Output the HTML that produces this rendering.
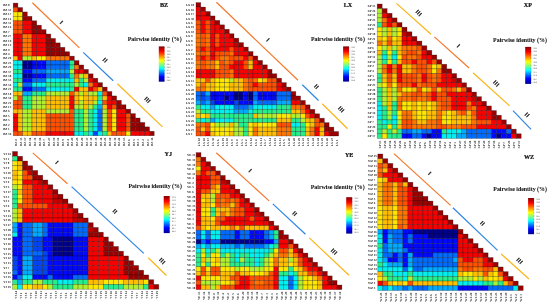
<!DOCTYPE html><html><head><meta charset="utf-8"><style>html,body{margin:0;padding:0;background:#fff;width:550px;height:307px;overflow:hidden}svg{display:block}</style></head><body>
<svg width="550" height="307" viewBox="0 0 550 307">
<rect width="550" height="307" fill="#fff"/>
<g stroke="#000" stroke-width="0.6" stroke-opacity="0.4"><rect x="13.20" y="3.10" width="4.70" height="4.42" fill="#9a0000"/><rect x="13.20" y="7.52" width="4.70" height="4.42" fill="#ff5000"/><rect x="17.90" y="7.52" width="4.70" height="4.42" fill="#9a0000"/><rect x="13.20" y="11.94" width="4.70" height="4.42" fill="#ffe800"/><rect x="17.90" y="11.94" width="4.70" height="4.42" fill="#ffe800"/><rect x="22.60" y="11.94" width="4.70" height="4.42" fill="#9a0000"/><rect x="13.20" y="16.36" width="4.70" height="4.42" fill="#ffe800"/><rect x="17.90" y="16.36" width="4.70" height="4.42" fill="#ffe800"/><rect x="22.60" y="16.36" width="4.70" height="4.42" fill="#9a0000"/><rect x="27.30" y="16.36" width="4.70" height="4.42" fill="#9a0000"/><rect x="13.20" y="20.78" width="4.70" height="4.42" fill="#ff5000"/><rect x="17.90" y="20.78" width="4.70" height="4.42" fill="#ff5000"/><rect x="22.60" y="20.78" width="4.70" height="4.42" fill="#f80000"/><rect x="27.30" y="20.78" width="4.70" height="4.42" fill="#f80000"/><rect x="32.00" y="20.78" width="4.70" height="4.42" fill="#9a0000"/><rect x="13.20" y="25.20" width="4.70" height="4.42" fill="#ff5000"/><rect x="17.90" y="25.20" width="4.70" height="4.42" fill="#ff5000"/><rect x="22.60" y="25.20" width="4.70" height="4.42" fill="#f80000"/><rect x="27.30" y="25.20" width="4.70" height="4.42" fill="#f80000"/><rect x="32.00" y="25.20" width="4.70" height="4.42" fill="#9a0000"/><rect x="36.70" y="25.20" width="4.70" height="4.42" fill="#9a0000"/><rect x="13.20" y="29.62" width="4.70" height="4.42" fill="#ff5000"/><rect x="17.90" y="29.62" width="4.70" height="4.42" fill="#ff5000"/><rect x="22.60" y="29.62" width="4.70" height="4.42" fill="#f80000"/><rect x="27.30" y="29.62" width="4.70" height="4.42" fill="#f80000"/><rect x="32.00" y="29.62" width="4.70" height="4.42" fill="#9a0000"/><rect x="36.70" y="29.62" width="4.70" height="4.42" fill="#9a0000"/><rect x="41.40" y="29.62" width="4.70" height="4.42" fill="#9a0000"/><rect x="13.20" y="34.04" width="4.70" height="4.42" fill="#f80000"/><rect x="17.90" y="34.04" width="4.70" height="4.42" fill="#f80000"/><rect x="22.60" y="34.04" width="4.70" height="4.42" fill="#ff7400"/><rect x="27.30" y="34.04" width="4.70" height="4.42" fill="#ff7400"/><rect x="32.00" y="34.04" width="4.70" height="4.42" fill="#f80000"/><rect x="36.70" y="34.04" width="4.70" height="4.42" fill="#f80000"/><rect x="41.40" y="34.04" width="4.70" height="4.42" fill="#f80000"/><rect x="46.10" y="34.04" width="4.70" height="4.42" fill="#9a0000"/><rect x="13.20" y="38.46" width="4.70" height="4.42" fill="#f80000"/><rect x="17.90" y="38.46" width="4.70" height="4.42" fill="#f80000"/><rect x="22.60" y="38.46" width="4.70" height="4.42" fill="#ff7400"/><rect x="27.30" y="38.46" width="4.70" height="4.42" fill="#ff7400"/><rect x="32.00" y="38.46" width="4.70" height="4.42" fill="#f80000"/><rect x="36.70" y="38.46" width="4.70" height="4.42" fill="#f80000"/><rect x="41.40" y="38.46" width="4.70" height="4.42" fill="#f80000"/><rect x="46.10" y="38.46" width="4.70" height="4.42" fill="#9a0000"/><rect x="50.80" y="38.46" width="4.70" height="4.42" fill="#9a0000"/><rect x="13.20" y="42.88" width="4.70" height="4.42" fill="#f80000"/><rect x="17.90" y="42.88" width="4.70" height="4.42" fill="#f80000"/><rect x="22.60" y="42.88" width="4.70" height="4.42" fill="#ff7400"/><rect x="27.30" y="42.88" width="4.70" height="4.42" fill="#ff7400"/><rect x="32.00" y="42.88" width="4.70" height="4.42" fill="#f80000"/><rect x="36.70" y="42.88" width="4.70" height="4.42" fill="#f80000"/><rect x="41.40" y="42.88" width="4.70" height="4.42" fill="#f80000"/><rect x="46.10" y="42.88" width="4.70" height="4.42" fill="#9a0000"/><rect x="50.80" y="42.88" width="4.70" height="4.42" fill="#9a0000"/><rect x="55.50" y="42.88" width="4.70" height="4.42" fill="#9a0000"/><rect x="13.20" y="47.30" width="4.70" height="4.42" fill="#f80000"/><rect x="17.90" y="47.30" width="4.70" height="4.42" fill="#f80000"/><rect x="22.60" y="47.30" width="4.70" height="4.42" fill="#ff7400"/><rect x="27.30" y="47.30" width="4.70" height="4.42" fill="#ff7400"/><rect x="32.00" y="47.30" width="4.70" height="4.42" fill="#f80000"/><rect x="36.70" y="47.30" width="4.70" height="4.42" fill="#f80000"/><rect x="41.40" y="47.30" width="4.70" height="4.42" fill="#f80000"/><rect x="46.10" y="47.30" width="4.70" height="4.42" fill="#9a0000"/><rect x="50.80" y="47.30" width="4.70" height="4.42" fill="#9a0000"/><rect x="55.50" y="47.30" width="4.70" height="4.42" fill="#9a0000"/><rect x="60.20" y="47.30" width="4.70" height="4.42" fill="#9a0000"/><rect x="13.20" y="51.72" width="4.70" height="4.42" fill="#f80000"/><rect x="17.90" y="51.72" width="4.70" height="4.42" fill="#f80000"/><rect x="22.60" y="51.72" width="4.70" height="4.42" fill="#ff7400"/><rect x="27.30" y="51.72" width="4.70" height="4.42" fill="#ff7400"/><rect x="32.00" y="51.72" width="4.70" height="4.42" fill="#f80000"/><rect x="36.70" y="51.72" width="4.70" height="4.42" fill="#f80000"/><rect x="41.40" y="51.72" width="4.70" height="4.42" fill="#f80000"/><rect x="46.10" y="51.72" width="4.70" height="4.42" fill="#9a0000"/><rect x="50.80" y="51.72" width="4.70" height="4.42" fill="#9a0000"/><rect x="55.50" y="51.72" width="4.70" height="4.42" fill="#9a0000"/><rect x="60.20" y="51.72" width="4.70" height="4.42" fill="#9a0000"/><rect x="64.90" y="51.72" width="4.70" height="4.42" fill="#9a0000"/><rect x="13.20" y="56.14" width="4.70" height="4.42" fill="#ffbf00"/><rect x="17.90" y="56.14" width="4.70" height="4.42" fill="#f80000"/><rect x="22.60" y="56.14" width="4.70" height="4.42" fill="#b0f030"/><rect x="27.30" y="56.14" width="4.70" height="4.42" fill="#b0f030"/><rect x="32.00" y="56.14" width="4.70" height="4.42" fill="#ffbf00"/><rect x="36.70" y="56.14" width="4.70" height="4.42" fill="#ffe800"/><rect x="41.40" y="56.14" width="4.70" height="4.42" fill="#ffe800"/><rect x="46.10" y="56.14" width="4.70" height="4.42" fill="#ff7400"/><rect x="50.80" y="56.14" width="4.70" height="4.42" fill="#ff7400"/><rect x="55.50" y="56.14" width="4.70" height="4.42" fill="#ff7400"/><rect x="60.20" y="56.14" width="4.70" height="4.42" fill="#ff7400"/><rect x="64.90" y="56.14" width="4.70" height="4.42" fill="#ff7400"/><rect x="69.60" y="56.14" width="4.70" height="4.42" fill="#9a0000"/><rect x="13.20" y="60.56" width="4.70" height="4.42" fill="#00f0f0"/><rect x="17.90" y="60.56" width="4.70" height="4.42" fill="#00f0f0"/><rect x="22.60" y="60.56" width="4.70" height="4.42" fill="#000090"/><rect x="27.30" y="60.56" width="4.70" height="4.42" fill="#000090"/><rect x="32.00" y="60.56" width="4.70" height="4.42" fill="#0008ff"/><rect x="36.70" y="60.56" width="4.70" height="4.42" fill="#0008ff"/><rect x="41.40" y="60.56" width="4.70" height="4.42" fill="#0008ff"/><rect x="46.10" y="60.56" width="4.70" height="4.42" fill="#006cff"/><rect x="50.80" y="60.56" width="4.70" height="4.42" fill="#006cff"/><rect x="55.50" y="60.56" width="4.70" height="4.42" fill="#006cff"/><rect x="60.20" y="60.56" width="4.70" height="4.42" fill="#006cff"/><rect x="64.90" y="60.56" width="4.70" height="4.42" fill="#006cff"/><rect x="69.60" y="60.56" width="4.70" height="4.42" fill="#26ee8c"/><rect x="74.30" y="60.56" width="4.70" height="4.42" fill="#9a0000"/><rect x="13.20" y="64.98" width="4.70" height="4.42" fill="#00f0f0"/><rect x="17.90" y="64.98" width="4.70" height="4.42" fill="#00f0f0"/><rect x="22.60" y="64.98" width="4.70" height="4.42" fill="#000090"/><rect x="27.30" y="64.98" width="4.70" height="4.42" fill="#000090"/><rect x="32.00" y="64.98" width="4.70" height="4.42" fill="#0008ff"/><rect x="36.70" y="64.98" width="4.70" height="4.42" fill="#0008ff"/><rect x="41.40" y="64.98" width="4.70" height="4.42" fill="#0008ff"/><rect x="46.10" y="64.98" width="4.70" height="4.42" fill="#006cff"/><rect x="50.80" y="64.98" width="4.70" height="4.42" fill="#006cff"/><rect x="55.50" y="64.98" width="4.70" height="4.42" fill="#006cff"/><rect x="60.20" y="64.98" width="4.70" height="4.42" fill="#006cff"/><rect x="64.90" y="64.98" width="4.70" height="4.42" fill="#006cff"/><rect x="69.60" y="64.98" width="4.70" height="4.42" fill="#26ee8c"/><rect x="74.30" y="64.98" width="4.70" height="4.42" fill="#ff7400"/><rect x="79.00" y="64.98" width="4.70" height="4.42" fill="#9a0000"/><rect x="13.20" y="69.40" width="4.70" height="4.42" fill="#26ee8c"/><rect x="17.90" y="69.40" width="4.70" height="4.42" fill="#26ee8c"/><rect x="22.60" y="69.40" width="4.70" height="4.42" fill="#0008ff"/><rect x="27.30" y="69.40" width="4.70" height="4.42" fill="#0008ff"/><rect x="32.00" y="69.40" width="4.70" height="4.42" fill="#006cff"/><rect x="36.70" y="69.40" width="4.70" height="4.42" fill="#006cff"/><rect x="41.40" y="69.40" width="4.70" height="4.42" fill="#006cff"/><rect x="46.10" y="69.40" width="4.70" height="4.42" fill="#00aaff"/><rect x="50.80" y="69.40" width="4.70" height="4.42" fill="#00aaff"/><rect x="55.50" y="69.40" width="4.70" height="4.42" fill="#00aaff"/><rect x="60.20" y="69.40" width="4.70" height="4.42" fill="#00aaff"/><rect x="64.90" y="69.40" width="4.70" height="4.42" fill="#00aaff"/><rect x="69.60" y="69.40" width="4.70" height="4.42" fill="#b0f030"/><rect x="74.30" y="69.40" width="4.70" height="4.42" fill="#f80000"/><rect x="79.00" y="69.40" width="4.70" height="4.42" fill="#f80000"/><rect x="83.70" y="69.40" width="4.70" height="4.42" fill="#9a0000"/><rect x="13.20" y="73.82" width="4.70" height="4.42" fill="#00f0f0"/><rect x="17.90" y="73.82" width="4.70" height="4.42" fill="#00f0f0"/><rect x="22.60" y="73.82" width="4.70" height="4.42" fill="#000090"/><rect x="27.30" y="73.82" width="4.70" height="4.42" fill="#000090"/><rect x="32.00" y="73.82" width="4.70" height="4.42" fill="#0008ff"/><rect x="36.70" y="73.82" width="4.70" height="4.42" fill="#0008ff"/><rect x="41.40" y="73.82" width="4.70" height="4.42" fill="#0008ff"/><rect x="46.10" y="73.82" width="4.70" height="4.42" fill="#006cff"/><rect x="50.80" y="73.82" width="4.70" height="4.42" fill="#006cff"/><rect x="55.50" y="73.82" width="4.70" height="4.42" fill="#006cff"/><rect x="60.20" y="73.82" width="4.70" height="4.42" fill="#006cff"/><rect x="64.90" y="73.82" width="4.70" height="4.42" fill="#006cff"/><rect x="69.60" y="73.82" width="4.70" height="4.42" fill="#26ee8c"/><rect x="74.30" y="73.82" width="4.70" height="4.42" fill="#ff7400"/><rect x="79.00" y="73.82" width="4.70" height="4.42" fill="#b0f030"/><rect x="83.70" y="73.82" width="4.70" height="4.42" fill="#ffbf00"/><rect x="88.40" y="73.82" width="4.70" height="4.42" fill="#9a0000"/><rect x="13.20" y="78.24" width="4.70" height="4.42" fill="#26ee8c"/><rect x="17.90" y="78.24" width="4.70" height="4.42" fill="#26ee8c"/><rect x="22.60" y="78.24" width="4.70" height="4.42" fill="#0008ff"/><rect x="27.30" y="78.24" width="4.70" height="4.42" fill="#0008ff"/><rect x="32.00" y="78.24" width="4.70" height="4.42" fill="#006cff"/><rect x="36.70" y="78.24" width="4.70" height="4.42" fill="#006cff"/><rect x="41.40" y="78.24" width="4.70" height="4.42" fill="#006cff"/><rect x="46.10" y="78.24" width="4.70" height="4.42" fill="#00f0f0"/><rect x="50.80" y="78.24" width="4.70" height="4.42" fill="#00f0f0"/><rect x="55.50" y="78.24" width="4.70" height="4.42" fill="#00f0f0"/><rect x="60.20" y="78.24" width="4.70" height="4.42" fill="#00f0f0"/><rect x="64.90" y="78.24" width="4.70" height="4.42" fill="#00f0f0"/><rect x="69.60" y="78.24" width="4.70" height="4.42" fill="#00f0f0"/><rect x="74.30" y="78.24" width="4.70" height="4.42" fill="#ffbf00"/><rect x="79.00" y="78.24" width="4.70" height="4.42" fill="#26ee8c"/><rect x="83.70" y="78.24" width="4.70" height="4.42" fill="#b0f030"/><rect x="88.40" y="78.24" width="4.70" height="4.42" fill="#f80000"/><rect x="93.10" y="78.24" width="4.70" height="4.42" fill="#9a0000"/><rect x="13.20" y="82.66" width="4.70" height="4.42" fill="#00f0f0"/><rect x="17.90" y="82.66" width="4.70" height="4.42" fill="#b0f030"/><rect x="22.60" y="82.66" width="4.70" height="4.42" fill="#006cff"/><rect x="27.30" y="82.66" width="4.70" height="4.42" fill="#006cff"/><rect x="32.00" y="82.66" width="4.70" height="4.42" fill="#00f0f0"/><rect x="36.70" y="82.66" width="4.70" height="4.42" fill="#00f0f0"/><rect x="41.40" y="82.66" width="4.70" height="4.42" fill="#00f0f0"/><rect x="46.10" y="82.66" width="4.70" height="4.42" fill="#26ee8c"/><rect x="50.80" y="82.66" width="4.70" height="4.42" fill="#26ee8c"/><rect x="55.50" y="82.66" width="4.70" height="4.42" fill="#26ee8c"/><rect x="60.20" y="82.66" width="4.70" height="4.42" fill="#26ee8c"/><rect x="64.90" y="82.66" width="4.70" height="4.42" fill="#26ee8c"/><rect x="69.60" y="82.66" width="4.70" height="4.42" fill="#26ee8c"/><rect x="74.30" y="82.66" width="4.70" height="4.42" fill="#b0f030"/><rect x="79.00" y="82.66" width="4.70" height="4.42" fill="#26ee8c"/><rect x="83.70" y="82.66" width="4.70" height="4.42" fill="#00f0f0"/><rect x="88.40" y="82.66" width="4.70" height="4.42" fill="#ff7400"/><rect x="93.10" y="82.66" width="4.70" height="4.42" fill="#f80000"/><rect x="97.80" y="82.66" width="4.70" height="4.42" fill="#9a0000"/><rect x="13.20" y="87.08" width="4.70" height="4.42" fill="#26ee8c"/><rect x="17.90" y="87.08" width="4.70" height="4.42" fill="#26ee8c"/><rect x="22.60" y="87.08" width="4.70" height="4.42" fill="#0008ff"/><rect x="27.30" y="87.08" width="4.70" height="4.42" fill="#0008ff"/><rect x="32.00" y="87.08" width="4.70" height="4.42" fill="#006cff"/><rect x="36.70" y="87.08" width="4.70" height="4.42" fill="#006cff"/><rect x="41.40" y="87.08" width="4.70" height="4.42" fill="#006cff"/><rect x="46.10" y="87.08" width="4.70" height="4.42" fill="#00f0f0"/><rect x="50.80" y="87.08" width="4.70" height="4.42" fill="#00f0f0"/><rect x="55.50" y="87.08" width="4.70" height="4.42" fill="#00f0f0"/><rect x="60.20" y="87.08" width="4.70" height="4.42" fill="#00f0f0"/><rect x="64.90" y="87.08" width="4.70" height="4.42" fill="#00f0f0"/><rect x="69.60" y="87.08" width="4.70" height="4.42" fill="#26ee8c"/><rect x="74.30" y="87.08" width="4.70" height="4.42" fill="#f80000"/><rect x="79.00" y="87.08" width="4.70" height="4.42" fill="#ffbf00"/><rect x="83.70" y="87.08" width="4.70" height="4.42" fill="#ffbf00"/><rect x="88.40" y="87.08" width="4.70" height="4.42" fill="#f80000"/><rect x="93.10" y="87.08" width="4.70" height="4.42" fill="#ff5000"/><rect x="97.80" y="87.08" width="4.70" height="4.42" fill="#ffbf00"/><rect x="102.50" y="87.08" width="4.70" height="4.42" fill="#9a0000"/><rect x="13.20" y="91.50" width="4.70" height="4.42" fill="#ffbf00"/><rect x="17.90" y="91.50" width="4.70" height="4.42" fill="#ffbf00"/><rect x="22.60" y="91.50" width="4.70" height="4.42" fill="#00aaff"/><rect x="27.30" y="91.50" width="4.70" height="4.42" fill="#00aaff"/><rect x="32.00" y="91.50" width="4.70" height="4.42" fill="#26ee8c"/><rect x="36.70" y="91.50" width="4.70" height="4.42" fill="#26ee8c"/><rect x="41.40" y="91.50" width="4.70" height="4.42" fill="#26ee8c"/><rect x="46.10" y="91.50" width="4.70" height="4.42" fill="#b0f030"/><rect x="50.80" y="91.50" width="4.70" height="4.42" fill="#b0f030"/><rect x="55.50" y="91.50" width="4.70" height="4.42" fill="#b0f030"/><rect x="60.20" y="91.50" width="4.70" height="4.42" fill="#b0f030"/><rect x="64.90" y="91.50" width="4.70" height="4.42" fill="#b0f030"/><rect x="69.60" y="91.50" width="4.70" height="4.42" fill="#ff5000"/><rect x="74.30" y="91.50" width="4.70" height="4.42" fill="#ffbf00"/><rect x="79.00" y="91.50" width="4.70" height="4.42" fill="#b0f030"/><rect x="83.70" y="91.50" width="4.70" height="4.42" fill="#ffbf00"/><rect x="88.40" y="91.50" width="4.70" height="4.42" fill="#b0f030"/><rect x="93.10" y="91.50" width="4.70" height="4.42" fill="#b0f030"/><rect x="97.80" y="91.50" width="4.70" height="4.42" fill="#00f0f0"/><rect x="102.50" y="91.50" width="4.70" height="4.42" fill="#ff5000"/><rect x="107.20" y="91.50" width="4.70" height="4.42" fill="#9a0000"/><rect x="13.20" y="95.92" width="4.70" height="4.42" fill="#b0f030"/><rect x="17.90" y="95.92" width="4.70" height="4.42" fill="#ff5000"/><rect x="22.60" y="95.92" width="4.70" height="4.42" fill="#26ee8c"/><rect x="27.30" y="95.92" width="4.70" height="4.42" fill="#26ee8c"/><rect x="32.00" y="95.92" width="4.70" height="4.42" fill="#b0f030"/><rect x="36.70" y="95.92" width="4.70" height="4.42" fill="#b0f030"/><rect x="41.40" y="95.92" width="4.70" height="4.42" fill="#b0f030"/><rect x="46.10" y="95.92" width="4.70" height="4.42" fill="#ffbf00"/><rect x="50.80" y="95.92" width="4.70" height="4.42" fill="#ffbf00"/><rect x="55.50" y="95.92" width="4.70" height="4.42" fill="#ffbf00"/><rect x="60.20" y="95.92" width="4.70" height="4.42" fill="#ffbf00"/><rect x="64.90" y="95.92" width="4.70" height="4.42" fill="#ffbf00"/><rect x="69.60" y="95.92" width="4.70" height="4.42" fill="#f80000"/><rect x="74.30" y="95.92" width="4.70" height="4.42" fill="#ffbf00"/><rect x="79.00" y="95.92" width="4.70" height="4.42" fill="#ffe800"/><rect x="83.70" y="95.92" width="4.70" height="4.42" fill="#ffbf00"/><rect x="88.40" y="95.92" width="4.70" height="4.42" fill="#ffbf00"/><rect x="93.10" y="95.92" width="4.70" height="4.42" fill="#ffbf00"/><rect x="97.80" y="95.92" width="4.70" height="4.42" fill="#26ee8c"/><rect x="102.50" y="95.92" width="4.70" height="4.42" fill="#ffbf00"/><rect x="107.20" y="95.92" width="4.70" height="4.42" fill="#f80000"/><rect x="111.90" y="95.92" width="4.70" height="4.42" fill="#9a0000"/><rect x="13.20" y="100.34" width="4.70" height="4.42" fill="#ff5000"/><rect x="17.90" y="100.34" width="4.70" height="4.42" fill="#ff5000"/><rect x="22.60" y="100.34" width="4.70" height="4.42" fill="#26ee8c"/><rect x="27.30" y="100.34" width="4.70" height="4.42" fill="#26ee8c"/><rect x="32.00" y="100.34" width="4.70" height="4.42" fill="#b0f030"/><rect x="36.70" y="100.34" width="4.70" height="4.42" fill="#b0f030"/><rect x="41.40" y="100.34" width="4.70" height="4.42" fill="#b0f030"/><rect x="46.10" y="100.34" width="4.70" height="4.42" fill="#ffbf00"/><rect x="50.80" y="100.34" width="4.70" height="4.42" fill="#ffbf00"/><rect x="55.50" y="100.34" width="4.70" height="4.42" fill="#ffbf00"/><rect x="60.20" y="100.34" width="4.70" height="4.42" fill="#ffbf00"/><rect x="64.90" y="100.34" width="4.70" height="4.42" fill="#ffbf00"/><rect x="69.60" y="100.34" width="4.70" height="4.42" fill="#f80000"/><rect x="74.30" y="100.34" width="4.70" height="4.42" fill="#ffbf00"/><rect x="79.00" y="100.34" width="4.70" height="4.42" fill="#b0f030"/><rect x="83.70" y="100.34" width="4.70" height="4.42" fill="#ffbf00"/><rect x="88.40" y="100.34" width="4.70" height="4.42" fill="#ffbf00"/><rect x="93.10" y="100.34" width="4.70" height="4.42" fill="#b0f030"/><rect x="97.80" y="100.34" width="4.70" height="4.42" fill="#00f0f0"/><rect x="102.50" y="100.34" width="4.70" height="4.42" fill="#ff5000"/><rect x="107.20" y="100.34" width="4.70" height="4.42" fill="#f80000"/><rect x="111.90" y="100.34" width="4.70" height="4.42" fill="#f80000"/><rect x="116.60" y="100.34" width="4.70" height="4.42" fill="#9a0000"/><rect x="13.20" y="104.76" width="4.70" height="4.42" fill="#ff5000"/><rect x="17.90" y="104.76" width="4.70" height="4.42" fill="#ff5000"/><rect x="22.60" y="104.76" width="4.70" height="4.42" fill="#26ee8c"/><rect x="27.30" y="104.76" width="4.70" height="4.42" fill="#26ee8c"/><rect x="32.00" y="104.76" width="4.70" height="4.42" fill="#b0f030"/><rect x="36.70" y="104.76" width="4.70" height="4.42" fill="#b0f030"/><rect x="41.40" y="104.76" width="4.70" height="4.42" fill="#b0f030"/><rect x="46.10" y="104.76" width="4.70" height="4.42" fill="#ffbf00"/><rect x="50.80" y="104.76" width="4.70" height="4.42" fill="#ffbf00"/><rect x="55.50" y="104.76" width="4.70" height="4.42" fill="#ffbf00"/><rect x="60.20" y="104.76" width="4.70" height="4.42" fill="#ffbf00"/><rect x="64.90" y="104.76" width="4.70" height="4.42" fill="#ffbf00"/><rect x="69.60" y="104.76" width="4.70" height="4.42" fill="#f80000"/><rect x="74.30" y="104.76" width="4.70" height="4.42" fill="#b0f030"/><rect x="79.00" y="104.76" width="4.70" height="4.42" fill="#b0f030"/><rect x="83.70" y="104.76" width="4.70" height="4.42" fill="#ffbf00"/><rect x="88.40" y="104.76" width="4.70" height="4.42" fill="#b0f030"/><rect x="93.10" y="104.76" width="4.70" height="4.42" fill="#26ee8c"/><rect x="97.80" y="104.76" width="4.70" height="4.42" fill="#00aaff"/><rect x="102.50" y="104.76" width="4.70" height="4.42" fill="#ffbf00"/><rect x="107.20" y="104.76" width="4.70" height="4.42" fill="#f80000"/><rect x="111.90" y="104.76" width="4.70" height="4.42" fill="#ff5000"/><rect x="116.60" y="104.76" width="4.70" height="4.42" fill="#9a0000"/><rect x="121.30" y="104.76" width="4.70" height="4.42" fill="#9a0000"/><rect x="13.20" y="109.18" width="4.70" height="4.42" fill="#ffbf00"/><rect x="17.90" y="109.18" width="4.70" height="4.42" fill="#ffbf00"/><rect x="22.60" y="109.18" width="4.70" height="4.42" fill="#b0f030"/><rect x="27.30" y="109.18" width="4.70" height="4.42" fill="#b0f030"/><rect x="32.00" y="109.18" width="4.70" height="4.42" fill="#ffbf00"/><rect x="36.70" y="109.18" width="4.70" height="4.42" fill="#ffbf00"/><rect x="41.40" y="109.18" width="4.70" height="4.42" fill="#ffbf00"/><rect x="46.10" y="109.18" width="4.70" height="4.42" fill="#b0f030"/><rect x="50.80" y="109.18" width="4.70" height="4.42" fill="#b0f030"/><rect x="55.50" y="109.18" width="4.70" height="4.42" fill="#b0f030"/><rect x="60.20" y="109.18" width="4.70" height="4.42" fill="#b0f030"/><rect x="64.90" y="109.18" width="4.70" height="4.42" fill="#b0f030"/><rect x="69.60" y="109.18" width="4.70" height="4.42" fill="#ff5000"/><rect x="74.30" y="109.18" width="4.70" height="4.42" fill="#26ee8c"/><rect x="79.00" y="109.18" width="4.70" height="4.42" fill="#26ee8c"/><rect x="83.70" y="109.18" width="4.70" height="4.42" fill="#b0f030"/><rect x="88.40" y="109.18" width="4.70" height="4.42" fill="#26ee8c"/><rect x="93.10" y="109.18" width="4.70" height="4.42" fill="#00f0f0"/><rect x="97.80" y="109.18" width="4.70" height="4.42" fill="#006cff"/><rect x="102.50" y="109.18" width="4.70" height="4.42" fill="#b0f030"/><rect x="107.20" y="109.18" width="4.70" height="4.42" fill="#ff5000"/><rect x="111.90" y="109.18" width="4.70" height="4.42" fill="#ffe800"/><rect x="116.60" y="109.18" width="4.70" height="4.42" fill="#f80000"/><rect x="121.30" y="109.18" width="4.70" height="4.42" fill="#f80000"/><rect x="126.00" y="109.18" width="4.70" height="4.42" fill="#9a0000"/><rect x="13.20" y="113.60" width="4.70" height="4.42" fill="#f80000"/><rect x="17.90" y="113.60" width="4.70" height="4.42" fill="#ffbf00"/><rect x="22.60" y="113.60" width="4.70" height="4.42" fill="#b0f030"/><rect x="27.30" y="113.60" width="4.70" height="4.42" fill="#b0f030"/><rect x="32.00" y="113.60" width="4.70" height="4.42" fill="#ffbf00"/><rect x="36.70" y="113.60" width="4.70" height="4.42" fill="#ffbf00"/><rect x="41.40" y="113.60" width="4.70" height="4.42" fill="#ffbf00"/><rect x="46.10" y="113.60" width="4.70" height="4.42" fill="#ff5000"/><rect x="50.80" y="113.60" width="4.70" height="4.42" fill="#ff5000"/><rect x="55.50" y="113.60" width="4.70" height="4.42" fill="#ff5000"/><rect x="60.20" y="113.60" width="4.70" height="4.42" fill="#ff5000"/><rect x="64.90" y="113.60" width="4.70" height="4.42" fill="#ff5000"/><rect x="69.60" y="113.60" width="4.70" height="4.42" fill="#ff5000"/><rect x="74.30" y="113.60" width="4.70" height="4.42" fill="#26ee8c"/><rect x="79.00" y="113.60" width="4.70" height="4.42" fill="#26ee8c"/><rect x="83.70" y="113.60" width="4.70" height="4.42" fill="#b0f030"/><rect x="88.40" y="113.60" width="4.70" height="4.42" fill="#26ee8c"/><rect x="93.10" y="113.60" width="4.70" height="4.42" fill="#00f0f0"/><rect x="97.80" y="113.60" width="4.70" height="4.42" fill="#006cff"/><rect x="102.50" y="113.60" width="4.70" height="4.42" fill="#b0f030"/><rect x="107.20" y="113.60" width="4.70" height="4.42" fill="#ff5000"/><rect x="111.90" y="113.60" width="4.70" height="4.42" fill="#ffe800"/><rect x="116.60" y="113.60" width="4.70" height="4.42" fill="#f80000"/><rect x="121.30" y="113.60" width="4.70" height="4.42" fill="#f80000"/><rect x="126.00" y="113.60" width="4.70" height="4.42" fill="#ff5000"/><rect x="130.70" y="113.60" width="4.70" height="4.42" fill="#9a0000"/><rect x="13.20" y="118.02" width="4.70" height="4.42" fill="#f80000"/><rect x="17.90" y="118.02" width="4.70" height="4.42" fill="#ffbf00"/><rect x="22.60" y="118.02" width="4.70" height="4.42" fill="#b0f030"/><rect x="27.30" y="118.02" width="4.70" height="4.42" fill="#b0f030"/><rect x="32.00" y="118.02" width="4.70" height="4.42" fill="#ffbf00"/><rect x="36.70" y="118.02" width="4.70" height="4.42" fill="#ffbf00"/><rect x="41.40" y="118.02" width="4.70" height="4.42" fill="#ffbf00"/><rect x="46.10" y="118.02" width="4.70" height="4.42" fill="#ff5000"/><rect x="50.80" y="118.02" width="4.70" height="4.42" fill="#ff5000"/><rect x="55.50" y="118.02" width="4.70" height="4.42" fill="#ff5000"/><rect x="60.20" y="118.02" width="4.70" height="4.42" fill="#ff5000"/><rect x="64.90" y="118.02" width="4.70" height="4.42" fill="#ff5000"/><rect x="69.60" y="118.02" width="4.70" height="4.42" fill="#ff5000"/><rect x="74.30" y="118.02" width="4.70" height="4.42" fill="#26ee8c"/><rect x="79.00" y="118.02" width="4.70" height="4.42" fill="#26ee8c"/><rect x="83.70" y="118.02" width="4.70" height="4.42" fill="#b0f030"/><rect x="88.40" y="118.02" width="4.70" height="4.42" fill="#26ee8c"/><rect x="93.10" y="118.02" width="4.70" height="4.42" fill="#00f0f0"/><rect x="97.80" y="118.02" width="4.70" height="4.42" fill="#006cff"/><rect x="102.50" y="118.02" width="4.70" height="4.42" fill="#b0f030"/><rect x="107.20" y="118.02" width="4.70" height="4.42" fill="#ff5000"/><rect x="111.90" y="118.02" width="4.70" height="4.42" fill="#ffe800"/><rect x="116.60" y="118.02" width="4.70" height="4.42" fill="#f80000"/><rect x="121.30" y="118.02" width="4.70" height="4.42" fill="#f80000"/><rect x="126.00" y="118.02" width="4.70" height="4.42" fill="#ff5000"/><rect x="130.70" y="118.02" width="4.70" height="4.42" fill="#9a0000"/><rect x="135.40" y="118.02" width="4.70" height="4.42" fill="#9a0000"/><rect x="13.20" y="122.44" width="4.70" height="4.42" fill="#f80000"/><rect x="17.90" y="122.44" width="4.70" height="4.42" fill="#ffbf00"/><rect x="22.60" y="122.44" width="4.70" height="4.42" fill="#b0f030"/><rect x="27.30" y="122.44" width="4.70" height="4.42" fill="#b0f030"/><rect x="32.00" y="122.44" width="4.70" height="4.42" fill="#ffbf00"/><rect x="36.70" y="122.44" width="4.70" height="4.42" fill="#ffbf00"/><rect x="41.40" y="122.44" width="4.70" height="4.42" fill="#ffbf00"/><rect x="46.10" y="122.44" width="4.70" height="4.42" fill="#ff5000"/><rect x="50.80" y="122.44" width="4.70" height="4.42" fill="#ff5000"/><rect x="55.50" y="122.44" width="4.70" height="4.42" fill="#ff5000"/><rect x="60.20" y="122.44" width="4.70" height="4.42" fill="#ff5000"/><rect x="64.90" y="122.44" width="4.70" height="4.42" fill="#ff5000"/><rect x="69.60" y="122.44" width="4.70" height="4.42" fill="#ff5000"/><rect x="74.30" y="122.44" width="4.70" height="4.42" fill="#26ee8c"/><rect x="79.00" y="122.44" width="4.70" height="4.42" fill="#26ee8c"/><rect x="83.70" y="122.44" width="4.70" height="4.42" fill="#b0f030"/><rect x="88.40" y="122.44" width="4.70" height="4.42" fill="#26ee8c"/><rect x="93.10" y="122.44" width="4.70" height="4.42" fill="#00f0f0"/><rect x="97.80" y="122.44" width="4.70" height="4.42" fill="#006cff"/><rect x="102.50" y="122.44" width="4.70" height="4.42" fill="#b0f030"/><rect x="107.20" y="122.44" width="4.70" height="4.42" fill="#ff5000"/><rect x="111.90" y="122.44" width="4.70" height="4.42" fill="#ffe800"/><rect x="116.60" y="122.44" width="4.70" height="4.42" fill="#f80000"/><rect x="121.30" y="122.44" width="4.70" height="4.42" fill="#f80000"/><rect x="126.00" y="122.44" width="4.70" height="4.42" fill="#ff5000"/><rect x="130.70" y="122.44" width="4.70" height="4.42" fill="#9a0000"/><rect x="135.40" y="122.44" width="4.70" height="4.42" fill="#9a0000"/><rect x="140.10" y="122.44" width="4.70" height="4.42" fill="#9a0000"/><rect x="13.20" y="126.86" width="4.70" height="4.42" fill="#f80000"/><rect x="17.90" y="126.86" width="4.70" height="4.42" fill="#ffbf00"/><rect x="22.60" y="126.86" width="4.70" height="4.42" fill="#b0f030"/><rect x="27.30" y="126.86" width="4.70" height="4.42" fill="#b0f030"/><rect x="32.00" y="126.86" width="4.70" height="4.42" fill="#ffbf00"/><rect x="36.70" y="126.86" width="4.70" height="4.42" fill="#ffbf00"/><rect x="41.40" y="126.86" width="4.70" height="4.42" fill="#ffbf00"/><rect x="46.10" y="126.86" width="4.70" height="4.42" fill="#ff5000"/><rect x="50.80" y="126.86" width="4.70" height="4.42" fill="#ff5000"/><rect x="55.50" y="126.86" width="4.70" height="4.42" fill="#ff5000"/><rect x="60.20" y="126.86" width="4.70" height="4.42" fill="#ff5000"/><rect x="64.90" y="126.86" width="4.70" height="4.42" fill="#ff5000"/><rect x="69.60" y="126.86" width="4.70" height="4.42" fill="#ff5000"/><rect x="74.30" y="126.86" width="4.70" height="4.42" fill="#26ee8c"/><rect x="79.00" y="126.86" width="4.70" height="4.42" fill="#26ee8c"/><rect x="83.70" y="126.86" width="4.70" height="4.42" fill="#b0f030"/><rect x="88.40" y="126.86" width="4.70" height="4.42" fill="#26ee8c"/><rect x="93.10" y="126.86" width="4.70" height="4.42" fill="#00f0f0"/><rect x="97.80" y="126.86" width="4.70" height="4.42" fill="#006cff"/><rect x="102.50" y="126.86" width="4.70" height="4.42" fill="#b0f030"/><rect x="107.20" y="126.86" width="4.70" height="4.42" fill="#ff5000"/><rect x="111.90" y="126.86" width="4.70" height="4.42" fill="#ffe800"/><rect x="116.60" y="126.86" width="4.70" height="4.42" fill="#f80000"/><rect x="121.30" y="126.86" width="4.70" height="4.42" fill="#f80000"/><rect x="126.00" y="126.86" width="4.70" height="4.42" fill="#ff5000"/><rect x="130.70" y="126.86" width="4.70" height="4.42" fill="#9a0000"/><rect x="135.40" y="126.86" width="4.70" height="4.42" fill="#9a0000"/><rect x="140.10" y="126.86" width="4.70" height="4.42" fill="#9a0000"/><rect x="144.80" y="126.86" width="4.70" height="4.42" fill="#9a0000"/><rect x="13.20" y="131.28" width="4.70" height="4.42" fill="#ff5000"/><rect x="17.90" y="131.28" width="4.70" height="4.42" fill="#ff5000"/><rect x="22.60" y="131.28" width="4.70" height="4.42" fill="#ffbf00"/><rect x="27.30" y="131.28" width="4.70" height="4.42" fill="#ffbf00"/><rect x="32.00" y="131.28" width="4.70" height="4.42" fill="#ff5000"/><rect x="36.70" y="131.28" width="4.70" height="4.42" fill="#ff5000"/><rect x="41.40" y="131.28" width="4.70" height="4.42" fill="#ff5000"/><rect x="46.10" y="131.28" width="4.70" height="4.42" fill="#f80000"/><rect x="50.80" y="131.28" width="4.70" height="4.42" fill="#f80000"/><rect x="55.50" y="131.28" width="4.70" height="4.42" fill="#f80000"/><rect x="60.20" y="131.28" width="4.70" height="4.42" fill="#f80000"/><rect x="64.90" y="131.28" width="4.70" height="4.42" fill="#f80000"/><rect x="69.60" y="131.28" width="4.70" height="4.42" fill="#f80000"/><rect x="74.30" y="131.28" width="4.70" height="4.42" fill="#00f0f0"/><rect x="79.00" y="131.28" width="4.70" height="4.42" fill="#00f0f0"/><rect x="83.70" y="131.28" width="4.70" height="4.42" fill="#26ee8c"/><rect x="88.40" y="131.28" width="4.70" height="4.42" fill="#00f0f0"/><rect x="93.10" y="131.28" width="4.70" height="4.42" fill="#0044f4"/><rect x="97.80" y="131.28" width="4.70" height="4.42" fill="#00f0f0"/><rect x="102.50" y="131.28" width="4.70" height="4.42" fill="#26ee8c"/><rect x="107.20" y="131.28" width="4.70" height="4.42" fill="#ffbf00"/><rect x="111.90" y="131.28" width="4.70" height="4.42" fill="#ff5000"/><rect x="116.60" y="131.28" width="4.70" height="4.42" fill="#ff5000"/><rect x="121.30" y="131.28" width="4.70" height="4.42" fill="#ff5000"/><rect x="126.00" y="131.28" width="4.70" height="4.42" fill="#ffe800"/><rect x="130.70" y="131.28" width="4.70" height="4.42" fill="#f80000"/><rect x="135.40" y="131.28" width="4.70" height="4.42" fill="#f80000"/><rect x="140.10" y="131.28" width="4.70" height="4.42" fill="#f80000"/><rect x="144.80" y="131.28" width="4.70" height="4.42" fill="#f80000"/><rect x="149.50" y="131.28" width="4.70" height="4.42" fill="#9a0000"/></g>
<g font-family="Liberation Serif, serif" font-weight="bold" font-size="3.1" fill="#222" text-rendering="geometricPrecision" text-anchor="start"><text x="3.20" y="6.33">BZ 8</text><text x="3.20" y="10.75">BZ 33</text><text x="3.20" y="15.17">BZ 17</text><text x="3.20" y="19.59">BZ 14</text><text x="3.20" y="24.01">BZ 31</text><text x="3.20" y="28.43">BZ 16</text><text x="3.20" y="32.85">BZ 7</text><text x="3.20" y="37.27">BZ 27</text><text x="3.20" y="41.69">BZ 19</text><text x="3.20" y="46.11">BZ 12</text><text x="3.20" y="50.53">BZ 9</text><text x="3.20" y="54.95">BZ 4</text><text x="3.20" y="59.37">BZ 20</text><text x="3.20" y="63.79">BZ 25</text><text x="3.20" y="68.21">BZ 29</text><text x="3.20" y="72.63">BZ 37</text><text x="3.20" y="77.05">BZ 38</text><text x="3.20" y="81.47">BZ 35</text><text x="3.20" y="85.89">BZ 34</text><text x="3.20" y="90.31">BZ 21</text><text x="3.20" y="94.73">BZ 18</text><text x="3.20" y="99.15">BZ 30</text><text x="3.20" y="103.57">BZ 22</text><text x="3.20" y="107.99">BZ 13</text><text x="3.20" y="112.41">BZ 6</text><text x="3.20" y="116.83">BZ 5</text><text x="3.20" y="121.25">BZ 3</text><text x="3.20" y="125.67">BZ 2</text><text x="3.20" y="130.09">BZ 1</text><text x="3.20" y="134.51">BZ 36</text></g>
<g font-family="Liberation Serif, serif" font-weight="bold" font-size="3.1" fill="#222" text-rendering="geometricPrecision" text-anchor="start"><text transform="translate(17.03,145.70) rotate(-90)">BZ 8</text><text transform="translate(21.73,145.70) rotate(-90)">BZ 33</text><text transform="translate(26.44,145.70) rotate(-90)">BZ 17</text><text transform="translate(31.14,145.70) rotate(-90)">BZ 14</text><text transform="translate(35.84,145.70) rotate(-90)">BZ 31</text><text transform="translate(40.54,145.70) rotate(-90)">BZ 16</text><text transform="translate(45.24,145.70) rotate(-90)">BZ 7</text><text transform="translate(49.93,145.70) rotate(-90)">BZ 27</text><text transform="translate(54.63,145.70) rotate(-90)">BZ 19</text><text transform="translate(59.34,145.70) rotate(-90)">BZ 12</text><text transform="translate(64.04,145.70) rotate(-90)">BZ 9</text><text transform="translate(68.73,145.70) rotate(-90)">BZ 4</text><text transform="translate(73.44,145.70) rotate(-90)">BZ 20</text><text transform="translate(78.13,145.70) rotate(-90)">BZ 25</text><text transform="translate(82.83,145.70) rotate(-90)">BZ 29</text><text transform="translate(87.53,145.70) rotate(-90)">BZ 37</text><text transform="translate(92.23,145.70) rotate(-90)">BZ 38</text><text transform="translate(96.94,145.70) rotate(-90)">BZ 35</text><text transform="translate(101.64,145.70) rotate(-90)">BZ 34</text><text transform="translate(106.33,145.70) rotate(-90)">BZ 21</text><text transform="translate(111.03,145.70) rotate(-90)">BZ 18</text><text transform="translate(115.73,145.70) rotate(-90)">BZ 30</text><text transform="translate(120.44,145.70) rotate(-90)">BZ 22</text><text transform="translate(125.14,145.70) rotate(-90)">BZ 13</text><text transform="translate(129.84,145.70) rotate(-90)">BZ 6</text><text transform="translate(134.53,145.70) rotate(-90)">BZ 5</text><text transform="translate(139.24,145.70) rotate(-90)">BZ 3</text><text transform="translate(143.94,145.70) rotate(-90)">BZ 2</text><text transform="translate(148.63,145.70) rotate(-90)">BZ 1</text><text transform="translate(153.34,145.70) rotate(-90)">BZ 36</text></g>
<text x="159.9" y="6.9" font-family="Liberation Serif, serif" font-weight="bold" font-size="6.1" fill="#111" stroke="#111" stroke-width="0.2">BZ</text>
<defs><linearGradient id="jetBZ" x1="0" y1="1" x2="0" y2="0"><stop offset="0" stop-color="#00008f"/><stop offset="0.14" stop-color="#0000ff"/><stop offset="0.26" stop-color="#0080ff"/><stop offset="0.37" stop-color="#00ffff"/><stop offset="0.48" stop-color="#80ff80"/><stop offset="0.6" stop-color="#ffff00"/><stop offset="0.73" stop-color="#ff8000"/><stop offset="0.86" stop-color="#ff0000"/><stop offset="1" stop-color="#800000"/></linearGradient></defs>
<rect x="158.8" y="46.4" width="5.70" height="35.30" fill="url(#jetBZ)"/>
<g stroke="#444" stroke-width="0.35" font-family="Liberation Serif, serif" font-size="2.0" fill="#333" text-rendering="geometricPrecision"><line x1="163.90" y1="47.60" x2="165.00" y2="47.60"/><text x="166.80" y="48.30" stroke="none" textLength="3.8" lengthAdjust="spacingAndGlyphs">100.0</text><line x1="163.90" y1="50.87" x2="165.00" y2="50.87"/><text x="166.80" y="51.57" stroke="none" textLength="3.8" lengthAdjust="spacingAndGlyphs">100.0</text><line x1="163.90" y1="54.14" x2="165.00" y2="54.14"/><text x="166.80" y="54.84" stroke="none" textLength="3.8" lengthAdjust="spacingAndGlyphs">100.0</text><line x1="163.90" y1="57.41" x2="165.00" y2="57.41"/><text x="166.80" y="58.11" stroke="none" textLength="3.8" lengthAdjust="spacingAndGlyphs">99.5</text><line x1="163.90" y1="60.68" x2="165.00" y2="60.68"/><text x="166.80" y="61.38" stroke="none" textLength="3.8" lengthAdjust="spacingAndGlyphs">99.0</text><line x1="163.90" y1="63.95" x2="165.00" y2="63.95"/><text x="166.80" y="64.65" stroke="none" textLength="3.8" lengthAdjust="spacingAndGlyphs">98.5</text><line x1="163.90" y1="67.22" x2="165.00" y2="67.22"/><text x="166.80" y="67.92" stroke="none" textLength="3.8" lengthAdjust="spacingAndGlyphs">98.0</text><line x1="163.90" y1="70.49" x2="165.00" y2="70.49"/><text x="166.80" y="71.19" stroke="none" textLength="3.8" lengthAdjust="spacingAndGlyphs">97.5</text><line x1="163.90" y1="73.76" x2="165.00" y2="73.76"/><text x="166.80" y="74.46" stroke="none" textLength="3.8" lengthAdjust="spacingAndGlyphs">97.0</text><line x1="163.90" y1="77.03" x2="165.00" y2="77.03"/><text x="166.80" y="77.73" stroke="none" textLength="3.8" lengthAdjust="spacingAndGlyphs">96.5</text><line x1="163.90" y1="80.30" x2="165.00" y2="80.30"/><text x="166.80" y="81.00" stroke="none" textLength="3.8" lengthAdjust="spacingAndGlyphs">96.0</text></g>
<text x="127.7" y="41.2" font-family="Liberation Serif, serif" font-weight="bold" font-size="6.6" fill="#111" stroke="#111" stroke-width="0.05" textLength="54.0" lengthAdjust="spacingAndGlyphs">Pairwise identity (%)</text>
<line x1="32.4" y1="2.7" x2="79.4" y2="47.9" stroke="#f6782a" stroke-width="1.2"/>
<line x1="83.2" y1="52.4" x2="113.2" y2="80.8" stroke="#2e86e6" stroke-width="1.2"/>
<line x1="117.4" y1="83.8" x2="162.4" y2="126.9" stroke="#fab418" stroke-width="1.2"/>
<text transform="translate(60.38,23.92) rotate(45)" font-family="Liberation Sans, sans-serif" font-weight="bold" font-size="5.6" fill="#111" stroke="#111" stroke-width="0.3" text-anchor="middle" letter-spacing="0.6">I</text>
<text transform="translate(103.88,61.72) rotate(45)" font-family="Liberation Sans, sans-serif" font-weight="bold" font-size="5.6" fill="#111" stroke="#111" stroke-width="0.3" text-anchor="middle" letter-spacing="0.6">II</text>
<text transform="translate(146.18,101.42) rotate(45)" font-family="Liberation Sans, sans-serif" font-weight="bold" font-size="5.6" fill="#111" stroke="#111" stroke-width="0.3" text-anchor="middle" letter-spacing="0.6">III</text>
<g stroke="#000" stroke-width="0.6" stroke-opacity="0.4"><rect x="196.00" y="2.60" width="4.75" height="4.45" fill="#9a0000"/><rect x="196.00" y="7.05" width="4.75" height="4.45" fill="#f80000"/><rect x="200.75" y="7.05" width="4.75" height="4.45" fill="#9a0000"/><rect x="196.00" y="11.49" width="4.75" height="4.45" fill="#f80000"/><rect x="200.75" y="11.49" width="4.75" height="4.45" fill="#f80000"/><rect x="205.51" y="11.49" width="4.75" height="4.45" fill="#9a0000"/><rect x="196.00" y="15.94" width="4.75" height="4.45" fill="#f80000"/><rect x="200.75" y="15.94" width="4.75" height="4.45" fill="#f80000"/><rect x="205.51" y="15.94" width="4.75" height="4.45" fill="#f80000"/><rect x="210.26" y="15.94" width="4.75" height="4.45" fill="#9a0000"/><rect x="196.00" y="20.39" width="4.75" height="4.45" fill="#ff5000"/><rect x="200.75" y="20.39" width="4.75" height="4.45" fill="#f80000"/><rect x="205.51" y="20.39" width="4.75" height="4.45" fill="#ff5000"/><rect x="210.26" y="20.39" width="4.75" height="4.45" fill="#f80000"/><rect x="215.01" y="20.39" width="4.75" height="4.45" fill="#9a0000"/><rect x="196.00" y="24.83" width="4.75" height="4.45" fill="#ff5000"/><rect x="200.75" y="24.83" width="4.75" height="4.45" fill="#f80000"/><rect x="205.51" y="24.83" width="4.75" height="4.45" fill="#ff5000"/><rect x="210.26" y="24.83" width="4.75" height="4.45" fill="#f80000"/><rect x="215.01" y="24.83" width="4.75" height="4.45" fill="#f80000"/><rect x="219.77" y="24.83" width="4.75" height="4.45" fill="#9a0000"/><rect x="196.00" y="29.28" width="4.75" height="4.45" fill="#ff5000"/><rect x="200.75" y="29.28" width="4.75" height="4.45" fill="#f80000"/><rect x="205.51" y="29.28" width="4.75" height="4.45" fill="#ff5000"/><rect x="210.26" y="29.28" width="4.75" height="4.45" fill="#f80000"/><rect x="215.01" y="29.28" width="4.75" height="4.45" fill="#f80000"/><rect x="219.77" y="29.28" width="4.75" height="4.45" fill="#f80000"/><rect x="224.52" y="29.28" width="4.75" height="4.45" fill="#9a0000"/><rect x="196.00" y="33.73" width="4.75" height="4.45" fill="#ff7400"/><rect x="200.75" y="33.73" width="4.75" height="4.45" fill="#ff5000"/><rect x="205.51" y="33.73" width="4.75" height="4.45" fill="#ff7400"/><rect x="210.26" y="33.73" width="4.75" height="4.45" fill="#f80000"/><rect x="215.01" y="33.73" width="4.75" height="4.45" fill="#ff5000"/><rect x="219.77" y="33.73" width="4.75" height="4.45" fill="#f80000"/><rect x="224.52" y="33.73" width="4.75" height="4.45" fill="#f80000"/><rect x="229.27" y="33.73" width="4.75" height="4.45" fill="#9a0000"/><rect x="196.00" y="38.17" width="4.75" height="4.45" fill="#ff7400"/><rect x="200.75" y="38.17" width="4.75" height="4.45" fill="#ff5000"/><rect x="205.51" y="38.17" width="4.75" height="4.45" fill="#ff7400"/><rect x="210.26" y="38.17" width="4.75" height="4.45" fill="#f80000"/><rect x="215.01" y="38.17" width="4.75" height="4.45" fill="#ff5000"/><rect x="219.77" y="38.17" width="4.75" height="4.45" fill="#f80000"/><rect x="224.52" y="38.17" width="4.75" height="4.45" fill="#f80000"/><rect x="229.27" y="38.17" width="4.75" height="4.45" fill="#f80000"/><rect x="234.03" y="38.17" width="4.75" height="4.45" fill="#9a0000"/><rect x="196.00" y="42.62" width="4.75" height="4.45" fill="#ff7400"/><rect x="200.75" y="42.62" width="4.75" height="4.45" fill="#ff5000"/><rect x="205.51" y="42.62" width="4.75" height="4.45" fill="#ff7400"/><rect x="210.26" y="42.62" width="4.75" height="4.45" fill="#f80000"/><rect x="215.01" y="42.62" width="4.75" height="4.45" fill="#ff5000"/><rect x="219.77" y="42.62" width="4.75" height="4.45" fill="#f80000"/><rect x="224.52" y="42.62" width="4.75" height="4.45" fill="#f80000"/><rect x="229.27" y="42.62" width="4.75" height="4.45" fill="#f80000"/><rect x="234.03" y="42.62" width="4.75" height="4.45" fill="#c80000"/><rect x="238.78" y="42.62" width="4.75" height="4.45" fill="#9a0000"/><rect x="196.00" y="47.07" width="4.75" height="4.45" fill="#ff5000"/><rect x="200.75" y="47.07" width="4.75" height="4.45" fill="#f80000"/><rect x="205.51" y="47.07" width="4.75" height="4.45" fill="#ff5000"/><rect x="210.26" y="47.07" width="4.75" height="4.45" fill="#f80000"/><rect x="215.01" y="47.07" width="4.75" height="4.45" fill="#f80000"/><rect x="219.77" y="47.07" width="4.75" height="4.45" fill="#f80000"/><rect x="224.52" y="47.07" width="4.75" height="4.45" fill="#f80000"/><rect x="229.27" y="47.07" width="4.75" height="4.45" fill="#ff5000"/><rect x="234.03" y="47.07" width="4.75" height="4.45" fill="#f80000"/><rect x="238.78" y="47.07" width="4.75" height="4.45" fill="#f80000"/><rect x="243.53" y="47.07" width="4.75" height="4.45" fill="#9a0000"/><rect x="196.00" y="51.51" width="4.75" height="4.45" fill="#ff7400"/><rect x="200.75" y="51.51" width="4.75" height="4.45" fill="#ff5000"/><rect x="205.51" y="51.51" width="4.75" height="4.45" fill="#ff7400"/><rect x="210.26" y="51.51" width="4.75" height="4.45" fill="#f80000"/><rect x="215.01" y="51.51" width="4.75" height="4.45" fill="#ff5000"/><rect x="219.77" y="51.51" width="4.75" height="4.45" fill="#ff5000"/><rect x="224.52" y="51.51" width="4.75" height="4.45" fill="#ff5000"/><rect x="229.27" y="51.51" width="4.75" height="4.45" fill="#ff7400"/><rect x="234.03" y="51.51" width="4.75" height="4.45" fill="#f80000"/><rect x="238.78" y="51.51" width="4.75" height="4.45" fill="#f80000"/><rect x="243.53" y="51.51" width="4.75" height="4.45" fill="#f80000"/><rect x="248.29" y="51.51" width="4.75" height="4.45" fill="#9a0000"/><rect x="196.00" y="55.96" width="4.75" height="4.45" fill="#ff5000"/><rect x="200.75" y="55.96" width="4.75" height="4.45" fill="#f80000"/><rect x="205.51" y="55.96" width="4.75" height="4.45" fill="#ff5000"/><rect x="210.26" y="55.96" width="4.75" height="4.45" fill="#f80000"/><rect x="215.01" y="55.96" width="4.75" height="4.45" fill="#ff5000"/><rect x="219.77" y="55.96" width="4.75" height="4.45" fill="#ff7400"/><rect x="224.52" y="55.96" width="4.75" height="4.45" fill="#ff7400"/><rect x="229.27" y="55.96" width="4.75" height="4.45" fill="#ff5000"/><rect x="234.03" y="55.96" width="4.75" height="4.45" fill="#ff5000"/><rect x="238.78" y="55.96" width="4.75" height="4.45" fill="#ff5000"/><rect x="243.53" y="55.96" width="4.75" height="4.45" fill="#f80000"/><rect x="248.29" y="55.96" width="4.75" height="4.45" fill="#ff5000"/><rect x="253.04" y="55.96" width="4.75" height="4.45" fill="#9a0000"/><rect x="196.00" y="60.41" width="4.75" height="4.45" fill="#ff7400"/><rect x="200.75" y="60.41" width="4.75" height="4.45" fill="#ff5000"/><rect x="205.51" y="60.41" width="4.75" height="4.45" fill="#ff7400"/><rect x="210.26" y="60.41" width="4.75" height="4.45" fill="#ff7400"/><rect x="215.01" y="60.41" width="4.75" height="4.45" fill="#ffbf00"/><rect x="219.77" y="60.41" width="4.75" height="4.45" fill="#ff5000"/><rect x="224.52" y="60.41" width="4.75" height="4.45" fill="#ff7400"/><rect x="229.27" y="60.41" width="4.75" height="4.45" fill="#ff5000"/><rect x="234.03" y="60.41" width="4.75" height="4.45" fill="#f80000"/><rect x="238.78" y="60.41" width="4.75" height="4.45" fill="#f80000"/><rect x="243.53" y="60.41" width="4.75" height="4.45" fill="#ff5000"/><rect x="248.29" y="60.41" width="4.75" height="4.45" fill="#ffbf00"/><rect x="253.04" y="60.41" width="4.75" height="4.45" fill="#f80000"/><rect x="257.79" y="60.41" width="4.75" height="4.45" fill="#9a0000"/><rect x="196.00" y="64.85" width="4.75" height="4.45" fill="#ff7400"/><rect x="200.75" y="64.85" width="4.75" height="4.45" fill="#ff5000"/><rect x="205.51" y="64.85" width="4.75" height="4.45" fill="#ff7400"/><rect x="210.26" y="64.85" width="4.75" height="4.45" fill="#ff7400"/><rect x="215.01" y="64.85" width="4.75" height="4.45" fill="#ffbf00"/><rect x="219.77" y="64.85" width="4.75" height="4.45" fill="#ff5000"/><rect x="224.52" y="64.85" width="4.75" height="4.45" fill="#ff5000"/><rect x="229.27" y="64.85" width="4.75" height="4.45" fill="#f80000"/><rect x="234.03" y="64.85" width="4.75" height="4.45" fill="#f80000"/><rect x="238.78" y="64.85" width="4.75" height="4.45" fill="#f80000"/><rect x="243.53" y="64.85" width="4.75" height="4.45" fill="#ff5000"/><rect x="248.29" y="64.85" width="4.75" height="4.45" fill="#ffbf00"/><rect x="253.04" y="64.85" width="4.75" height="4.45" fill="#f80000"/><rect x="257.79" y="64.85" width="4.75" height="4.45" fill="#f80000"/><rect x="262.55" y="64.85" width="4.75" height="4.45" fill="#9a0000"/><rect x="196.00" y="69.30" width="4.75" height="4.45" fill="#f80000"/><rect x="200.75" y="69.30" width="4.75" height="4.45" fill="#f80000"/><rect x="205.51" y="69.30" width="4.75" height="4.45" fill="#f80000"/><rect x="210.26" y="69.30" width="4.75" height="4.45" fill="#f80000"/><rect x="215.01" y="69.30" width="4.75" height="4.45" fill="#ff5000"/><rect x="219.77" y="69.30" width="4.75" height="4.45" fill="#ff5000"/><rect x="224.52" y="69.30" width="4.75" height="4.45" fill="#ff5000"/><rect x="229.27" y="69.30" width="4.75" height="4.45" fill="#ff7400"/><rect x="234.03" y="69.30" width="4.75" height="4.45" fill="#f80000"/><rect x="238.78" y="69.30" width="4.75" height="4.45" fill="#f80000"/><rect x="243.53" y="69.30" width="4.75" height="4.45" fill="#f80000"/><rect x="248.29" y="69.30" width="4.75" height="4.45" fill="#f80000"/><rect x="253.04" y="69.30" width="4.75" height="4.45" fill="#f80000"/><rect x="257.79" y="69.30" width="4.75" height="4.45" fill="#f80000"/><rect x="262.55" y="69.30" width="4.75" height="4.45" fill="#f80000"/><rect x="267.30" y="69.30" width="4.75" height="4.45" fill="#9a0000"/><rect x="196.00" y="73.75" width="4.75" height="4.45" fill="#f80000"/><rect x="200.75" y="73.75" width="4.75" height="4.45" fill="#f80000"/><rect x="205.51" y="73.75" width="4.75" height="4.45" fill="#f80000"/><rect x="210.26" y="73.75" width="4.75" height="4.45" fill="#f80000"/><rect x="215.01" y="73.75" width="4.75" height="4.45" fill="#ff5000"/><rect x="219.77" y="73.75" width="4.75" height="4.45" fill="#ff5000"/><rect x="224.52" y="73.75" width="4.75" height="4.45" fill="#ff5000"/><rect x="229.27" y="73.75" width="4.75" height="4.45" fill="#ff7400"/><rect x="234.03" y="73.75" width="4.75" height="4.45" fill="#f80000"/><rect x="238.78" y="73.75" width="4.75" height="4.45" fill="#f80000"/><rect x="243.53" y="73.75" width="4.75" height="4.45" fill="#f80000"/><rect x="248.29" y="73.75" width="4.75" height="4.45" fill="#f80000"/><rect x="253.04" y="73.75" width="4.75" height="4.45" fill="#f80000"/><rect x="257.79" y="73.75" width="4.75" height="4.45" fill="#f80000"/><rect x="262.55" y="73.75" width="4.75" height="4.45" fill="#f80000"/><rect x="267.30" y="73.75" width="4.75" height="4.45" fill="#9a0000"/><rect x="272.05" y="73.75" width="4.75" height="4.45" fill="#9a0000"/><rect x="196.00" y="78.19" width="4.75" height="4.45" fill="#ffbf00"/><rect x="200.75" y="78.19" width="4.75" height="4.45" fill="#ffbf00"/><rect x="205.51" y="78.19" width="4.75" height="4.45" fill="#ff5000"/><rect x="210.26" y="78.19" width="4.75" height="4.45" fill="#ffbf00"/><rect x="215.01" y="78.19" width="4.75" height="4.45" fill="#ffe800"/><rect x="219.77" y="78.19" width="4.75" height="4.45" fill="#ffe800"/><rect x="224.52" y="78.19" width="4.75" height="4.45" fill="#ffe800"/><rect x="229.27" y="78.19" width="4.75" height="4.45" fill="#b0f030"/><rect x="234.03" y="78.19" width="4.75" height="4.45" fill="#ffbf00"/><rect x="238.78" y="78.19" width="4.75" height="4.45" fill="#ffbf00"/><rect x="243.53" y="78.19" width="4.75" height="4.45" fill="#ff7400"/><rect x="248.29" y="78.19" width="4.75" height="4.45" fill="#ff5000"/><rect x="253.04" y="78.19" width="4.75" height="4.45" fill="#ff7400"/><rect x="257.79" y="78.19" width="4.75" height="4.45" fill="#ffe800"/><rect x="262.55" y="78.19" width="4.75" height="4.45" fill="#ffbf00"/><rect x="267.30" y="78.19" width="4.75" height="4.45" fill="#ff5000"/><rect x="272.05" y="78.19" width="4.75" height="4.45" fill="#ff5000"/><rect x="276.81" y="78.19" width="4.75" height="4.45" fill="#9a0000"/><rect x="196.00" y="82.64" width="4.75" height="4.45" fill="#ffbf00"/><rect x="200.75" y="82.64" width="4.75" height="4.45" fill="#ff7400"/><rect x="205.51" y="82.64" width="4.75" height="4.45" fill="#ffbf00"/><rect x="210.26" y="82.64" width="4.75" height="4.45" fill="#ffbf00"/><rect x="215.01" y="82.64" width="4.75" height="4.45" fill="#ffe800"/><rect x="219.77" y="82.64" width="4.75" height="4.45" fill="#ffe800"/><rect x="224.52" y="82.64" width="4.75" height="4.45" fill="#ffe800"/><rect x="229.27" y="82.64" width="4.75" height="4.45" fill="#ffbf00"/><rect x="234.03" y="82.64" width="4.75" height="4.45" fill="#ffbf00"/><rect x="238.78" y="82.64" width="4.75" height="4.45" fill="#ffbf00"/><rect x="243.53" y="82.64" width="4.75" height="4.45" fill="#ff7400"/><rect x="248.29" y="82.64" width="4.75" height="4.45" fill="#ff5000"/><rect x="253.04" y="82.64" width="4.75" height="4.45" fill="#f80000"/><rect x="257.79" y="82.64" width="4.75" height="4.45" fill="#ff5000"/><rect x="262.55" y="82.64" width="4.75" height="4.45" fill="#ff5000"/><rect x="267.30" y="82.64" width="4.75" height="4.45" fill="#ff5000"/><rect x="272.05" y="82.64" width="4.75" height="4.45" fill="#ff5000"/><rect x="276.81" y="82.64" width="4.75" height="4.45" fill="#f80000"/><rect x="281.56" y="82.64" width="4.75" height="4.45" fill="#9a0000"/><rect x="196.00" y="87.09" width="4.75" height="4.45" fill="#ff7400"/><rect x="200.75" y="87.09" width="4.75" height="4.45" fill="#ff7400"/><rect x="205.51" y="87.09" width="4.75" height="4.45" fill="#ffbf00"/><rect x="210.26" y="87.09" width="4.75" height="4.45" fill="#ffbf00"/><rect x="215.01" y="87.09" width="4.75" height="4.45" fill="#ffe800"/><rect x="219.77" y="87.09" width="4.75" height="4.45" fill="#ffe800"/><rect x="224.52" y="87.09" width="4.75" height="4.45" fill="#ffe800"/><rect x="229.27" y="87.09" width="4.75" height="4.45" fill="#ffbf00"/><rect x="234.03" y="87.09" width="4.75" height="4.45" fill="#ffbf00"/><rect x="238.78" y="87.09" width="4.75" height="4.45" fill="#ffbf00"/><rect x="243.53" y="87.09" width="4.75" height="4.45" fill="#ff7400"/><rect x="248.29" y="87.09" width="4.75" height="4.45" fill="#ff5000"/><rect x="253.04" y="87.09" width="4.75" height="4.45" fill="#ff5000"/><rect x="257.79" y="87.09" width="4.75" height="4.45" fill="#ff5000"/><rect x="262.55" y="87.09" width="4.75" height="4.45" fill="#ff5000"/><rect x="267.30" y="87.09" width="4.75" height="4.45" fill="#ff5000"/><rect x="272.05" y="87.09" width="4.75" height="4.45" fill="#ff5000"/><rect x="276.81" y="87.09" width="4.75" height="4.45" fill="#f80000"/><rect x="281.56" y="87.09" width="4.75" height="4.45" fill="#c80000"/><rect x="286.31" y="87.09" width="4.75" height="4.45" fill="#9a0000"/><rect x="196.00" y="91.53" width="4.75" height="4.45" fill="#006cff"/><rect x="200.75" y="91.53" width="4.75" height="4.45" fill="#0044f4"/><rect x="205.51" y="91.53" width="4.75" height="4.45" fill="#00aaff"/><rect x="210.26" y="91.53" width="4.75" height="4.45" fill="#0008ff"/><rect x="215.01" y="91.53" width="4.75" height="4.45" fill="#0008ff"/><rect x="219.77" y="91.53" width="4.75" height="4.45" fill="#0008ff"/><rect x="224.52" y="91.53" width="4.75" height="4.45" fill="#0008ff"/><rect x="229.27" y="91.53" width="4.75" height="4.45" fill="#0008ff"/><rect x="234.03" y="91.53" width="4.75" height="4.45" fill="#000090"/><rect x="238.78" y="91.53" width="4.75" height="4.45" fill="#000090"/><rect x="243.53" y="91.53" width="4.75" height="4.45" fill="#0008ff"/><rect x="248.29" y="91.53" width="4.75" height="4.45" fill="#000090"/><rect x="253.04" y="91.53" width="4.75" height="4.45" fill="#006cff"/><rect x="257.79" y="91.53" width="4.75" height="4.45" fill="#0008ff"/><rect x="262.55" y="91.53" width="4.75" height="4.45" fill="#0008ff"/><rect x="267.30" y="91.53" width="4.75" height="4.45" fill="#0008ff"/><rect x="272.05" y="91.53" width="4.75" height="4.45" fill="#0008ff"/><rect x="276.81" y="91.53" width="4.75" height="4.45" fill="#006cff"/><rect x="281.56" y="91.53" width="4.75" height="4.45" fill="#006cff"/><rect x="286.31" y="91.53" width="4.75" height="4.45" fill="#006cff"/><rect x="291.07" y="91.53" width="4.75" height="4.45" fill="#9a0000"/><rect x="196.00" y="95.98" width="4.75" height="4.45" fill="#006cff"/><rect x="200.75" y="95.98" width="4.75" height="4.45" fill="#0044f4"/><rect x="205.51" y="95.98" width="4.75" height="4.45" fill="#006cff"/><rect x="210.26" y="95.98" width="4.75" height="4.45" fill="#0008ff"/><rect x="215.01" y="95.98" width="4.75" height="4.45" fill="#0008ff"/><rect x="219.77" y="95.98" width="4.75" height="4.45" fill="#0008ff"/><rect x="224.52" y="95.98" width="4.75" height="4.45" fill="#000090"/><rect x="229.27" y="95.98" width="4.75" height="4.45" fill="#0008ff"/><rect x="234.03" y="95.98" width="4.75" height="4.45" fill="#000090"/><rect x="238.78" y="95.98" width="4.75" height="4.45" fill="#000090"/><rect x="243.53" y="95.98" width="4.75" height="4.45" fill="#0008ff"/><rect x="248.29" y="95.98" width="4.75" height="4.45" fill="#000090"/><rect x="253.04" y="95.98" width="4.75" height="4.45" fill="#006cff"/><rect x="257.79" y="95.98" width="4.75" height="4.45" fill="#0008ff"/><rect x="262.55" y="95.98" width="4.75" height="4.45" fill="#0008ff"/><rect x="267.30" y="95.98" width="4.75" height="4.45" fill="#0008ff"/><rect x="272.05" y="95.98" width="4.75" height="4.45" fill="#0008ff"/><rect x="276.81" y="95.98" width="4.75" height="4.45" fill="#006cff"/><rect x="281.56" y="95.98" width="4.75" height="4.45" fill="#006cff"/><rect x="286.31" y="95.98" width="4.75" height="4.45" fill="#006cff"/><rect x="291.07" y="95.98" width="4.75" height="4.45" fill="#9a0000"/><rect x="295.82" y="95.98" width="4.75" height="4.45" fill="#9a0000"/><rect x="196.00" y="100.43" width="4.75" height="4.45" fill="#00aaff"/><rect x="200.75" y="100.43" width="4.75" height="4.45" fill="#006cff"/><rect x="205.51" y="100.43" width="4.75" height="4.45" fill="#00aaff"/><rect x="210.26" y="100.43" width="4.75" height="4.45" fill="#0044f4"/><rect x="215.01" y="100.43" width="4.75" height="4.45" fill="#0008ff"/><rect x="219.77" y="100.43" width="4.75" height="4.45" fill="#0008ff"/><rect x="224.52" y="100.43" width="4.75" height="4.45" fill="#0008ff"/><rect x="229.27" y="100.43" width="4.75" height="4.45" fill="#0008ff"/><rect x="234.03" y="100.43" width="4.75" height="4.45" fill="#0044f4"/><rect x="238.78" y="100.43" width="4.75" height="4.45" fill="#0008ff"/><rect x="243.53" y="100.43" width="4.75" height="4.45" fill="#0008ff"/><rect x="248.29" y="100.43" width="4.75" height="4.45" fill="#0008ff"/><rect x="253.04" y="100.43" width="4.75" height="4.45" fill="#00aaff"/><rect x="257.79" y="100.43" width="4.75" height="4.45" fill="#006cff"/><rect x="262.55" y="100.43" width="4.75" height="4.45" fill="#006cff"/><rect x="267.30" y="100.43" width="4.75" height="4.45" fill="#006cff"/><rect x="272.05" y="100.43" width="4.75" height="4.45" fill="#006cff"/><rect x="276.81" y="100.43" width="4.75" height="4.45" fill="#00aaff"/><rect x="281.56" y="100.43" width="4.75" height="4.45" fill="#00aaff"/><rect x="286.31" y="100.43" width="4.75" height="4.45" fill="#00aaff"/><rect x="291.07" y="100.43" width="4.75" height="4.45" fill="#f80000"/><rect x="295.82" y="100.43" width="4.75" height="4.45" fill="#f80000"/><rect x="300.57" y="100.43" width="4.75" height="4.45" fill="#9a0000"/><rect x="196.00" y="104.87" width="4.75" height="4.45" fill="#26ee8c"/><rect x="200.75" y="104.87" width="4.75" height="4.45" fill="#00f0f0"/><rect x="205.51" y="104.87" width="4.75" height="4.45" fill="#00f0f0"/><rect x="210.26" y="104.87" width="4.75" height="4.45" fill="#00aaff"/><rect x="215.01" y="104.87" width="4.75" height="4.45" fill="#00f0f0"/><rect x="219.77" y="104.87" width="4.75" height="4.45" fill="#00f0f0"/><rect x="224.52" y="104.87" width="4.75" height="4.45" fill="#00f0f0"/><rect x="229.27" y="104.87" width="4.75" height="4.45" fill="#00f0f0"/><rect x="234.03" y="104.87" width="4.75" height="4.45" fill="#006cff"/><rect x="238.78" y="104.87" width="4.75" height="4.45" fill="#006cff"/><rect x="243.53" y="104.87" width="4.75" height="4.45" fill="#006cff"/><rect x="248.29" y="104.87" width="4.75" height="4.45" fill="#00aaff"/><rect x="253.04" y="104.87" width="4.75" height="4.45" fill="#00f0f0"/><rect x="257.79" y="104.87" width="4.75" height="4.45" fill="#00f0f0"/><rect x="262.55" y="104.87" width="4.75" height="4.45" fill="#00f0f0"/><rect x="267.30" y="104.87" width="4.75" height="4.45" fill="#00f0f0"/><rect x="272.05" y="104.87" width="4.75" height="4.45" fill="#00f0f0"/><rect x="276.81" y="104.87" width="4.75" height="4.45" fill="#26ee8c"/><rect x="281.56" y="104.87" width="4.75" height="4.45" fill="#26ee8c"/><rect x="286.31" y="104.87" width="4.75" height="4.45" fill="#26ee8c"/><rect x="291.07" y="104.87" width="4.75" height="4.45" fill="#ff7400"/><rect x="295.82" y="104.87" width="4.75" height="4.45" fill="#ff7400"/><rect x="300.57" y="104.87" width="4.75" height="4.45" fill="#ff5000"/><rect x="305.33" y="104.87" width="4.75" height="4.45" fill="#9a0000"/><rect x="196.00" y="109.32" width="4.75" height="4.45" fill="#b0f030"/><rect x="200.75" y="109.32" width="4.75" height="4.45" fill="#26ee8c"/><rect x="205.51" y="109.32" width="4.75" height="4.45" fill="#26ee8c"/><rect x="210.26" y="109.32" width="4.75" height="4.45" fill="#00f0f0"/><rect x="215.01" y="109.32" width="4.75" height="4.45" fill="#00f0f0"/><rect x="219.77" y="109.32" width="4.75" height="4.45" fill="#00f0f0"/><rect x="224.52" y="109.32" width="4.75" height="4.45" fill="#00f0f0"/><rect x="229.27" y="109.32" width="4.75" height="4.45" fill="#00f0f0"/><rect x="234.03" y="109.32" width="4.75" height="4.45" fill="#00aaff"/><rect x="238.78" y="109.32" width="4.75" height="4.45" fill="#00aaff"/><rect x="243.53" y="109.32" width="4.75" height="4.45" fill="#00aaff"/><rect x="248.29" y="109.32" width="4.75" height="4.45" fill="#00f0f0"/><rect x="253.04" y="109.32" width="4.75" height="4.45" fill="#26ee8c"/><rect x="257.79" y="109.32" width="4.75" height="4.45" fill="#26ee8c"/><rect x="262.55" y="109.32" width="4.75" height="4.45" fill="#26ee8c"/><rect x="267.30" y="109.32" width="4.75" height="4.45" fill="#26ee8c"/><rect x="272.05" y="109.32" width="4.75" height="4.45" fill="#26ee8c"/><rect x="276.81" y="109.32" width="4.75" height="4.45" fill="#26ee8c"/><rect x="281.56" y="109.32" width="4.75" height="4.45" fill="#26ee8c"/><rect x="286.31" y="109.32" width="4.75" height="4.45" fill="#26ee8c"/><rect x="291.07" y="109.32" width="4.75" height="4.45" fill="#ffbf00"/><rect x="295.82" y="109.32" width="4.75" height="4.45" fill="#ffbf00"/><rect x="300.57" y="109.32" width="4.75" height="4.45" fill="#ff7400"/><rect x="305.33" y="109.32" width="4.75" height="4.45" fill="#f80000"/><rect x="310.08" y="109.32" width="4.75" height="4.45" fill="#9a0000"/><rect x="196.00" y="113.77" width="4.75" height="4.45" fill="#ffbf00"/><rect x="200.75" y="113.77" width="4.75" height="4.45" fill="#ffe800"/><rect x="205.51" y="113.77" width="4.75" height="4.45" fill="#ffbf00"/><rect x="210.26" y="113.77" width="4.75" height="4.45" fill="#26ee8c"/><rect x="215.01" y="113.77" width="4.75" height="4.45" fill="#26ee8c"/><rect x="219.77" y="113.77" width="4.75" height="4.45" fill="#26ee8c"/><rect x="224.52" y="113.77" width="4.75" height="4.45" fill="#26ee8c"/><rect x="229.27" y="113.77" width="4.75" height="4.45" fill="#26ee8c"/><rect x="234.03" y="113.77" width="4.75" height="4.45" fill="#26ee8c"/><rect x="238.78" y="113.77" width="4.75" height="4.45" fill="#26ee8c"/><rect x="243.53" y="113.77" width="4.75" height="4.45" fill="#26ee8c"/><rect x="248.29" y="113.77" width="4.75" height="4.45" fill="#26ee8c"/><rect x="253.04" y="113.77" width="4.75" height="4.45" fill="#ffbf00"/><rect x="257.79" y="113.77" width="4.75" height="4.45" fill="#b0f030"/><rect x="262.55" y="113.77" width="4.75" height="4.45" fill="#b0f030"/><rect x="267.30" y="113.77" width="4.75" height="4.45" fill="#b0f030"/><rect x="272.05" y="113.77" width="4.75" height="4.45" fill="#b0f030"/><rect x="276.81" y="113.77" width="4.75" height="4.45" fill="#ffe800"/><rect x="281.56" y="113.77" width="4.75" height="4.45" fill="#ffe800"/><rect x="286.31" y="113.77" width="4.75" height="4.45" fill="#ffe800"/><rect x="291.07" y="113.77" width="4.75" height="4.45" fill="#b0f030"/><rect x="295.82" y="113.77" width="4.75" height="4.45" fill="#b0f030"/><rect x="300.57" y="113.77" width="4.75" height="4.45" fill="#ffe800"/><rect x="305.33" y="113.77" width="4.75" height="4.45" fill="#ff5000"/><rect x="310.08" y="113.77" width="4.75" height="4.45" fill="#f80000"/><rect x="314.83" y="113.77" width="4.75" height="4.45" fill="#9a0000"/><rect x="196.00" y="118.21" width="4.75" height="4.45" fill="#26ee8c"/><rect x="200.75" y="118.21" width="4.75" height="4.45" fill="#00f0f0"/><rect x="205.51" y="118.21" width="4.75" height="4.45" fill="#26ee8c"/><rect x="210.26" y="118.21" width="4.75" height="4.45" fill="#00aaff"/><rect x="215.01" y="118.21" width="4.75" height="4.45" fill="#00f0f0"/><rect x="219.77" y="118.21" width="4.75" height="4.45" fill="#00f0f0"/><rect x="224.52" y="118.21" width="4.75" height="4.45" fill="#00f0f0"/><rect x="229.27" y="118.21" width="4.75" height="4.45" fill="#00f0f0"/><rect x="234.03" y="118.21" width="4.75" height="4.45" fill="#26ee8c"/><rect x="238.78" y="118.21" width="4.75" height="4.45" fill="#26ee8c"/><rect x="243.53" y="118.21" width="4.75" height="4.45" fill="#26ee8c"/><rect x="248.29" y="118.21" width="4.75" height="4.45" fill="#26ee8c"/><rect x="253.04" y="118.21" width="4.75" height="4.45" fill="#26ee8c"/><rect x="257.79" y="118.21" width="4.75" height="4.45" fill="#26ee8c"/><rect x="262.55" y="118.21" width="4.75" height="4.45" fill="#26ee8c"/><rect x="267.30" y="118.21" width="4.75" height="4.45" fill="#26ee8c"/><rect x="272.05" y="118.21" width="4.75" height="4.45" fill="#26ee8c"/><rect x="276.81" y="118.21" width="4.75" height="4.45" fill="#ffbf00"/><rect x="281.56" y="118.21" width="4.75" height="4.45" fill="#ffbf00"/><rect x="286.31" y="118.21" width="4.75" height="4.45" fill="#ffbf00"/><rect x="291.07" y="118.21" width="4.75" height="4.45" fill="#26ee8c"/><rect x="295.82" y="118.21" width="4.75" height="4.45" fill="#26ee8c"/><rect x="300.57" y="118.21" width="4.75" height="4.45" fill="#b0f030"/><rect x="305.33" y="118.21" width="4.75" height="4.45" fill="#ffbf00"/><rect x="310.08" y="118.21" width="4.75" height="4.45" fill="#ffbf00"/><rect x="314.83" y="118.21" width="4.75" height="4.45" fill="#ff5000"/><rect x="319.59" y="118.21" width="4.75" height="4.45" fill="#9a0000"/><rect x="196.00" y="122.66" width="4.75" height="4.45" fill="#ff7400"/><rect x="200.75" y="122.66" width="4.75" height="4.45" fill="#ff7400"/><rect x="205.51" y="122.66" width="4.75" height="4.45" fill="#ff5000"/><rect x="210.26" y="122.66" width="4.75" height="4.45" fill="#ffe800"/><rect x="215.01" y="122.66" width="4.75" height="4.45" fill="#b0f030"/><rect x="219.77" y="122.66" width="4.75" height="4.45" fill="#b0f030"/><rect x="224.52" y="122.66" width="4.75" height="4.45" fill="#b0f030"/><rect x="229.27" y="122.66" width="4.75" height="4.45" fill="#ffbf00"/><rect x="234.03" y="122.66" width="4.75" height="4.45" fill="#b0f030"/><rect x="238.78" y="122.66" width="4.75" height="4.45" fill="#26ee8c"/><rect x="243.53" y="122.66" width="4.75" height="4.45" fill="#26ee8c"/><rect x="248.29" y="122.66" width="4.75" height="4.45" fill="#ffe800"/><rect x="253.04" y="122.66" width="4.75" height="4.45" fill="#ffbf00"/><rect x="257.79" y="122.66" width="4.75" height="4.45" fill="#ffe800"/><rect x="262.55" y="122.66" width="4.75" height="4.45" fill="#ffe800"/><rect x="267.30" y="122.66" width="4.75" height="4.45" fill="#ffe800"/><rect x="272.05" y="122.66" width="4.75" height="4.45" fill="#ffe800"/><rect x="276.81" y="122.66" width="4.75" height="4.45" fill="#ff5000"/><rect x="281.56" y="122.66" width="4.75" height="4.45" fill="#ff5000"/><rect x="286.31" y="122.66" width="4.75" height="4.45" fill="#ff5000"/><rect x="291.07" y="122.66" width="4.75" height="4.45" fill="#00f0f0"/><rect x="295.82" y="122.66" width="4.75" height="4.45" fill="#00f0f0"/><rect x="300.57" y="122.66" width="4.75" height="4.45" fill="#26ee8c"/><rect x="305.33" y="122.66" width="4.75" height="4.45" fill="#ffe800"/><rect x="310.08" y="122.66" width="4.75" height="4.45" fill="#ffbf00"/><rect x="314.83" y="122.66" width="4.75" height="4.45" fill="#ff5000"/><rect x="319.59" y="122.66" width="4.75" height="4.45" fill="#ff7400"/><rect x="324.34" y="122.66" width="4.75" height="4.45" fill="#9a0000"/><rect x="196.00" y="127.11" width="4.75" height="4.45" fill="#ff5000"/><rect x="200.75" y="127.11" width="4.75" height="4.45" fill="#ffbf00"/><rect x="205.51" y="127.11" width="4.75" height="4.45" fill="#ff5000"/><rect x="210.26" y="127.11" width="4.75" height="4.45" fill="#ffe800"/><rect x="215.01" y="127.11" width="4.75" height="4.45" fill="#ffe800"/><rect x="219.77" y="127.11" width="4.75" height="4.45" fill="#ffe800"/><rect x="224.52" y="127.11" width="4.75" height="4.45" fill="#ffe800"/><rect x="229.27" y="127.11" width="4.75" height="4.45" fill="#ffe800"/><rect x="234.03" y="127.11" width="4.75" height="4.45" fill="#b0f030"/><rect x="238.78" y="127.11" width="4.75" height="4.45" fill="#b0f030"/><rect x="243.53" y="127.11" width="4.75" height="4.45" fill="#26ee8c"/><rect x="248.29" y="127.11" width="4.75" height="4.45" fill="#ffe800"/><rect x="253.04" y="127.11" width="4.75" height="4.45" fill="#ff7400"/><rect x="257.79" y="127.11" width="4.75" height="4.45" fill="#ffbf00"/><rect x="262.55" y="127.11" width="4.75" height="4.45" fill="#ffbf00"/><rect x="267.30" y="127.11" width="4.75" height="4.45" fill="#ffbf00"/><rect x="272.05" y="127.11" width="4.75" height="4.45" fill="#ffbf00"/><rect x="276.81" y="127.11" width="4.75" height="4.45" fill="#ff7400"/><rect x="281.56" y="127.11" width="4.75" height="4.45" fill="#ff7400"/><rect x="286.31" y="127.11" width="4.75" height="4.45" fill="#ff7400"/><rect x="291.07" y="127.11" width="4.75" height="4.45" fill="#26ee8c"/><rect x="295.82" y="127.11" width="4.75" height="4.45" fill="#26ee8c"/><rect x="300.57" y="127.11" width="4.75" height="4.45" fill="#26ee8c"/><rect x="305.33" y="127.11" width="4.75" height="4.45" fill="#ffbf00"/><rect x="310.08" y="127.11" width="4.75" height="4.45" fill="#ff7400"/><rect x="314.83" y="127.11" width="4.75" height="4.45" fill="#f80000"/><rect x="319.59" y="127.11" width="4.75" height="4.45" fill="#ffbf00"/><rect x="324.34" y="127.11" width="4.75" height="4.45" fill="#9a0000"/><rect x="329.09" y="127.11" width="4.75" height="4.45" fill="#9a0000"/><rect x="196.00" y="131.55" width="4.75" height="4.45" fill="#ff5000"/><rect x="200.75" y="131.55" width="4.75" height="4.45" fill="#ff5000"/><rect x="205.51" y="131.55" width="4.75" height="4.45" fill="#f80000"/><rect x="210.26" y="131.55" width="4.75" height="4.45" fill="#ffbf00"/><rect x="215.01" y="131.55" width="4.75" height="4.45" fill="#ffe800"/><rect x="219.77" y="131.55" width="4.75" height="4.45" fill="#ffe800"/><rect x="224.52" y="131.55" width="4.75" height="4.45" fill="#ffe800"/><rect x="229.27" y="131.55" width="4.75" height="4.45" fill="#ffbf00"/><rect x="234.03" y="131.55" width="4.75" height="4.45" fill="#b0f030"/><rect x="238.78" y="131.55" width="4.75" height="4.45" fill="#b0f030"/><rect x="243.53" y="131.55" width="4.75" height="4.45" fill="#26ee8c"/><rect x="248.29" y="131.55" width="4.75" height="4.45" fill="#ffe800"/><rect x="253.04" y="131.55" width="4.75" height="4.45" fill="#ff7400"/><rect x="257.79" y="131.55" width="4.75" height="4.45" fill="#ffbf00"/><rect x="262.55" y="131.55" width="4.75" height="4.45" fill="#ffbf00"/><rect x="267.30" y="131.55" width="4.75" height="4.45" fill="#ffbf00"/><rect x="272.05" y="131.55" width="4.75" height="4.45" fill="#ffbf00"/><rect x="276.81" y="131.55" width="4.75" height="4.45" fill="#ff7400"/><rect x="281.56" y="131.55" width="4.75" height="4.45" fill="#ff7400"/><rect x="286.31" y="131.55" width="4.75" height="4.45" fill="#ff7400"/><rect x="291.07" y="131.55" width="4.75" height="4.45" fill="#26ee8c"/><rect x="295.82" y="131.55" width="4.75" height="4.45" fill="#26ee8c"/><rect x="300.57" y="131.55" width="4.75" height="4.45" fill="#26ee8c"/><rect x="305.33" y="131.55" width="4.75" height="4.45" fill="#ffbf00"/><rect x="310.08" y="131.55" width="4.75" height="4.45" fill="#ff7400"/><rect x="314.83" y="131.55" width="4.75" height="4.45" fill="#f80000"/><rect x="319.59" y="131.55" width="4.75" height="4.45" fill="#ffbf00"/><rect x="324.34" y="131.55" width="4.75" height="4.45" fill="#f80000"/><rect x="329.09" y="131.55" width="4.75" height="4.45" fill="#9a0000"/><rect x="333.85" y="131.55" width="4.75" height="4.45" fill="#9a0000"/></g>
<g font-family="Liberation Serif, serif" font-weight="bold" font-size="3.1" fill="#222" text-rendering="geometricPrecision" text-anchor="start"><text x="185.90" y="6.25">LX 18</text><text x="185.90" y="10.69">LX 16</text><text x="185.90" y="15.14">LX 17</text><text x="185.90" y="19.59">LX 30</text><text x="185.90" y="24.03">LX 6</text><text x="185.90" y="28.48">LX 19</text><text x="185.90" y="32.93">LX 10</text><text x="185.90" y="37.37">LX 9</text><text x="185.90" y="41.82">LX 8</text><text x="185.90" y="46.27">LX 3</text><text x="185.90" y="50.71">LX 2</text><text x="185.90" y="55.16">LX 12</text><text x="185.90" y="59.61">LX 4</text><text x="185.90" y="64.05">LX 11</text><text x="185.90" y="68.50">LX 7</text><text x="185.90" y="72.95">LX 14</text><text x="185.90" y="77.39">LX 15</text><text x="185.90" y="81.84">LX 13</text><text x="185.90" y="86.29">LX 5</text><text x="185.90" y="90.73">LX 20</text><text x="185.90" y="95.18">LX 28</text><text x="185.90" y="99.63">LX 29</text><text x="185.90" y="104.07">LX 23</text><text x="185.90" y="108.52">LX 21</text><text x="185.90" y="112.97">LX 22</text><text x="185.90" y="117.41">LX 24</text><text x="185.90" y="121.86">LX 25</text><text x="185.90" y="126.31">LX 26</text><text x="185.90" y="130.75">LX 27</text><text x="185.90" y="135.20">LX 1</text></g>
<g font-family="Liberation Serif, serif" font-weight="bold" font-size="3.1" fill="#222" text-rendering="geometricPrecision" text-anchor="start"><text transform="translate(199.86,146.00) rotate(-90)">LX 18</text><text transform="translate(204.62,146.00) rotate(-90)">LX 16</text><text transform="translate(209.37,146.00) rotate(-90)">LX 17</text><text transform="translate(214.12,146.00) rotate(-90)">LX 30</text><text transform="translate(218.88,146.00) rotate(-90)">LX 6</text><text transform="translate(223.63,146.00) rotate(-90)">LX 19</text><text transform="translate(228.38,146.00) rotate(-90)">LX 10</text><text transform="translate(233.14,146.00) rotate(-90)">LX 9</text><text transform="translate(237.89,146.00) rotate(-90)">LX 8</text><text transform="translate(242.64,146.00) rotate(-90)">LX 3</text><text transform="translate(247.40,146.00) rotate(-90)">LX 2</text><text transform="translate(252.15,146.00) rotate(-90)">LX 12</text><text transform="translate(256.90,146.00) rotate(-90)">LX 4</text><text transform="translate(261.65,146.00) rotate(-90)">LX 11</text><text transform="translate(266.41,146.00) rotate(-90)">LX 7</text><text transform="translate(271.16,146.00) rotate(-90)">LX 14</text><text transform="translate(275.91,146.00) rotate(-90)">LX 15</text><text transform="translate(280.67,146.00) rotate(-90)">LX 13</text><text transform="translate(285.42,146.00) rotate(-90)">LX 5</text><text transform="translate(290.17,146.00) rotate(-90)">LX 20</text><text transform="translate(294.93,146.00) rotate(-90)">LX 28</text><text transform="translate(299.68,146.00) rotate(-90)">LX 29</text><text transform="translate(304.44,146.00) rotate(-90)">LX 23</text><text transform="translate(309.19,146.00) rotate(-90)">LX 21</text><text transform="translate(313.94,146.00) rotate(-90)">LX 22</text><text transform="translate(318.69,146.00) rotate(-90)">LX 24</text><text transform="translate(323.45,146.00) rotate(-90)">LX 25</text><text transform="translate(328.20,146.00) rotate(-90)">LX 26</text><text transform="translate(332.95,146.00) rotate(-90)">LX 27</text><text transform="translate(337.71,146.00) rotate(-90)">LX 1</text></g>
<text x="343.7" y="7.3" font-family="Liberation Serif, serif" font-weight="bold" font-size="6.1" fill="#111" stroke="#111" stroke-width="0.2">LX</text>
<defs><linearGradient id="jetLX" x1="0" y1="1" x2="0" y2="0"><stop offset="0" stop-color="#00008f"/><stop offset="0.14" stop-color="#0000ff"/><stop offset="0.26" stop-color="#0080ff"/><stop offset="0.37" stop-color="#00ffff"/><stop offset="0.48" stop-color="#80ff80"/><stop offset="0.6" stop-color="#ffff00"/><stop offset="0.73" stop-color="#ff8000"/><stop offset="0.86" stop-color="#ff0000"/><stop offset="1" stop-color="#800000"/></linearGradient></defs>
<rect x="343.1" y="46.4" width="5.90" height="35.20" fill="url(#jetLX)"/>
<g stroke="#444" stroke-width="0.35" font-family="Liberation Serif, serif" font-size="2.0" fill="#333" text-rendering="geometricPrecision"><line x1="348.40" y1="47.60" x2="349.50" y2="47.60"/><text x="351.30" y="48.30" stroke="none" textLength="3.8" lengthAdjust="spacingAndGlyphs">100.0</text><line x1="348.40" y1="50.86" x2="349.50" y2="50.86"/><text x="351.30" y="51.56" stroke="none" textLength="3.8" lengthAdjust="spacingAndGlyphs">100.0</text><line x1="348.40" y1="54.12" x2="349.50" y2="54.12"/><text x="351.30" y="54.82" stroke="none" textLength="3.8" lengthAdjust="spacingAndGlyphs">100.0</text><line x1="348.40" y1="57.38" x2="349.50" y2="57.38"/><text x="351.30" y="58.08" stroke="none" textLength="3.8" lengthAdjust="spacingAndGlyphs">99.5</text><line x1="348.40" y1="60.64" x2="349.50" y2="60.64"/><text x="351.30" y="61.34" stroke="none" textLength="3.8" lengthAdjust="spacingAndGlyphs">99.0</text><line x1="348.40" y1="63.90" x2="349.50" y2="63.90"/><text x="351.30" y="64.60" stroke="none" textLength="3.8" lengthAdjust="spacingAndGlyphs">98.5</text><line x1="348.40" y1="67.16" x2="349.50" y2="67.16"/><text x="351.30" y="67.86" stroke="none" textLength="3.8" lengthAdjust="spacingAndGlyphs">98.0</text><line x1="348.40" y1="70.42" x2="349.50" y2="70.42"/><text x="351.30" y="71.12" stroke="none" textLength="3.8" lengthAdjust="spacingAndGlyphs">97.5</text><line x1="348.40" y1="73.68" x2="349.50" y2="73.68"/><text x="351.30" y="74.38" stroke="none" textLength="3.8" lengthAdjust="spacingAndGlyphs">97.0</text><line x1="348.40" y1="76.94" x2="349.50" y2="76.94"/><text x="351.30" y="77.64" stroke="none" textLength="3.8" lengthAdjust="spacingAndGlyphs">96.5</text><line x1="348.40" y1="80.20" x2="349.50" y2="80.20"/><text x="351.30" y="80.90" stroke="none" textLength="3.8" lengthAdjust="spacingAndGlyphs">96.0</text></g>
<text x="310.9" y="41.3" font-family="Liberation Serif, serif" font-weight="bold" font-size="6.6" fill="#111" stroke="#111" stroke-width="0.05" textLength="54.0" lengthAdjust="spacingAndGlyphs">Pairwise identity (%)</text>
<line x1="216.4" y1="2.3" x2="298.0" y2="80.3" stroke="#f6782a" stroke-width="1.2"/>
<line x1="302.3" y1="84.8" x2="318.5" y2="100.5" stroke="#2e86e6" stroke-width="1.2"/>
<line x1="322.2" y1="103.8" x2="347.6" y2="128.8" stroke="#fab418" stroke-width="1.2"/>
<text transform="translate(266.78,41.52) rotate(45)" font-family="Liberation Sans, sans-serif" font-weight="bold" font-size="5.6" fill="#111" stroke="#111" stroke-width="0.3" text-anchor="middle" letter-spacing="0.6">I</text>
<text transform="translate(315.18,88.22) rotate(45)" font-family="Liberation Sans, sans-serif" font-weight="bold" font-size="5.6" fill="#111" stroke="#111" stroke-width="0.3" text-anchor="middle" letter-spacing="0.6">II</text>
<text transform="translate(340.08,110.92) rotate(45)" font-family="Liberation Sans, sans-serif" font-weight="bold" font-size="5.6" fill="#111" stroke="#111" stroke-width="0.3" text-anchor="middle" letter-spacing="0.6">III</text>
<g stroke="#000" stroke-width="0.6" stroke-opacity="0.4"><rect x="377.20" y="4.00" width="4.97" height="4.63" fill="#9a0000"/><rect x="377.20" y="8.63" width="4.97" height="4.63" fill="#b0f030"/><rect x="382.17" y="8.63" width="4.97" height="4.63" fill="#9a0000"/><rect x="377.20" y="13.27" width="4.97" height="4.63" fill="#b0f030"/><rect x="382.17" y="13.27" width="4.97" height="4.63" fill="#f80000"/><rect x="387.13" y="13.27" width="4.97" height="4.63" fill="#9a0000"/><rect x="377.20" y="17.90" width="4.97" height="4.63" fill="#b0f030"/><rect x="382.17" y="17.90" width="4.97" height="4.63" fill="#ff7400"/><rect x="387.13" y="17.90" width="4.97" height="4.63" fill="#f80000"/><rect x="392.10" y="17.90" width="4.97" height="4.63" fill="#9a0000"/><rect x="377.20" y="22.54" width="4.97" height="4.63" fill="#26ee8c"/><rect x="382.17" y="22.54" width="4.97" height="4.63" fill="#ff5000"/><rect x="387.13" y="22.54" width="4.97" height="4.63" fill="#f80000"/><rect x="392.10" y="22.54" width="4.97" height="4.63" fill="#ff5000"/><rect x="397.06" y="22.54" width="4.97" height="4.63" fill="#9a0000"/><rect x="377.20" y="27.17" width="4.97" height="4.63" fill="#ffe800"/><rect x="382.17" y="27.17" width="4.97" height="4.63" fill="#b0f030"/><rect x="387.13" y="27.17" width="4.97" height="4.63" fill="#ffbf00"/><rect x="392.10" y="27.17" width="4.97" height="4.63" fill="#b0f030"/><rect x="397.06" y="27.17" width="4.97" height="4.63" fill="#ffe800"/><rect x="402.03" y="27.17" width="4.97" height="4.63" fill="#9a0000"/><rect x="377.20" y="31.81" width="4.97" height="4.63" fill="#ffe800"/><rect x="382.17" y="31.81" width="4.97" height="4.63" fill="#b0f030"/><rect x="387.13" y="31.81" width="4.97" height="4.63" fill="#ffbf00"/><rect x="392.10" y="31.81" width="4.97" height="4.63" fill="#b0f030"/><rect x="397.06" y="31.81" width="4.97" height="4.63" fill="#ffe800"/><rect x="402.03" y="31.81" width="4.97" height="4.63" fill="#c80000"/><rect x="406.99" y="31.81" width="4.97" height="4.63" fill="#9a0000"/><rect x="377.20" y="36.44" width="4.97" height="4.63" fill="#ffbf00"/><rect x="382.17" y="36.44" width="4.97" height="4.63" fill="#ffe800"/><rect x="387.13" y="36.44" width="4.97" height="4.63" fill="#ff7400"/><rect x="392.10" y="36.44" width="4.97" height="4.63" fill="#ffe800"/><rect x="397.06" y="36.44" width="4.97" height="4.63" fill="#ffbf00"/><rect x="402.03" y="36.44" width="4.97" height="4.63" fill="#f80000"/><rect x="406.99" y="36.44" width="4.97" height="4.63" fill="#f80000"/><rect x="411.96" y="36.44" width="4.97" height="4.63" fill="#9a0000"/><rect x="377.20" y="41.08" width="4.97" height="4.63" fill="#ff7400"/><rect x="382.17" y="41.08" width="4.97" height="4.63" fill="#ffbf00"/><rect x="387.13" y="41.08" width="4.97" height="4.63" fill="#ff5000"/><rect x="392.10" y="41.08" width="4.97" height="4.63" fill="#ffbf00"/><rect x="397.06" y="41.08" width="4.97" height="4.63" fill="#ffbf00"/><rect x="402.03" y="41.08" width="4.97" height="4.63" fill="#f80000"/><rect x="406.99" y="41.08" width="4.97" height="4.63" fill="#f80000"/><rect x="411.96" y="41.08" width="4.97" height="4.63" fill="#f80000"/><rect x="416.92" y="41.08" width="4.97" height="4.63" fill="#9a0000"/><rect x="377.20" y="45.71" width="4.97" height="4.63" fill="#ffe800"/><rect x="382.17" y="45.71" width="4.97" height="4.63" fill="#b0f030"/><rect x="387.13" y="45.71" width="4.97" height="4.63" fill="#ffbf00"/><rect x="392.10" y="45.71" width="4.97" height="4.63" fill="#b0f030"/><rect x="397.06" y="45.71" width="4.97" height="4.63" fill="#ffbf00"/><rect x="402.03" y="45.71" width="4.97" height="4.63" fill="#ff7400"/><rect x="406.99" y="45.71" width="4.97" height="4.63" fill="#ff7400"/><rect x="411.96" y="45.71" width="4.97" height="4.63" fill="#ff7400"/><rect x="416.92" y="45.71" width="4.97" height="4.63" fill="#ff5000"/><rect x="421.89" y="45.71" width="4.97" height="4.63" fill="#9a0000"/><rect x="377.20" y="50.34" width="4.97" height="4.63" fill="#ffbf00"/><rect x="382.17" y="50.34" width="4.97" height="4.63" fill="#26ee8c"/><rect x="387.13" y="50.34" width="4.97" height="4.63" fill="#ffe800"/><rect x="392.10" y="50.34" width="4.97" height="4.63" fill="#26ee8c"/><rect x="397.06" y="50.34" width="4.97" height="4.63" fill="#ffbf00"/><rect x="402.03" y="50.34" width="4.97" height="4.63" fill="#ff7400"/><rect x="406.99" y="50.34" width="4.97" height="4.63" fill="#ff5000"/><rect x="411.96" y="50.34" width="4.97" height="4.63" fill="#ff5000"/><rect x="416.92" y="50.34" width="4.97" height="4.63" fill="#ff7400"/><rect x="421.89" y="50.34" width="4.97" height="4.63" fill="#f80000"/><rect x="426.86" y="50.34" width="4.97" height="4.63" fill="#9a0000"/><rect x="377.20" y="54.98" width="4.97" height="4.63" fill="#b0f030"/><rect x="382.17" y="54.98" width="4.97" height="4.63" fill="#00f0f0"/><rect x="387.13" y="54.98" width="4.97" height="4.63" fill="#b0f030"/><rect x="392.10" y="54.98" width="4.97" height="4.63" fill="#00f0f0"/><rect x="397.06" y="54.98" width="4.97" height="4.63" fill="#ffe800"/><rect x="402.03" y="54.98" width="4.97" height="4.63" fill="#ff5000"/><rect x="406.99" y="54.98" width="4.97" height="4.63" fill="#ff7400"/><rect x="411.96" y="54.98" width="4.97" height="4.63" fill="#ff7400"/><rect x="416.92" y="54.98" width="4.97" height="4.63" fill="#ff5000"/><rect x="421.89" y="54.98" width="4.97" height="4.63" fill="#f80000"/><rect x="426.86" y="54.98" width="4.97" height="4.63" fill="#f80000"/><rect x="431.82" y="54.98" width="4.97" height="4.63" fill="#9a0000"/><rect x="377.20" y="59.61" width="4.97" height="4.63" fill="#b0f030"/><rect x="382.17" y="59.61" width="4.97" height="4.63" fill="#26ee8c"/><rect x="387.13" y="59.61" width="4.97" height="4.63" fill="#ffe800"/><rect x="392.10" y="59.61" width="4.97" height="4.63" fill="#26ee8c"/><rect x="397.06" y="59.61" width="4.97" height="4.63" fill="#ffbf00"/><rect x="402.03" y="59.61" width="4.97" height="4.63" fill="#ff5000"/><rect x="406.99" y="59.61" width="4.97" height="4.63" fill="#ff5000"/><rect x="411.96" y="59.61" width="4.97" height="4.63" fill="#f80000"/><rect x="416.92" y="59.61" width="4.97" height="4.63" fill="#ff5000"/><rect x="421.89" y="59.61" width="4.97" height="4.63" fill="#ff5000"/><rect x="426.86" y="59.61" width="4.97" height="4.63" fill="#f80000"/><rect x="431.82" y="59.61" width="4.97" height="4.63" fill="#ff5000"/><rect x="436.79" y="59.61" width="4.97" height="4.63" fill="#9a0000"/><rect x="377.20" y="64.25" width="4.97" height="4.63" fill="#b0f030"/><rect x="382.17" y="64.25" width="4.97" height="4.63" fill="#ff7400"/><rect x="387.13" y="64.25" width="4.97" height="4.63" fill="#f80000"/><rect x="392.10" y="64.25" width="4.97" height="4.63" fill="#ff7400"/><rect x="397.06" y="64.25" width="4.97" height="4.63" fill="#f80000"/><rect x="402.03" y="64.25" width="4.97" height="4.63" fill="#ffbf00"/><rect x="406.99" y="64.25" width="4.97" height="4.63" fill="#ffbf00"/><rect x="411.96" y="64.25" width="4.97" height="4.63" fill="#ff7400"/><rect x="416.92" y="64.25" width="4.97" height="4.63" fill="#ff5000"/><rect x="421.89" y="64.25" width="4.97" height="4.63" fill="#ff5000"/><rect x="426.86" y="64.25" width="4.97" height="4.63" fill="#ff7400"/><rect x="431.82" y="64.25" width="4.97" height="4.63" fill="#ffe800"/><rect x="436.79" y="64.25" width="4.97" height="4.63" fill="#ffbf00"/><rect x="441.75" y="64.25" width="4.97" height="4.63" fill="#9a0000"/><rect x="377.20" y="68.88" width="4.97" height="4.63" fill="#b0f030"/><rect x="382.17" y="68.88" width="4.97" height="4.63" fill="#ff7400"/><rect x="387.13" y="68.88" width="4.97" height="4.63" fill="#f80000"/><rect x="392.10" y="68.88" width="4.97" height="4.63" fill="#ff7400"/><rect x="397.06" y="68.88" width="4.97" height="4.63" fill="#f80000"/><rect x="402.03" y="68.88" width="4.97" height="4.63" fill="#ffbf00"/><rect x="406.99" y="68.88" width="4.97" height="4.63" fill="#ffbf00"/><rect x="411.96" y="68.88" width="4.97" height="4.63" fill="#ff7400"/><rect x="416.92" y="68.88" width="4.97" height="4.63" fill="#ff5000"/><rect x="421.89" y="68.88" width="4.97" height="4.63" fill="#ff5000"/><rect x="426.86" y="68.88" width="4.97" height="4.63" fill="#ff7400"/><rect x="431.82" y="68.88" width="4.97" height="4.63" fill="#ffe800"/><rect x="436.79" y="68.88" width="4.97" height="4.63" fill="#ff7400"/><rect x="441.75" y="68.88" width="4.97" height="4.63" fill="#9a0000"/><rect x="446.72" y="68.88" width="4.97" height="4.63" fill="#9a0000"/><rect x="377.20" y="73.52" width="4.97" height="4.63" fill="#26ee8c"/><rect x="382.17" y="73.52" width="4.97" height="4.63" fill="#ffbf00"/><rect x="387.13" y="73.52" width="4.97" height="4.63" fill="#ff5000"/><rect x="392.10" y="73.52" width="4.97" height="4.63" fill="#ffbf00"/><rect x="397.06" y="73.52" width="4.97" height="4.63" fill="#f80000"/><rect x="402.03" y="73.52" width="4.97" height="4.63" fill="#ff5000"/><rect x="406.99" y="73.52" width="4.97" height="4.63" fill="#ff5000"/><rect x="411.96" y="73.52" width="4.97" height="4.63" fill="#ff5000"/><rect x="416.92" y="73.52" width="4.97" height="4.63" fill="#ff7400"/><rect x="421.89" y="73.52" width="4.97" height="4.63" fill="#f80000"/><rect x="426.86" y="73.52" width="4.97" height="4.63" fill="#ff5000"/><rect x="431.82" y="73.52" width="4.97" height="4.63" fill="#ff7400"/><rect x="436.79" y="73.52" width="4.97" height="4.63" fill="#ff5000"/><rect x="441.75" y="73.52" width="4.97" height="4.63" fill="#f80000"/><rect x="446.72" y="73.52" width="4.97" height="4.63" fill="#f80000"/><rect x="451.68" y="73.52" width="4.97" height="4.63" fill="#9a0000"/><rect x="377.20" y="78.15" width="4.97" height="4.63" fill="#26ee8c"/><rect x="382.17" y="78.15" width="4.97" height="4.63" fill="#ffbf00"/><rect x="387.13" y="78.15" width="4.97" height="4.63" fill="#ff5000"/><rect x="392.10" y="78.15" width="4.97" height="4.63" fill="#ffbf00"/><rect x="397.06" y="78.15" width="4.97" height="4.63" fill="#f80000"/><rect x="402.03" y="78.15" width="4.97" height="4.63" fill="#ff5000"/><rect x="406.99" y="78.15" width="4.97" height="4.63" fill="#ff5000"/><rect x="411.96" y="78.15" width="4.97" height="4.63" fill="#ff5000"/><rect x="416.92" y="78.15" width="4.97" height="4.63" fill="#ff7400"/><rect x="421.89" y="78.15" width="4.97" height="4.63" fill="#f80000"/><rect x="426.86" y="78.15" width="4.97" height="4.63" fill="#ff5000"/><rect x="431.82" y="78.15" width="4.97" height="4.63" fill="#ff7400"/><rect x="436.79" y="78.15" width="4.97" height="4.63" fill="#ff5000"/><rect x="441.75" y="78.15" width="4.97" height="4.63" fill="#f80000"/><rect x="446.72" y="78.15" width="4.97" height="4.63" fill="#f80000"/><rect x="451.68" y="78.15" width="4.97" height="4.63" fill="#c80000"/><rect x="456.65" y="78.15" width="4.97" height="4.63" fill="#9a0000"/><rect x="377.20" y="82.79" width="4.97" height="4.63" fill="#b0f030"/><rect x="382.17" y="82.79" width="4.97" height="4.63" fill="#ffe800"/><rect x="387.13" y="82.79" width="4.97" height="4.63" fill="#ff7400"/><rect x="392.10" y="82.79" width="4.97" height="4.63" fill="#ffe800"/><rect x="397.06" y="82.79" width="4.97" height="4.63" fill="#ff5000"/><rect x="402.03" y="82.79" width="4.97" height="4.63" fill="#ff5000"/><rect x="406.99" y="82.79" width="4.97" height="4.63" fill="#ff5000"/><rect x="411.96" y="82.79" width="4.97" height="4.63" fill="#f80000"/><rect x="416.92" y="82.79" width="4.97" height="4.63" fill="#ff7400"/><rect x="421.89" y="82.79" width="4.97" height="4.63" fill="#ff5000"/><rect x="426.86" y="82.79" width="4.97" height="4.63" fill="#ff5000"/><rect x="431.82" y="82.79" width="4.97" height="4.63" fill="#ff5000"/><rect x="436.79" y="82.79" width="4.97" height="4.63" fill="#f80000"/><rect x="441.75" y="82.79" width="4.97" height="4.63" fill="#f80000"/><rect x="446.72" y="82.79" width="4.97" height="4.63" fill="#f80000"/><rect x="451.68" y="82.79" width="4.97" height="4.63" fill="#f80000"/><rect x="456.65" y="82.79" width="4.97" height="4.63" fill="#f80000"/><rect x="461.61" y="82.79" width="4.97" height="4.63" fill="#9a0000"/><rect x="377.20" y="87.42" width="4.97" height="4.63" fill="#26ee8c"/><rect x="382.17" y="87.42" width="4.97" height="4.63" fill="#b0f030"/><rect x="387.13" y="87.42" width="4.97" height="4.63" fill="#ffbf00"/><rect x="392.10" y="87.42" width="4.97" height="4.63" fill="#b0f030"/><rect x="397.06" y="87.42" width="4.97" height="4.63" fill="#ff7400"/><rect x="402.03" y="87.42" width="4.97" height="4.63" fill="#ffe800"/><rect x="406.99" y="87.42" width="4.97" height="4.63" fill="#ffe800"/><rect x="411.96" y="87.42" width="4.97" height="4.63" fill="#ffbf00"/><rect x="416.92" y="87.42" width="4.97" height="4.63" fill="#ff5000"/><rect x="421.89" y="87.42" width="4.97" height="4.63" fill="#ffe800"/><rect x="426.86" y="87.42" width="4.97" height="4.63" fill="#ffbf00"/><rect x="431.82" y="87.42" width="4.97" height="4.63" fill="#ff5000"/><rect x="436.79" y="87.42" width="4.97" height="4.63" fill="#ffbf00"/><rect x="441.75" y="87.42" width="4.97" height="4.63" fill="#ff5000"/><rect x="446.72" y="87.42" width="4.97" height="4.63" fill="#ff5000"/><rect x="451.68" y="87.42" width="4.97" height="4.63" fill="#ff7400"/><rect x="456.65" y="87.42" width="4.97" height="4.63" fill="#ffbf00"/><rect x="461.61" y="87.42" width="4.97" height="4.63" fill="#ff5000"/><rect x="466.58" y="87.42" width="4.97" height="4.63" fill="#9a0000"/><rect x="377.20" y="92.06" width="4.97" height="4.63" fill="#26ee8c"/><rect x="382.17" y="92.06" width="4.97" height="4.63" fill="#b0f030"/><rect x="387.13" y="92.06" width="4.97" height="4.63" fill="#ffbf00"/><rect x="392.10" y="92.06" width="4.97" height="4.63" fill="#b0f030"/><rect x="397.06" y="92.06" width="4.97" height="4.63" fill="#ffbf00"/><rect x="402.03" y="92.06" width="4.97" height="4.63" fill="#ff7400"/><rect x="406.99" y="92.06" width="4.97" height="4.63" fill="#ff7400"/><rect x="411.96" y="92.06" width="4.97" height="4.63" fill="#ff5000"/><rect x="416.92" y="92.06" width="4.97" height="4.63" fill="#ff5000"/><rect x="421.89" y="92.06" width="4.97" height="4.63" fill="#ff7400"/><rect x="426.86" y="92.06" width="4.97" height="4.63" fill="#ff5000"/><rect x="431.82" y="92.06" width="4.97" height="4.63" fill="#f80000"/><rect x="436.79" y="92.06" width="4.97" height="4.63" fill="#ff5000"/><rect x="441.75" y="92.06" width="4.97" height="4.63" fill="#ff5000"/><rect x="446.72" y="92.06" width="4.97" height="4.63" fill="#f80000"/><rect x="451.68" y="92.06" width="4.97" height="4.63" fill="#f80000"/><rect x="456.65" y="92.06" width="4.97" height="4.63" fill="#f80000"/><rect x="461.61" y="92.06" width="4.97" height="4.63" fill="#f80000"/><rect x="466.58" y="92.06" width="4.97" height="4.63" fill="#f80000"/><rect x="471.54" y="92.06" width="4.97" height="4.63" fill="#9a0000"/><rect x="377.20" y="96.69" width="4.97" height="4.63" fill="#26ee8c"/><rect x="382.17" y="96.69" width="4.97" height="4.63" fill="#b0f030"/><rect x="387.13" y="96.69" width="4.97" height="4.63" fill="#ffbf00"/><rect x="392.10" y="96.69" width="4.97" height="4.63" fill="#b0f030"/><rect x="397.06" y="96.69" width="4.97" height="4.63" fill="#ff7400"/><rect x="402.03" y="96.69" width="4.97" height="4.63" fill="#ff7400"/><rect x="406.99" y="96.69" width="4.97" height="4.63" fill="#ff7400"/><rect x="411.96" y="96.69" width="4.97" height="4.63" fill="#ff5000"/><rect x="416.92" y="96.69" width="4.97" height="4.63" fill="#ff7400"/><rect x="421.89" y="96.69" width="4.97" height="4.63" fill="#ff7400"/><rect x="426.86" y="96.69" width="4.97" height="4.63" fill="#ff5000"/><rect x="431.82" y="96.69" width="4.97" height="4.63" fill="#f80000"/><rect x="436.79" y="96.69" width="4.97" height="4.63" fill="#ff5000"/><rect x="441.75" y="96.69" width="4.97" height="4.63" fill="#ff5000"/><rect x="446.72" y="96.69" width="4.97" height="4.63" fill="#ff5000"/><rect x="451.68" y="96.69" width="4.97" height="4.63" fill="#f80000"/><rect x="456.65" y="96.69" width="4.97" height="4.63" fill="#f80000"/><rect x="461.61" y="96.69" width="4.97" height="4.63" fill="#f80000"/><rect x="466.58" y="96.69" width="4.97" height="4.63" fill="#f80000"/><rect x="471.54" y="96.69" width="4.97" height="4.63" fill="#c80000"/><rect x="476.51" y="96.69" width="4.97" height="4.63" fill="#9a0000"/><rect x="377.20" y="101.32" width="4.97" height="4.63" fill="#00f0f0"/><rect x="382.17" y="101.32" width="4.97" height="4.63" fill="#b0f030"/><rect x="387.13" y="101.32" width="4.97" height="4.63" fill="#ffbf00"/><rect x="392.10" y="101.32" width="4.97" height="4.63" fill="#26ee8c"/><rect x="397.06" y="101.32" width="4.97" height="4.63" fill="#ff7400"/><rect x="402.03" y="101.32" width="4.97" height="4.63" fill="#ffe800"/><rect x="406.99" y="101.32" width="4.97" height="4.63" fill="#ffe800"/><rect x="411.96" y="101.32" width="4.97" height="4.63" fill="#ffbf00"/><rect x="416.92" y="101.32" width="4.97" height="4.63" fill="#ffe800"/><rect x="421.89" y="101.32" width="4.97" height="4.63" fill="#ffbf00"/><rect x="426.86" y="101.32" width="4.97" height="4.63" fill="#ffe800"/><rect x="431.82" y="101.32" width="4.97" height="4.63" fill="#ffbf00"/><rect x="436.79" y="101.32" width="4.97" height="4.63" fill="#ff7400"/><rect x="441.75" y="101.32" width="4.97" height="4.63" fill="#ff5000"/><rect x="446.72" y="101.32" width="4.97" height="4.63" fill="#ff5000"/><rect x="451.68" y="101.32" width="4.97" height="4.63" fill="#f80000"/><rect x="456.65" y="101.32" width="4.97" height="4.63" fill="#f80000"/><rect x="461.61" y="101.32" width="4.97" height="4.63" fill="#f80000"/><rect x="466.58" y="101.32" width="4.97" height="4.63" fill="#ff7400"/><rect x="471.54" y="101.32" width="4.97" height="4.63" fill="#f80000"/><rect x="476.51" y="101.32" width="4.97" height="4.63" fill="#f80000"/><rect x="481.48" y="101.32" width="4.97" height="4.63" fill="#9a0000"/><rect x="377.20" y="105.96" width="4.97" height="4.63" fill="#00f0f0"/><rect x="382.17" y="105.96" width="4.97" height="4.63" fill="#26ee8c"/><rect x="387.13" y="105.96" width="4.97" height="4.63" fill="#ffbf00"/><rect x="392.10" y="105.96" width="4.97" height="4.63" fill="#26ee8c"/><rect x="397.06" y="105.96" width="4.97" height="4.63" fill="#ff7400"/><rect x="402.03" y="105.96" width="4.97" height="4.63" fill="#ffe800"/><rect x="406.99" y="105.96" width="4.97" height="4.63" fill="#ffe800"/><rect x="411.96" y="105.96" width="4.97" height="4.63" fill="#ffbf00"/><rect x="416.92" y="105.96" width="4.97" height="4.63" fill="#ffe800"/><rect x="421.89" y="105.96" width="4.97" height="4.63" fill="#ffbf00"/><rect x="426.86" y="105.96" width="4.97" height="4.63" fill="#ffe800"/><rect x="431.82" y="105.96" width="4.97" height="4.63" fill="#ffbf00"/><rect x="436.79" y="105.96" width="4.97" height="4.63" fill="#ff7400"/><rect x="441.75" y="105.96" width="4.97" height="4.63" fill="#ff5000"/><rect x="446.72" y="105.96" width="4.97" height="4.63" fill="#ff5000"/><rect x="451.68" y="105.96" width="4.97" height="4.63" fill="#f80000"/><rect x="456.65" y="105.96" width="4.97" height="4.63" fill="#f80000"/><rect x="461.61" y="105.96" width="4.97" height="4.63" fill="#f80000"/><rect x="466.58" y="105.96" width="4.97" height="4.63" fill="#ff5000"/><rect x="471.54" y="105.96" width="4.97" height="4.63" fill="#ff7400"/><rect x="476.51" y="105.96" width="4.97" height="4.63" fill="#f80000"/><rect x="481.48" y="105.96" width="4.97" height="4.63" fill="#f80000"/><rect x="486.44" y="105.96" width="4.97" height="4.63" fill="#9a0000"/><rect x="377.20" y="110.59" width="4.97" height="4.63" fill="#00f0f0"/><rect x="382.17" y="110.59" width="4.97" height="4.63" fill="#26ee8c"/><rect x="387.13" y="110.59" width="4.97" height="4.63" fill="#b0f030"/><rect x="392.10" y="110.59" width="4.97" height="4.63" fill="#26ee8c"/><rect x="397.06" y="110.59" width="4.97" height="4.63" fill="#ffe800"/><rect x="402.03" y="110.59" width="4.97" height="4.63" fill="#ff7400"/><rect x="406.99" y="110.59" width="4.97" height="4.63" fill="#ff7400"/><rect x="411.96" y="110.59" width="4.97" height="4.63" fill="#ffbf00"/><rect x="416.92" y="110.59" width="4.97" height="4.63" fill="#ffe800"/><rect x="421.89" y="110.59" width="4.97" height="4.63" fill="#ffe800"/><rect x="426.86" y="110.59" width="4.97" height="4.63" fill="#ffbf00"/><rect x="431.82" y="110.59" width="4.97" height="4.63" fill="#ffbf00"/><rect x="436.79" y="110.59" width="4.97" height="4.63" fill="#ff7400"/><rect x="441.75" y="110.59" width="4.97" height="4.63" fill="#ffbf00"/><rect x="446.72" y="110.59" width="4.97" height="4.63" fill="#ffe800"/><rect x="451.68" y="110.59" width="4.97" height="4.63" fill="#ffbf00"/><rect x="456.65" y="110.59" width="4.97" height="4.63" fill="#ff7400"/><rect x="461.61" y="110.59" width="4.97" height="4.63" fill="#ff5000"/><rect x="466.58" y="110.59" width="4.97" height="4.63" fill="#ffbf00"/><rect x="471.54" y="110.59" width="4.97" height="4.63" fill="#ff5000"/><rect x="476.51" y="110.59" width="4.97" height="4.63" fill="#f80000"/><rect x="481.48" y="110.59" width="4.97" height="4.63" fill="#f80000"/><rect x="486.44" y="110.59" width="4.97" height="4.63" fill="#f80000"/><rect x="491.41" y="110.59" width="4.97" height="4.63" fill="#9a0000"/><rect x="377.20" y="115.23" width="4.97" height="4.63" fill="#00f0f0"/><rect x="382.17" y="115.23" width="4.97" height="4.63" fill="#26ee8c"/><rect x="387.13" y="115.23" width="4.97" height="4.63" fill="#b0f030"/><rect x="392.10" y="115.23" width="4.97" height="4.63" fill="#00f0f0"/><rect x="397.06" y="115.23" width="4.97" height="4.63" fill="#ffe800"/><rect x="402.03" y="115.23" width="4.97" height="4.63" fill="#ff7400"/><rect x="406.99" y="115.23" width="4.97" height="4.63" fill="#ff7400"/><rect x="411.96" y="115.23" width="4.97" height="4.63" fill="#ffbf00"/><rect x="416.92" y="115.23" width="4.97" height="4.63" fill="#ffe800"/><rect x="421.89" y="115.23" width="4.97" height="4.63" fill="#ffe800"/><rect x="426.86" y="115.23" width="4.97" height="4.63" fill="#ffbf00"/><rect x="431.82" y="115.23" width="4.97" height="4.63" fill="#ffbf00"/><rect x="436.79" y="115.23" width="4.97" height="4.63" fill="#ff7400"/><rect x="441.75" y="115.23" width="4.97" height="4.63" fill="#ffe800"/><rect x="446.72" y="115.23" width="4.97" height="4.63" fill="#ffe800"/><rect x="451.68" y="115.23" width="4.97" height="4.63" fill="#ffbf00"/><rect x="456.65" y="115.23" width="4.97" height="4.63" fill="#ffbf00"/><rect x="461.61" y="115.23" width="4.97" height="4.63" fill="#ffbf00"/><rect x="466.58" y="115.23" width="4.97" height="4.63" fill="#ffbf00"/><rect x="471.54" y="115.23" width="4.97" height="4.63" fill="#ff7400"/><rect x="476.51" y="115.23" width="4.97" height="4.63" fill="#f80000"/><rect x="481.48" y="115.23" width="4.97" height="4.63" fill="#f80000"/><rect x="486.44" y="115.23" width="4.97" height="4.63" fill="#f80000"/><rect x="491.41" y="115.23" width="4.97" height="4.63" fill="#9a0000"/><rect x="496.37" y="115.23" width="4.97" height="4.63" fill="#9a0000"/><rect x="377.20" y="119.86" width="4.97" height="4.63" fill="#26ee8c"/><rect x="382.17" y="119.86" width="4.97" height="4.63" fill="#00f0f0"/><rect x="387.13" y="119.86" width="4.97" height="4.63" fill="#26ee8c"/><rect x="392.10" y="119.86" width="4.97" height="4.63" fill="#00f0f0"/><rect x="397.06" y="119.86" width="4.97" height="4.63" fill="#b0f030"/><rect x="402.03" y="119.86" width="4.97" height="4.63" fill="#ff5000"/><rect x="406.99" y="119.86" width="4.97" height="4.63" fill="#ff5000"/><rect x="411.96" y="119.86" width="4.97" height="4.63" fill="#ff7400"/><rect x="416.92" y="119.86" width="4.97" height="4.63" fill="#ffbf00"/><rect x="421.89" y="119.86" width="4.97" height="4.63" fill="#ffbf00"/><rect x="426.86" y="119.86" width="4.97" height="4.63" fill="#ff7400"/><rect x="431.82" y="119.86" width="4.97" height="4.63" fill="#ff7400"/><rect x="436.79" y="119.86" width="4.97" height="4.63" fill="#ff5000"/><rect x="441.75" y="119.86" width="4.97" height="4.63" fill="#ffe800"/><rect x="446.72" y="119.86" width="4.97" height="4.63" fill="#ffe800"/><rect x="451.68" y="119.86" width="4.97" height="4.63" fill="#ffbf00"/><rect x="456.65" y="119.86" width="4.97" height="4.63" fill="#ffbf00"/><rect x="461.61" y="119.86" width="4.97" height="4.63" fill="#ffbf00"/><rect x="466.58" y="119.86" width="4.97" height="4.63" fill="#ffbf00"/><rect x="471.54" y="119.86" width="4.97" height="4.63" fill="#ff7400"/><rect x="476.51" y="119.86" width="4.97" height="4.63" fill="#ff5000"/><rect x="481.48" y="119.86" width="4.97" height="4.63" fill="#ff5000"/><rect x="486.44" y="119.86" width="4.97" height="4.63" fill="#ff5000"/><rect x="491.41" y="119.86" width="4.97" height="4.63" fill="#f80000"/><rect x="496.37" y="119.86" width="4.97" height="4.63" fill="#f80000"/><rect x="501.34" y="119.86" width="4.97" height="4.63" fill="#9a0000"/><rect x="377.20" y="124.50" width="4.97" height="4.63" fill="#26ee8c"/><rect x="382.17" y="124.50" width="4.97" height="4.63" fill="#26ee8c"/><rect x="387.13" y="124.50" width="4.97" height="4.63" fill="#ffe800"/><rect x="392.10" y="124.50" width="4.97" height="4.63" fill="#26ee8c"/><rect x="397.06" y="124.50" width="4.97" height="4.63" fill="#ffbf00"/><rect x="402.03" y="124.50" width="4.97" height="4.63" fill="#ff5000"/><rect x="406.99" y="124.50" width="4.97" height="4.63" fill="#ff5000"/><rect x="411.96" y="124.50" width="4.97" height="4.63" fill="#ff7400"/><rect x="416.92" y="124.50" width="4.97" height="4.63" fill="#ff7400"/><rect x="421.89" y="124.50" width="4.97" height="4.63" fill="#ff7400"/><rect x="426.86" y="124.50" width="4.97" height="4.63" fill="#ff7400"/><rect x="431.82" y="124.50" width="4.97" height="4.63" fill="#ff7400"/><rect x="436.79" y="124.50" width="4.97" height="4.63" fill="#ff5000"/><rect x="441.75" y="124.50" width="4.97" height="4.63" fill="#ff5000"/><rect x="446.72" y="124.50" width="4.97" height="4.63" fill="#ff7400"/><rect x="451.68" y="124.50" width="4.97" height="4.63" fill="#ff7400"/><rect x="456.65" y="124.50" width="4.97" height="4.63" fill="#ff7400"/><rect x="461.61" y="124.50" width="4.97" height="4.63" fill="#ff5000"/><rect x="466.58" y="124.50" width="4.97" height="4.63" fill="#ff5000"/><rect x="471.54" y="124.50" width="4.97" height="4.63" fill="#ff5000"/><rect x="476.51" y="124.50" width="4.97" height="4.63" fill="#f80000"/><rect x="481.48" y="124.50" width="4.97" height="4.63" fill="#f80000"/><rect x="486.44" y="124.50" width="4.97" height="4.63" fill="#f80000"/><rect x="491.41" y="124.50" width="4.97" height="4.63" fill="#f80000"/><rect x="496.37" y="124.50" width="4.97" height="4.63" fill="#f80000"/><rect x="501.34" y="124.50" width="4.97" height="4.63" fill="#f80000"/><rect x="506.30" y="124.50" width="4.97" height="4.63" fill="#9a0000"/><rect x="377.20" y="129.13" width="4.97" height="4.63" fill="#26ee8c"/><rect x="382.17" y="129.13" width="4.97" height="4.63" fill="#b0f030"/><rect x="387.13" y="129.13" width="4.97" height="4.63" fill="#26ee8c"/><rect x="392.10" y="129.13" width="4.97" height="4.63" fill="#b0f030"/><rect x="397.06" y="129.13" width="4.97" height="4.63" fill="#26ee8c"/><rect x="402.03" y="129.13" width="4.97" height="4.63" fill="#006cff"/><rect x="406.99" y="129.13" width="4.97" height="4.63" fill="#006cff"/><rect x="411.96" y="129.13" width="4.97" height="4.63" fill="#00aaff"/><rect x="416.92" y="129.13" width="4.97" height="4.63" fill="#00aaff"/><rect x="421.89" y="129.13" width="4.97" height="4.63" fill="#006cff"/><rect x="426.86" y="129.13" width="4.97" height="4.63" fill="#006cff"/><rect x="431.82" y="129.13" width="4.97" height="4.63" fill="#0008ff"/><rect x="436.79" y="129.13" width="4.97" height="4.63" fill="#0008ff"/><rect x="441.75" y="129.13" width="4.97" height="4.63" fill="#26ee8c"/><rect x="446.72" y="129.13" width="4.97" height="4.63" fill="#00f0f0"/><rect x="451.68" y="129.13" width="4.97" height="4.63" fill="#00f0f0"/><rect x="456.65" y="129.13" width="4.97" height="4.63" fill="#00f0f0"/><rect x="461.61" y="129.13" width="4.97" height="4.63" fill="#00aaff"/><rect x="466.58" y="129.13" width="4.97" height="4.63" fill="#006cff"/><rect x="471.54" y="129.13" width="4.97" height="4.63" fill="#006cff"/><rect x="476.51" y="129.13" width="4.97" height="4.63" fill="#006cff"/><rect x="481.48" y="129.13" width="4.97" height="4.63" fill="#006cff"/><rect x="486.44" y="129.13" width="4.97" height="4.63" fill="#006cff"/><rect x="491.41" y="129.13" width="4.97" height="4.63" fill="#0008ff"/><rect x="496.37" y="129.13" width="4.97" height="4.63" fill="#0008ff"/><rect x="501.34" y="129.13" width="4.97" height="4.63" fill="#0008ff"/><rect x="506.30" y="129.13" width="4.97" height="4.63" fill="#006cff"/><rect x="511.27" y="129.13" width="4.97" height="4.63" fill="#9a0000"/><rect x="377.20" y="133.77" width="4.97" height="4.63" fill="#26ee8c"/><rect x="382.17" y="133.77" width="4.97" height="4.63" fill="#ffe800"/><rect x="387.13" y="133.77" width="4.97" height="4.63" fill="#26ee8c"/><rect x="392.10" y="133.77" width="4.97" height="4.63" fill="#26ee8c"/><rect x="397.06" y="133.77" width="4.97" height="4.63" fill="#26ee8c"/><rect x="402.03" y="133.77" width="4.97" height="4.63" fill="#0008ff"/><rect x="406.99" y="133.77" width="4.97" height="4.63" fill="#0008ff"/><rect x="411.96" y="133.77" width="4.97" height="4.63" fill="#006cff"/><rect x="416.92" y="133.77" width="4.97" height="4.63" fill="#006cff"/><rect x="421.89" y="133.77" width="4.97" height="4.63" fill="#0008ff"/><rect x="426.86" y="133.77" width="4.97" height="4.63" fill="#000090"/><rect x="431.82" y="133.77" width="4.97" height="4.63" fill="#0008ff"/><rect x="436.79" y="133.77" width="4.97" height="4.63" fill="#0008ff"/><rect x="441.75" y="133.77" width="4.97" height="4.63" fill="#00f0f0"/><rect x="446.72" y="133.77" width="4.97" height="4.63" fill="#00f0f0"/><rect x="451.68" y="133.77" width="4.97" height="4.63" fill="#00f0f0"/><rect x="456.65" y="133.77" width="4.97" height="4.63" fill="#00aaff"/><rect x="461.61" y="133.77" width="4.97" height="4.63" fill="#00aaff"/><rect x="466.58" y="133.77" width="4.97" height="4.63" fill="#006cff"/><rect x="471.54" y="133.77" width="4.97" height="4.63" fill="#006cff"/><rect x="476.51" y="133.77" width="4.97" height="4.63" fill="#006cff"/><rect x="481.48" y="133.77" width="4.97" height="4.63" fill="#006cff"/><rect x="486.44" y="133.77" width="4.97" height="4.63" fill="#006cff"/><rect x="491.41" y="133.77" width="4.97" height="4.63" fill="#0008ff"/><rect x="496.37" y="133.77" width="4.97" height="4.63" fill="#000090"/><rect x="501.34" y="133.77" width="4.97" height="4.63" fill="#0008ff"/><rect x="506.30" y="133.77" width="4.97" height="4.63" fill="#0008ff"/><rect x="511.27" y="133.77" width="4.97" height="4.63" fill="#f80000"/><rect x="516.23" y="133.77" width="4.97" height="4.63" fill="#9a0000"/></g>
<g font-family="Liberation Serif, serif" font-weight="bold" font-size="3.1" fill="#222" text-rendering="geometricPrecision" text-anchor="start"><text x="367.60" y="7.14">XP 13</text><text x="367.60" y="11.77">XP 26</text><text x="367.60" y="16.41">XP 14</text><text x="367.60" y="21.04">XP 25</text><text x="367.60" y="25.68">XP 22</text><text x="367.60" y="30.31">XP 8</text><text x="367.60" y="34.95">XP 18</text><text x="367.60" y="39.58">XP 21</text><text x="367.60" y="44.22">XP 5</text><text x="367.60" y="48.85">XP 6</text><text x="367.60" y="53.49">XP 10</text><text x="367.60" y="58.12">XP 11</text><text x="367.60" y="62.75">XP 12</text><text x="367.60" y="67.39">XP 2</text><text x="367.60" y="72.02">XP 4</text><text x="367.60" y="76.66">XP 3</text><text x="367.60" y="81.29">XP 27</text><text x="367.60" y="85.93">XP 23</text><text x="367.60" y="90.56">XP 24</text><text x="367.60" y="95.20">XP 28</text><text x="367.60" y="99.83">XP 19</text><text x="367.60" y="104.46">XP 20</text><text x="367.60" y="109.10">XP 15</text><text x="367.60" y="113.73">XP 16</text><text x="367.60" y="118.37">XP 1</text><text x="367.60" y="123.00">XP 7</text><text x="367.60" y="127.64">XP 29</text><text x="367.60" y="132.27">XP 9</text><text x="367.60" y="136.91">XP 17</text></g>
<g font-family="Liberation Serif, serif" font-weight="bold" font-size="3.1" fill="#222" text-rendering="geometricPrecision" text-anchor="start"><text transform="translate(381.17,148.50) rotate(-90)">XP 13</text><text transform="translate(386.13,148.50) rotate(-90)">XP 26</text><text transform="translate(391.10,148.50) rotate(-90)">XP 14</text><text transform="translate(396.06,148.50) rotate(-90)">XP 25</text><text transform="translate(401.03,148.50) rotate(-90)">XP 22</text><text transform="translate(406.00,148.50) rotate(-90)">XP 8</text><text transform="translate(410.96,148.50) rotate(-90)">XP 18</text><text transform="translate(415.93,148.50) rotate(-90)">XP 21</text><text transform="translate(420.89,148.50) rotate(-90)">XP 5</text><text transform="translate(425.86,148.50) rotate(-90)">XP 6</text><text transform="translate(430.82,148.50) rotate(-90)">XP 10</text><text transform="translate(435.79,148.50) rotate(-90)">XP 11</text><text transform="translate(440.75,148.50) rotate(-90)">XP 12</text><text transform="translate(445.72,148.50) rotate(-90)">XP 2</text><text transform="translate(450.69,148.50) rotate(-90)">XP 4</text><text transform="translate(455.65,148.50) rotate(-90)">XP 3</text><text transform="translate(460.62,148.50) rotate(-90)">XP 27</text><text transform="translate(465.58,148.50) rotate(-90)">XP 23</text><text transform="translate(470.55,148.50) rotate(-90)">XP 24</text><text transform="translate(475.51,148.50) rotate(-90)">XP 28</text><text transform="translate(480.48,148.50) rotate(-90)">XP 19</text><text transform="translate(485.44,148.50) rotate(-90)">XP 20</text><text transform="translate(490.41,148.50) rotate(-90)">XP 15</text><text transform="translate(495.37,148.50) rotate(-90)">XP 16</text><text transform="translate(500.34,148.50) rotate(-90)">XP 1</text><text transform="translate(505.31,148.50) rotate(-90)">XP 7</text><text transform="translate(510.27,148.50) rotate(-90)">XP 29</text><text transform="translate(515.24,148.50) rotate(-90)">XP 9</text><text transform="translate(520.20,148.50) rotate(-90)">XP 17</text></g>
<text x="523.8" y="7.3" font-family="Liberation Serif, serif" font-weight="bold" font-size="6.1" fill="#111" stroke="#111" stroke-width="0.2">XP</text>
<defs><linearGradient id="jetXP" x1="0" y1="1" x2="0" y2="0"><stop offset="0" stop-color="#00008f"/><stop offset="0.14" stop-color="#0000ff"/><stop offset="0.26" stop-color="#0080ff"/><stop offset="0.37" stop-color="#00ffff"/><stop offset="0.48" stop-color="#80ff80"/><stop offset="0.6" stop-color="#ffff00"/><stop offset="0.73" stop-color="#ff8000"/><stop offset="0.86" stop-color="#ff0000"/><stop offset="1" stop-color="#800000"/></linearGradient></defs>
<rect x="525.2" y="46.9" width="5.90" height="37.00" fill="url(#jetXP)"/>
<g stroke="#444" stroke-width="0.35" font-family="Liberation Serif, serif" font-size="2.0" fill="#333" text-rendering="geometricPrecision"><line x1="530.50" y1="48.10" x2="531.60" y2="48.10"/><text x="533.40" y="48.80" stroke="none" textLength="3.8" lengthAdjust="spacingAndGlyphs">100.0</text><line x1="530.50" y1="51.54" x2="531.60" y2="51.54"/><text x="533.40" y="52.24" stroke="none" textLength="3.8" lengthAdjust="spacingAndGlyphs">100.0</text><line x1="530.50" y1="54.98" x2="531.60" y2="54.98"/><text x="533.40" y="55.68" stroke="none" textLength="3.8" lengthAdjust="spacingAndGlyphs">100.0</text><line x1="530.50" y1="58.42" x2="531.60" y2="58.42"/><text x="533.40" y="59.12" stroke="none" textLength="3.8" lengthAdjust="spacingAndGlyphs">99.5</text><line x1="530.50" y1="61.86" x2="531.60" y2="61.86"/><text x="533.40" y="62.56" stroke="none" textLength="3.8" lengthAdjust="spacingAndGlyphs">99.0</text><line x1="530.50" y1="65.30" x2="531.60" y2="65.30"/><text x="533.40" y="66.00" stroke="none" textLength="3.8" lengthAdjust="spacingAndGlyphs">98.5</text><line x1="530.50" y1="68.74" x2="531.60" y2="68.74"/><text x="533.40" y="69.44" stroke="none" textLength="3.8" lengthAdjust="spacingAndGlyphs">98.0</text><line x1="530.50" y1="72.18" x2="531.60" y2="72.18"/><text x="533.40" y="72.88" stroke="none" textLength="3.8" lengthAdjust="spacingAndGlyphs">97.5</text><line x1="530.50" y1="75.62" x2="531.60" y2="75.62"/><text x="533.40" y="76.32" stroke="none" textLength="3.8" lengthAdjust="spacingAndGlyphs">97.0</text><line x1="530.50" y1="79.06" x2="531.60" y2="79.06"/><text x="533.40" y="79.76" stroke="none" textLength="3.8" lengthAdjust="spacingAndGlyphs">96.5</text><line x1="530.50" y1="82.50" x2="531.60" y2="82.50"/><text x="533.40" y="83.20" stroke="none" textLength="3.8" lengthAdjust="spacingAndGlyphs">96.0</text></g>
<text x="493.1" y="41.5" font-family="Liberation Serif, serif" font-weight="bold" font-size="6.6" fill="#111" stroke="#111" stroke-width="0.05" textLength="53.8" lengthAdjust="spacingAndGlyphs">Pairwise identity (%)</text>
<line x1="396.4" y1="3.4" x2="431.0" y2="34.2" stroke="#fab418" stroke-width="1.2"/>
<line x1="434.4" y1="36.9" x2="469.1" y2="68.0" stroke="#f6782a" stroke-width="1.2"/>
<line x1="473.0" y1="72.7" x2="509.6" y2="105.9" stroke="#fab418" stroke-width="1.2"/>
<line x1="513.0" y1="110.6" x2="531.0" y2="129.4" stroke="#2e86e6" stroke-width="1.2"/>
<text transform="translate(417.48,14.62) rotate(45)" font-family="Liberation Sans, sans-serif" font-weight="bold" font-size="5.6" fill="#111" stroke="#111" stroke-width="0.3" text-anchor="middle" letter-spacing="0.6">III</text>
<text transform="translate(457.38,47.42) rotate(45)" font-family="Liberation Sans, sans-serif" font-weight="bold" font-size="5.6" fill="#111" stroke="#111" stroke-width="0.3" text-anchor="middle" letter-spacing="0.6">I</text>
<text transform="translate(495.08,85.12) rotate(45)" font-family="Liberation Sans, sans-serif" font-weight="bold" font-size="5.6" fill="#111" stroke="#111" stroke-width="0.3" text-anchor="middle" letter-spacing="0.6">III</text>
<text transform="translate(525.88,116.42) rotate(45)" font-family="Liberation Sans, sans-serif" font-weight="bold" font-size="5.6" fill="#111" stroke="#111" stroke-width="0.3" text-anchor="middle" letter-spacing="0.6">II</text>
<g stroke="#000" stroke-width="0.6" stroke-opacity="0.4"><rect x="12.50" y="151.50" width="5.04" height="4.75" fill="#9a0000"/><rect x="12.50" y="156.25" width="5.04" height="4.75" fill="#26ee8c"/><rect x="17.54" y="156.25" width="5.04" height="4.75" fill="#9a0000"/><rect x="12.50" y="161.00" width="5.04" height="4.75" fill="#ffe800"/><rect x="17.54" y="161.00" width="5.04" height="4.75" fill="#ffbf00"/><rect x="22.59" y="161.00" width="5.04" height="4.75" fill="#9a0000"/><rect x="12.50" y="165.74" width="5.04" height="4.75" fill="#ffe800"/><rect x="17.54" y="165.74" width="5.04" height="4.75" fill="#ffbf00"/><rect x="22.59" y="165.74" width="5.04" height="4.75" fill="#9a0000"/><rect x="27.63" y="165.74" width="5.04" height="4.75" fill="#9a0000"/><rect x="12.50" y="170.49" width="5.04" height="4.75" fill="#ffbf00"/><rect x="17.54" y="170.49" width="5.04" height="4.75" fill="#ffe800"/><rect x="22.59" y="170.49" width="5.04" height="4.75" fill="#ff5000"/><rect x="27.63" y="170.49" width="5.04" height="4.75" fill="#c80000"/><rect x="32.68" y="170.49" width="5.04" height="4.75" fill="#9a0000"/><rect x="12.50" y="175.24" width="5.04" height="4.75" fill="#ffbf00"/><rect x="17.54" y="175.24" width="5.04" height="4.75" fill="#ffe800"/><rect x="22.59" y="175.24" width="5.04" height="4.75" fill="#ff5000"/><rect x="27.63" y="175.24" width="5.04" height="4.75" fill="#ff5000"/><rect x="32.68" y="175.24" width="5.04" height="4.75" fill="#9a0000"/><rect x="37.72" y="175.24" width="5.04" height="4.75" fill="#9a0000"/><rect x="12.50" y="179.99" width="5.04" height="4.75" fill="#ffe800"/><rect x="17.54" y="179.99" width="5.04" height="4.75" fill="#ffe800"/><rect x="22.59" y="179.99" width="5.04" height="4.75" fill="#f80000"/><rect x="27.63" y="179.99" width="5.04" height="4.75" fill="#f80000"/><rect x="32.68" y="179.99" width="5.04" height="4.75" fill="#f80000"/><rect x="37.72" y="179.99" width="5.04" height="4.75" fill="#c80000"/><rect x="42.77" y="179.99" width="5.04" height="4.75" fill="#9a0000"/><rect x="12.50" y="184.74" width="5.04" height="4.75" fill="#b0f030"/><rect x="17.54" y="184.74" width="5.04" height="4.75" fill="#ffe800"/><rect x="22.59" y="184.74" width="5.04" height="4.75" fill="#ff5000"/><rect x="27.63" y="184.74" width="5.04" height="4.75" fill="#ff5000"/><rect x="32.68" y="184.74" width="5.04" height="4.75" fill="#f80000"/><rect x="37.72" y="184.74" width="5.04" height="4.75" fill="#f80000"/><rect x="42.77" y="184.74" width="5.04" height="4.75" fill="#f80000"/><rect x="47.81" y="184.74" width="5.04" height="4.75" fill="#9a0000"/><rect x="12.50" y="189.49" width="5.04" height="4.75" fill="#26ee8c"/><rect x="17.54" y="189.49" width="5.04" height="4.75" fill="#ffbf00"/><rect x="22.59" y="189.49" width="5.04" height="4.75" fill="#ff5000"/><rect x="27.63" y="189.49" width="5.04" height="4.75" fill="#ff5000"/><rect x="32.68" y="189.49" width="5.04" height="4.75" fill="#f80000"/><rect x="37.72" y="189.49" width="5.04" height="4.75" fill="#f80000"/><rect x="42.77" y="189.49" width="5.04" height="4.75" fill="#f80000"/><rect x="47.81" y="189.49" width="5.04" height="4.75" fill="#f80000"/><rect x="52.86" y="189.49" width="5.04" height="4.75" fill="#9a0000"/><rect x="12.50" y="194.23" width="5.04" height="4.75" fill="#26ee8c"/><rect x="17.54" y="194.23" width="5.04" height="4.75" fill="#ffe800"/><rect x="22.59" y="194.23" width="5.04" height="4.75" fill="#ff5000"/><rect x="27.63" y="194.23" width="5.04" height="4.75" fill="#ff5000"/><rect x="32.68" y="194.23" width="5.04" height="4.75" fill="#f80000"/><rect x="37.72" y="194.23" width="5.04" height="4.75" fill="#f80000"/><rect x="42.77" y="194.23" width="5.04" height="4.75" fill="#f80000"/><rect x="47.81" y="194.23" width="5.04" height="4.75" fill="#f80000"/><rect x="52.86" y="194.23" width="5.04" height="4.75" fill="#c80000"/><rect x="57.90" y="194.23" width="5.04" height="4.75" fill="#9a0000"/><rect x="12.50" y="198.98" width="5.04" height="4.75" fill="#26ee8c"/><rect x="17.54" y="198.98" width="5.04" height="4.75" fill="#ffe800"/><rect x="22.59" y="198.98" width="5.04" height="4.75" fill="#ff5000"/><rect x="27.63" y="198.98" width="5.04" height="4.75" fill="#ff5000"/><rect x="32.68" y="198.98" width="5.04" height="4.75" fill="#f80000"/><rect x="37.72" y="198.98" width="5.04" height="4.75" fill="#f80000"/><rect x="42.77" y="198.98" width="5.04" height="4.75" fill="#f80000"/><rect x="47.81" y="198.98" width="5.04" height="4.75" fill="#f80000"/><rect x="52.86" y="198.98" width="5.04" height="4.75" fill="#c80000"/><rect x="57.90" y="198.98" width="5.04" height="4.75" fill="#c80000"/><rect x="62.95" y="198.98" width="5.04" height="4.75" fill="#9a0000"/><rect x="12.50" y="203.73" width="5.04" height="4.75" fill="#26ee8c"/><rect x="17.54" y="203.73" width="5.04" height="4.75" fill="#ff5000"/><rect x="22.59" y="203.73" width="5.04" height="4.75" fill="#ff5000"/><rect x="27.63" y="203.73" width="5.04" height="4.75" fill="#ff5000"/><rect x="32.68" y="203.73" width="5.04" height="4.75" fill="#ff5000"/><rect x="37.72" y="203.73" width="5.04" height="4.75" fill="#ff5000"/><rect x="42.77" y="203.73" width="5.04" height="4.75" fill="#ff5000"/><rect x="47.81" y="203.73" width="5.04" height="4.75" fill="#f80000"/><rect x="52.86" y="203.73" width="5.04" height="4.75" fill="#f80000"/><rect x="57.90" y="203.73" width="5.04" height="4.75" fill="#f80000"/><rect x="62.95" y="203.73" width="5.04" height="4.75" fill="#f80000"/><rect x="67.99" y="203.73" width="5.04" height="4.75" fill="#9a0000"/><rect x="12.50" y="208.48" width="5.04" height="4.75" fill="#b0f030"/><rect x="17.54" y="208.48" width="5.04" height="4.75" fill="#ffbf00"/><rect x="22.59" y="208.48" width="5.04" height="4.75" fill="#f80000"/><rect x="27.63" y="208.48" width="5.04" height="4.75" fill="#f80000"/><rect x="32.68" y="208.48" width="5.04" height="4.75" fill="#f80000"/><rect x="37.72" y="208.48" width="5.04" height="4.75" fill="#f80000"/><rect x="42.77" y="208.48" width="5.04" height="4.75" fill="#f80000"/><rect x="47.81" y="208.48" width="5.04" height="4.75" fill="#f80000"/><rect x="52.86" y="208.48" width="5.04" height="4.75" fill="#f80000"/><rect x="57.90" y="208.48" width="5.04" height="4.75" fill="#f80000"/><rect x="62.95" y="208.48" width="5.04" height="4.75" fill="#f80000"/><rect x="67.99" y="208.48" width="5.04" height="4.75" fill="#f80000"/><rect x="73.04" y="208.48" width="5.04" height="4.75" fill="#9a0000"/><rect x="12.50" y="213.23" width="5.04" height="4.75" fill="#b0f030"/><rect x="17.54" y="213.23" width="5.04" height="4.75" fill="#ffbf00"/><rect x="22.59" y="213.23" width="5.04" height="4.75" fill="#f80000"/><rect x="27.63" y="213.23" width="5.04" height="4.75" fill="#f80000"/><rect x="32.68" y="213.23" width="5.04" height="4.75" fill="#f80000"/><rect x="37.72" y="213.23" width="5.04" height="4.75" fill="#f80000"/><rect x="42.77" y="213.23" width="5.04" height="4.75" fill="#f80000"/><rect x="47.81" y="213.23" width="5.04" height="4.75" fill="#f80000"/><rect x="52.86" y="213.23" width="5.04" height="4.75" fill="#f80000"/><rect x="57.90" y="213.23" width="5.04" height="4.75" fill="#f80000"/><rect x="62.95" y="213.23" width="5.04" height="4.75" fill="#f80000"/><rect x="67.99" y="213.23" width="5.04" height="4.75" fill="#f80000"/><rect x="73.04" y="213.23" width="5.04" height="4.75" fill="#c80000"/><rect x="78.08" y="213.23" width="5.04" height="4.75" fill="#9a0000"/><rect x="12.50" y="217.98" width="5.04" height="4.75" fill="#b0f030"/><rect x="17.54" y="217.98" width="5.04" height="4.75" fill="#ffbf00"/><rect x="22.59" y="217.98" width="5.04" height="4.75" fill="#f80000"/><rect x="27.63" y="217.98" width="5.04" height="4.75" fill="#f80000"/><rect x="32.68" y="217.98" width="5.04" height="4.75" fill="#f80000"/><rect x="37.72" y="217.98" width="5.04" height="4.75" fill="#f80000"/><rect x="42.77" y="217.98" width="5.04" height="4.75" fill="#f80000"/><rect x="47.81" y="217.98" width="5.04" height="4.75" fill="#f80000"/><rect x="52.86" y="217.98" width="5.04" height="4.75" fill="#f80000"/><rect x="57.90" y="217.98" width="5.04" height="4.75" fill="#f80000"/><rect x="62.95" y="217.98" width="5.04" height="4.75" fill="#f80000"/><rect x="67.99" y="217.98" width="5.04" height="4.75" fill="#f80000"/><rect x="73.04" y="217.98" width="5.04" height="4.75" fill="#c80000"/><rect x="78.08" y="217.98" width="5.04" height="4.75" fill="#c80000"/><rect x="83.13" y="217.98" width="5.04" height="4.75" fill="#9a0000"/><rect x="12.50" y="222.72" width="5.04" height="4.75" fill="#00aaff"/><rect x="17.54" y="222.72" width="5.04" height="4.75" fill="#0008ff"/><rect x="22.59" y="222.72" width="5.04" height="4.75" fill="#006cff"/><rect x="27.63" y="222.72" width="5.04" height="4.75" fill="#006cff"/><rect x="32.68" y="222.72" width="5.04" height="4.75" fill="#00aaff"/><rect x="37.72" y="222.72" width="5.04" height="4.75" fill="#00aaff"/><rect x="42.77" y="222.72" width="5.04" height="4.75" fill="#006cff"/><rect x="47.81" y="222.72" width="5.04" height="4.75" fill="#0008ff"/><rect x="52.86" y="222.72" width="5.04" height="4.75" fill="#0008ff"/><rect x="57.90" y="222.72" width="5.04" height="4.75" fill="#0008ff"/><rect x="62.95" y="222.72" width="5.04" height="4.75" fill="#0008ff"/><rect x="67.99" y="222.72" width="5.04" height="4.75" fill="#0008ff"/><rect x="73.04" y="222.72" width="5.04" height="4.75" fill="#006cff"/><rect x="78.08" y="222.72" width="5.04" height="4.75" fill="#006cff"/><rect x="83.13" y="222.72" width="5.04" height="4.75" fill="#006cff"/><rect x="88.17" y="222.72" width="5.04" height="4.75" fill="#9a0000"/><rect x="12.50" y="227.47" width="5.04" height="4.75" fill="#00aaff"/><rect x="17.54" y="227.47" width="5.04" height="4.75" fill="#0008ff"/><rect x="22.59" y="227.47" width="5.04" height="4.75" fill="#006cff"/><rect x="27.63" y="227.47" width="5.04" height="4.75" fill="#006cff"/><rect x="32.68" y="227.47" width="5.04" height="4.75" fill="#00aaff"/><rect x="37.72" y="227.47" width="5.04" height="4.75" fill="#00aaff"/><rect x="42.77" y="227.47" width="5.04" height="4.75" fill="#006cff"/><rect x="47.81" y="227.47" width="5.04" height="4.75" fill="#0008ff"/><rect x="52.86" y="227.47" width="5.04" height="4.75" fill="#0008ff"/><rect x="57.90" y="227.47" width="5.04" height="4.75" fill="#0008ff"/><rect x="62.95" y="227.47" width="5.04" height="4.75" fill="#0008ff"/><rect x="67.99" y="227.47" width="5.04" height="4.75" fill="#0008ff"/><rect x="73.04" y="227.47" width="5.04" height="4.75" fill="#006cff"/><rect x="78.08" y="227.47" width="5.04" height="4.75" fill="#006cff"/><rect x="83.13" y="227.47" width="5.04" height="4.75" fill="#006cff"/><rect x="88.17" y="227.47" width="5.04" height="4.75" fill="#c80000"/><rect x="93.22" y="227.47" width="5.04" height="4.75" fill="#9a0000"/><rect x="12.50" y="232.22" width="5.04" height="4.75" fill="#00f0f0"/><rect x="17.54" y="232.22" width="5.04" height="4.75" fill="#0008ff"/><rect x="22.59" y="232.22" width="5.04" height="4.75" fill="#006cff"/><rect x="27.63" y="232.22" width="5.04" height="4.75" fill="#006cff"/><rect x="32.68" y="232.22" width="5.04" height="4.75" fill="#00aaff"/><rect x="37.72" y="232.22" width="5.04" height="4.75" fill="#00aaff"/><rect x="42.77" y="232.22" width="5.04" height="4.75" fill="#006cff"/><rect x="47.81" y="232.22" width="5.04" height="4.75" fill="#0008ff"/><rect x="52.86" y="232.22" width="5.04" height="4.75" fill="#0008ff"/><rect x="57.90" y="232.22" width="5.04" height="4.75" fill="#0008ff"/><rect x="62.95" y="232.22" width="5.04" height="4.75" fill="#0008ff"/><rect x="67.99" y="232.22" width="5.04" height="4.75" fill="#0008ff"/><rect x="73.04" y="232.22" width="5.04" height="4.75" fill="#006cff"/><rect x="78.08" y="232.22" width="5.04" height="4.75" fill="#006cff"/><rect x="83.13" y="232.22" width="5.04" height="4.75" fill="#006cff"/><rect x="88.17" y="232.22" width="5.04" height="4.75" fill="#9a0000"/><rect x="93.22" y="232.22" width="5.04" height="4.75" fill="#9a0000"/><rect x="98.26" y="232.22" width="5.04" height="4.75" fill="#9a0000"/><rect x="12.50" y="236.97" width="5.04" height="4.75" fill="#0008ff"/><rect x="17.54" y="236.97" width="5.04" height="4.75" fill="#0008ff"/><rect x="22.59" y="236.97" width="5.04" height="4.75" fill="#006cff"/><rect x="27.63" y="236.97" width="5.04" height="4.75" fill="#006cff"/><rect x="32.68" y="236.97" width="5.04" height="4.75" fill="#0044f4"/><rect x="37.72" y="236.97" width="5.04" height="4.75" fill="#0044f4"/><rect x="42.77" y="236.97" width="5.04" height="4.75" fill="#0008ff"/><rect x="47.81" y="236.97" width="5.04" height="4.75" fill="#0008ff"/><rect x="52.86" y="236.97" width="5.04" height="4.75" fill="#000090"/><rect x="57.90" y="236.97" width="5.04" height="4.75" fill="#000090"/><rect x="62.95" y="236.97" width="5.04" height="4.75" fill="#000090"/><rect x="67.99" y="236.97" width="5.04" height="4.75" fill="#000090"/><rect x="73.04" y="236.97" width="5.04" height="4.75" fill="#0008ff"/><rect x="78.08" y="236.97" width="5.04" height="4.75" fill="#0008ff"/><rect x="83.13" y="236.97" width="5.04" height="4.75" fill="#0008ff"/><rect x="88.17" y="236.97" width="5.04" height="4.75" fill="#f80000"/><rect x="93.22" y="236.97" width="5.04" height="4.75" fill="#f80000"/><rect x="98.26" y="236.97" width="5.04" height="4.75" fill="#f80000"/><rect x="103.31" y="236.97" width="5.04" height="4.75" fill="#9a0000"/><rect x="12.50" y="241.72" width="5.04" height="4.75" fill="#0008ff"/><rect x="17.54" y="241.72" width="5.04" height="4.75" fill="#0008ff"/><rect x="22.59" y="241.72" width="5.04" height="4.75" fill="#006cff"/><rect x="27.63" y="241.72" width="5.04" height="4.75" fill="#006cff"/><rect x="32.68" y="241.72" width="5.04" height="4.75" fill="#0044f4"/><rect x="37.72" y="241.72" width="5.04" height="4.75" fill="#0044f4"/><rect x="42.77" y="241.72" width="5.04" height="4.75" fill="#0008ff"/><rect x="47.81" y="241.72" width="5.04" height="4.75" fill="#0008ff"/><rect x="52.86" y="241.72" width="5.04" height="4.75" fill="#000090"/><rect x="57.90" y="241.72" width="5.04" height="4.75" fill="#000090"/><rect x="62.95" y="241.72" width="5.04" height="4.75" fill="#000090"/><rect x="67.99" y="241.72" width="5.04" height="4.75" fill="#000090"/><rect x="73.04" y="241.72" width="5.04" height="4.75" fill="#0008ff"/><rect x="78.08" y="241.72" width="5.04" height="4.75" fill="#0008ff"/><rect x="83.13" y="241.72" width="5.04" height="4.75" fill="#0008ff"/><rect x="88.17" y="241.72" width="5.04" height="4.75" fill="#f80000"/><rect x="93.22" y="241.72" width="5.04" height="4.75" fill="#f80000"/><rect x="98.26" y="241.72" width="5.04" height="4.75" fill="#f80000"/><rect x="103.31" y="241.72" width="5.04" height="4.75" fill="#9a0000"/><rect x="108.35" y="241.72" width="5.04" height="4.75" fill="#9a0000"/><rect x="12.50" y="246.47" width="5.04" height="4.75" fill="#0008ff"/><rect x="17.54" y="246.47" width="5.04" height="4.75" fill="#0008ff"/><rect x="22.59" y="246.47" width="5.04" height="4.75" fill="#006cff"/><rect x="27.63" y="246.47" width="5.04" height="4.75" fill="#006cff"/><rect x="32.68" y="246.47" width="5.04" height="4.75" fill="#0044f4"/><rect x="37.72" y="246.47" width="5.04" height="4.75" fill="#0044f4"/><rect x="42.77" y="246.47" width="5.04" height="4.75" fill="#0008ff"/><rect x="47.81" y="246.47" width="5.04" height="4.75" fill="#0008ff"/><rect x="52.86" y="246.47" width="5.04" height="4.75" fill="#000090"/><rect x="57.90" y="246.47" width="5.04" height="4.75" fill="#000090"/><rect x="62.95" y="246.47" width="5.04" height="4.75" fill="#000090"/><rect x="67.99" y="246.47" width="5.04" height="4.75" fill="#000090"/><rect x="73.04" y="246.47" width="5.04" height="4.75" fill="#0008ff"/><rect x="78.08" y="246.47" width="5.04" height="4.75" fill="#0008ff"/><rect x="83.13" y="246.47" width="5.04" height="4.75" fill="#0008ff"/><rect x="88.17" y="246.47" width="5.04" height="4.75" fill="#f80000"/><rect x="93.22" y="246.47" width="5.04" height="4.75" fill="#f80000"/><rect x="98.26" y="246.47" width="5.04" height="4.75" fill="#f80000"/><rect x="103.31" y="246.47" width="5.04" height="4.75" fill="#9a0000"/><rect x="108.35" y="246.47" width="5.04" height="4.75" fill="#9a0000"/><rect x="113.40" y="246.47" width="5.04" height="4.75" fill="#9a0000"/><rect x="12.50" y="251.21" width="5.04" height="4.75" fill="#0008ff"/><rect x="17.54" y="251.21" width="5.04" height="4.75" fill="#0008ff"/><rect x="22.59" y="251.21" width="5.04" height="4.75" fill="#006cff"/><rect x="27.63" y="251.21" width="5.04" height="4.75" fill="#006cff"/><rect x="32.68" y="251.21" width="5.04" height="4.75" fill="#006cff"/><rect x="37.72" y="251.21" width="5.04" height="4.75" fill="#006cff"/><rect x="42.77" y="251.21" width="5.04" height="4.75" fill="#0044f4"/><rect x="47.81" y="251.21" width="5.04" height="4.75" fill="#0008ff"/><rect x="52.86" y="251.21" width="5.04" height="4.75" fill="#000090"/><rect x="57.90" y="251.21" width="5.04" height="4.75" fill="#000090"/><rect x="62.95" y="251.21" width="5.04" height="4.75" fill="#000090"/><rect x="67.99" y="251.21" width="5.04" height="4.75" fill="#000090"/><rect x="73.04" y="251.21" width="5.04" height="4.75" fill="#0008ff"/><rect x="78.08" y="251.21" width="5.04" height="4.75" fill="#0008ff"/><rect x="83.13" y="251.21" width="5.04" height="4.75" fill="#0008ff"/><rect x="88.17" y="251.21" width="5.04" height="4.75" fill="#f80000"/><rect x="93.22" y="251.21" width="5.04" height="4.75" fill="#f80000"/><rect x="98.26" y="251.21" width="5.04" height="4.75" fill="#f80000"/><rect x="103.31" y="251.21" width="5.04" height="4.75" fill="#9a0000"/><rect x="108.35" y="251.21" width="5.04" height="4.75" fill="#9a0000"/><rect x="113.40" y="251.21" width="5.04" height="4.75" fill="#9a0000"/><rect x="118.44" y="251.21" width="5.04" height="4.75" fill="#9a0000"/><rect x="12.50" y="255.96" width="5.04" height="4.75" fill="#0044f4"/><rect x="17.54" y="255.96" width="5.04" height="4.75" fill="#0008ff"/><rect x="22.59" y="255.96" width="5.04" height="4.75" fill="#00aaff"/><rect x="27.63" y="255.96" width="5.04" height="4.75" fill="#00aaff"/><rect x="32.68" y="255.96" width="5.04" height="4.75" fill="#0044f4"/><rect x="37.72" y="255.96" width="5.04" height="4.75" fill="#0044f4"/><rect x="42.77" y="255.96" width="5.04" height="4.75" fill="#0044f4"/><rect x="47.81" y="255.96" width="5.04" height="4.75" fill="#0008ff"/><rect x="52.86" y="255.96" width="5.04" height="4.75" fill="#0008ff"/><rect x="57.90" y="255.96" width="5.04" height="4.75" fill="#0008ff"/><rect x="62.95" y="255.96" width="5.04" height="4.75" fill="#0008ff"/><rect x="67.99" y="255.96" width="5.04" height="4.75" fill="#0008ff"/><rect x="73.04" y="255.96" width="5.04" height="4.75" fill="#0008ff"/><rect x="78.08" y="255.96" width="5.04" height="4.75" fill="#0008ff"/><rect x="83.13" y="255.96" width="5.04" height="4.75" fill="#0008ff"/><rect x="88.17" y="255.96" width="5.04" height="4.75" fill="#f80000"/><rect x="93.22" y="255.96" width="5.04" height="4.75" fill="#f80000"/><rect x="98.26" y="255.96" width="5.04" height="4.75" fill="#f80000"/><rect x="103.31" y="255.96" width="5.04" height="4.75" fill="#f80000"/><rect x="108.35" y="255.96" width="5.04" height="4.75" fill="#f80000"/><rect x="113.40" y="255.96" width="5.04" height="4.75" fill="#f80000"/><rect x="118.44" y="255.96" width="5.04" height="4.75" fill="#f80000"/><rect x="123.49" y="255.96" width="5.04" height="4.75" fill="#9a0000"/><rect x="12.50" y="260.71" width="5.04" height="4.75" fill="#0044f4"/><rect x="17.54" y="260.71" width="5.04" height="4.75" fill="#0008ff"/><rect x="22.59" y="260.71" width="5.04" height="4.75" fill="#00aaff"/><rect x="27.63" y="260.71" width="5.04" height="4.75" fill="#00aaff"/><rect x="32.68" y="260.71" width="5.04" height="4.75" fill="#0044f4"/><rect x="37.72" y="260.71" width="5.04" height="4.75" fill="#0044f4"/><rect x="42.77" y="260.71" width="5.04" height="4.75" fill="#0044f4"/><rect x="47.81" y="260.71" width="5.04" height="4.75" fill="#0008ff"/><rect x="52.86" y="260.71" width="5.04" height="4.75" fill="#0008ff"/><rect x="57.90" y="260.71" width="5.04" height="4.75" fill="#0008ff"/><rect x="62.95" y="260.71" width="5.04" height="4.75" fill="#0008ff"/><rect x="67.99" y="260.71" width="5.04" height="4.75" fill="#0008ff"/><rect x="73.04" y="260.71" width="5.04" height="4.75" fill="#0008ff"/><rect x="78.08" y="260.71" width="5.04" height="4.75" fill="#0008ff"/><rect x="83.13" y="260.71" width="5.04" height="4.75" fill="#0008ff"/><rect x="88.17" y="260.71" width="5.04" height="4.75" fill="#f80000"/><rect x="93.22" y="260.71" width="5.04" height="4.75" fill="#f80000"/><rect x="98.26" y="260.71" width="5.04" height="4.75" fill="#f80000"/><rect x="103.31" y="260.71" width="5.04" height="4.75" fill="#f80000"/><rect x="108.35" y="260.71" width="5.04" height="4.75" fill="#f80000"/><rect x="113.40" y="260.71" width="5.04" height="4.75" fill="#f80000"/><rect x="118.44" y="260.71" width="5.04" height="4.75" fill="#f80000"/><rect x="123.49" y="260.71" width="5.04" height="4.75" fill="#9a0000"/><rect x="128.53" y="260.71" width="5.04" height="4.75" fill="#9a0000"/><rect x="12.50" y="265.46" width="5.04" height="4.75" fill="#0044f4"/><rect x="17.54" y="265.46" width="5.04" height="4.75" fill="#0008ff"/><rect x="22.59" y="265.46" width="5.04" height="4.75" fill="#00aaff"/><rect x="27.63" y="265.46" width="5.04" height="4.75" fill="#00aaff"/><rect x="32.68" y="265.46" width="5.04" height="4.75" fill="#0044f4"/><rect x="37.72" y="265.46" width="5.04" height="4.75" fill="#0044f4"/><rect x="42.77" y="265.46" width="5.04" height="4.75" fill="#0044f4"/><rect x="47.81" y="265.46" width="5.04" height="4.75" fill="#0008ff"/><rect x="52.86" y="265.46" width="5.04" height="4.75" fill="#0008ff"/><rect x="57.90" y="265.46" width="5.04" height="4.75" fill="#0008ff"/><rect x="62.95" y="265.46" width="5.04" height="4.75" fill="#0008ff"/><rect x="67.99" y="265.46" width="5.04" height="4.75" fill="#0008ff"/><rect x="73.04" y="265.46" width="5.04" height="4.75" fill="#0008ff"/><rect x="78.08" y="265.46" width="5.04" height="4.75" fill="#0008ff"/><rect x="83.13" y="265.46" width="5.04" height="4.75" fill="#0008ff"/><rect x="88.17" y="265.46" width="5.04" height="4.75" fill="#f80000"/><rect x="93.22" y="265.46" width="5.04" height="4.75" fill="#f80000"/><rect x="98.26" y="265.46" width="5.04" height="4.75" fill="#f80000"/><rect x="103.31" y="265.46" width="5.04" height="4.75" fill="#f80000"/><rect x="108.35" y="265.46" width="5.04" height="4.75" fill="#f80000"/><rect x="113.40" y="265.46" width="5.04" height="4.75" fill="#f80000"/><rect x="118.44" y="265.46" width="5.04" height="4.75" fill="#f80000"/><rect x="123.49" y="265.46" width="5.04" height="4.75" fill="#9a0000"/><rect x="128.53" y="265.46" width="5.04" height="4.75" fill="#9a0000"/><rect x="133.58" y="265.46" width="5.04" height="4.75" fill="#9a0000"/><rect x="12.50" y="270.21" width="5.04" height="4.75" fill="#006cff"/><rect x="17.54" y="270.21" width="5.04" height="4.75" fill="#0008ff"/><rect x="22.59" y="270.21" width="5.04" height="4.75" fill="#00aaff"/><rect x="27.63" y="270.21" width="5.04" height="4.75" fill="#00aaff"/><rect x="32.68" y="270.21" width="5.04" height="4.75" fill="#0044f4"/><rect x="37.72" y="270.21" width="5.04" height="4.75" fill="#0044f4"/><rect x="42.77" y="270.21" width="5.04" height="4.75" fill="#0044f4"/><rect x="47.81" y="270.21" width="5.04" height="4.75" fill="#0008ff"/><rect x="52.86" y="270.21" width="5.04" height="4.75" fill="#0008ff"/><rect x="57.90" y="270.21" width="5.04" height="4.75" fill="#0008ff"/><rect x="62.95" y="270.21" width="5.04" height="4.75" fill="#0008ff"/><rect x="67.99" y="270.21" width="5.04" height="4.75" fill="#0008ff"/><rect x="73.04" y="270.21" width="5.04" height="4.75" fill="#0008ff"/><rect x="78.08" y="270.21" width="5.04" height="4.75" fill="#0008ff"/><rect x="83.13" y="270.21" width="5.04" height="4.75" fill="#0008ff"/><rect x="88.17" y="270.21" width="5.04" height="4.75" fill="#f80000"/><rect x="93.22" y="270.21" width="5.04" height="4.75" fill="#f80000"/><rect x="98.26" y="270.21" width="5.04" height="4.75" fill="#f80000"/><rect x="103.31" y="270.21" width="5.04" height="4.75" fill="#f80000"/><rect x="108.35" y="270.21" width="5.04" height="4.75" fill="#f80000"/><rect x="113.40" y="270.21" width="5.04" height="4.75" fill="#f80000"/><rect x="118.44" y="270.21" width="5.04" height="4.75" fill="#f80000"/><rect x="123.49" y="270.21" width="5.04" height="4.75" fill="#9a0000"/><rect x="128.53" y="270.21" width="5.04" height="4.75" fill="#9a0000"/><rect x="133.58" y="270.21" width="5.04" height="4.75" fill="#9a0000"/><rect x="138.62" y="270.21" width="5.04" height="4.75" fill="#9a0000"/><rect x="12.50" y="274.96" width="5.04" height="4.75" fill="#0008ff"/><rect x="17.54" y="274.96" width="5.04" height="4.75" fill="#006cff"/><rect x="22.59" y="274.96" width="5.04" height="4.75" fill="#00f0f0"/><rect x="27.63" y="274.96" width="5.04" height="4.75" fill="#00f0f0"/><rect x="32.68" y="274.96" width="5.04" height="4.75" fill="#0008ff"/><rect x="37.72" y="274.96" width="5.04" height="4.75" fill="#0008ff"/><rect x="42.77" y="274.96" width="5.04" height="4.75" fill="#0008ff"/><rect x="47.81" y="274.96" width="5.04" height="4.75" fill="#006cff"/><rect x="52.86" y="274.96" width="5.04" height="4.75" fill="#0008ff"/><rect x="57.90" y="274.96" width="5.04" height="4.75" fill="#0008ff"/><rect x="62.95" y="274.96" width="5.04" height="4.75" fill="#0008ff"/><rect x="67.99" y="274.96" width="5.04" height="4.75" fill="#0008ff"/><rect x="73.04" y="274.96" width="5.04" height="4.75" fill="#006cff"/><rect x="78.08" y="274.96" width="5.04" height="4.75" fill="#006cff"/><rect x="83.13" y="274.96" width="5.04" height="4.75" fill="#006cff"/><rect x="88.17" y="274.96" width="5.04" height="4.75" fill="#f80000"/><rect x="93.22" y="274.96" width="5.04" height="4.75" fill="#f80000"/><rect x="98.26" y="274.96" width="5.04" height="4.75" fill="#f80000"/><rect x="103.31" y="274.96" width="5.04" height="4.75" fill="#f80000"/><rect x="108.35" y="274.96" width="5.04" height="4.75" fill="#f80000"/><rect x="113.40" y="274.96" width="5.04" height="4.75" fill="#f80000"/><rect x="118.44" y="274.96" width="5.04" height="4.75" fill="#f80000"/><rect x="123.49" y="274.96" width="5.04" height="4.75" fill="#f80000"/><rect x="128.53" y="274.96" width="5.04" height="4.75" fill="#9a0000"/><rect x="133.58" y="274.96" width="5.04" height="4.75" fill="#9a0000"/><rect x="138.62" y="274.96" width="5.04" height="4.75" fill="#9a0000"/><rect x="143.67" y="274.96" width="5.04" height="4.75" fill="#9a0000"/><rect x="12.50" y="279.70" width="5.04" height="4.75" fill="#26ee8c"/><rect x="17.54" y="279.70" width="5.04" height="4.75" fill="#00aaff"/><rect x="22.59" y="279.70" width="5.04" height="4.75" fill="#26ee8c"/><rect x="27.63" y="279.70" width="5.04" height="4.75" fill="#26ee8c"/><rect x="32.68" y="279.70" width="5.04" height="4.75" fill="#b0f030"/><rect x="37.72" y="279.70" width="5.04" height="4.75" fill="#b0f030"/><rect x="42.77" y="279.70" width="5.04" height="4.75" fill="#26ee8c"/><rect x="47.81" y="279.70" width="5.04" height="4.75" fill="#26ee8c"/><rect x="52.86" y="279.70" width="5.04" height="4.75" fill="#26ee8c"/><rect x="57.90" y="279.70" width="5.04" height="4.75" fill="#00f0f0"/><rect x="62.95" y="279.70" width="5.04" height="4.75" fill="#00f0f0"/><rect x="67.99" y="279.70" width="5.04" height="4.75" fill="#00f0f0"/><rect x="73.04" y="279.70" width="5.04" height="4.75" fill="#26ee8c"/><rect x="78.08" y="279.70" width="5.04" height="4.75" fill="#26ee8c"/><rect x="83.13" y="279.70" width="5.04" height="4.75" fill="#26ee8c"/><rect x="88.17" y="279.70" width="5.04" height="4.75" fill="#ffbf00"/><rect x="93.22" y="279.70" width="5.04" height="4.75" fill="#ffbf00"/><rect x="98.26" y="279.70" width="5.04" height="4.75" fill="#ffbf00"/><rect x="103.31" y="279.70" width="5.04" height="4.75" fill="#ffe800"/><rect x="108.35" y="279.70" width="5.04" height="4.75" fill="#ffe800"/><rect x="113.40" y="279.70" width="5.04" height="4.75" fill="#ffe800"/><rect x="118.44" y="279.70" width="5.04" height="4.75" fill="#ffe800"/><rect x="123.49" y="279.70" width="5.04" height="4.75" fill="#ffbf00"/><rect x="128.53" y="279.70" width="5.04" height="4.75" fill="#ffbf00"/><rect x="133.58" y="279.70" width="5.04" height="4.75" fill="#ffbf00"/><rect x="138.62" y="279.70" width="5.04" height="4.75" fill="#ffbf00"/><rect x="143.67" y="279.70" width="5.04" height="4.75" fill="#ffe800"/><rect x="148.71" y="279.70" width="5.04" height="4.75" fill="#9a0000"/><rect x="12.50" y="284.45" width="5.04" height="4.75" fill="#b0f030"/><rect x="17.54" y="284.45" width="5.04" height="4.75" fill="#00f0f0"/><rect x="22.59" y="284.45" width="5.04" height="4.75" fill="#ffe800"/><rect x="27.63" y="284.45" width="5.04" height="4.75" fill="#ffe800"/><rect x="32.68" y="284.45" width="5.04" height="4.75" fill="#ffbf00"/><rect x="37.72" y="284.45" width="5.04" height="4.75" fill="#ffbf00"/><rect x="42.77" y="284.45" width="5.04" height="4.75" fill="#ffe800"/><rect x="47.81" y="284.45" width="5.04" height="4.75" fill="#b0f030"/><rect x="52.86" y="284.45" width="5.04" height="4.75" fill="#26ee8c"/><rect x="57.90" y="284.45" width="5.04" height="4.75" fill="#26ee8c"/><rect x="62.95" y="284.45" width="5.04" height="4.75" fill="#26ee8c"/><rect x="67.99" y="284.45" width="5.04" height="4.75" fill="#26ee8c"/><rect x="73.04" y="284.45" width="5.04" height="4.75" fill="#b0f030"/><rect x="78.08" y="284.45" width="5.04" height="4.75" fill="#b0f030"/><rect x="83.13" y="284.45" width="5.04" height="4.75" fill="#b0f030"/><rect x="88.17" y="284.45" width="5.04" height="4.75" fill="#ffe800"/><rect x="93.22" y="284.45" width="5.04" height="4.75" fill="#ffe800"/><rect x="98.26" y="284.45" width="5.04" height="4.75" fill="#ffe800"/><rect x="103.31" y="284.45" width="5.04" height="4.75" fill="#26ee8c"/><rect x="108.35" y="284.45" width="5.04" height="4.75" fill="#26ee8c"/><rect x="113.40" y="284.45" width="5.04" height="4.75" fill="#26ee8c"/><rect x="118.44" y="284.45" width="5.04" height="4.75" fill="#26ee8c"/><rect x="123.49" y="284.45" width="5.04" height="4.75" fill="#b0f030"/><rect x="128.53" y="284.45" width="5.04" height="4.75" fill="#b0f030"/><rect x="133.58" y="284.45" width="5.04" height="4.75" fill="#b0f030"/><rect x="138.62" y="284.45" width="5.04" height="4.75" fill="#b0f030"/><rect x="143.67" y="284.45" width="5.04" height="4.75" fill="#26ee8c"/><rect x="148.71" y="284.45" width="5.04" height="4.75" fill="#f80000"/><rect x="153.76" y="284.45" width="5.04" height="4.75" fill="#9a0000"/></g>
<g font-family="Liberation Serif, serif" font-weight="bold" font-size="3.1" fill="#222" text-rendering="geometricPrecision" text-anchor="start"><text x="3.20" y="154.90">YJ 24</text><text x="3.20" y="159.65">YJ 1</text><text x="3.20" y="164.39">YJ 8</text><text x="3.20" y="169.14">YJ 9</text><text x="3.20" y="173.89">YJ 20</text><text x="3.20" y="178.64">YJ 23</text><text x="3.20" y="183.39">YJ 4</text><text x="3.20" y="188.14">YJ 5</text><text x="3.20" y="192.88">YJ 17</text><text x="3.20" y="197.63">YJ 3</text><text x="3.20" y="202.38">YJ 2</text><text x="3.20" y="207.13">YJ 6</text><text x="3.20" y="211.88">YJ 11</text><text x="3.20" y="216.62">YJ 14</text><text x="3.20" y="221.37">YJ 26</text><text x="3.20" y="226.12">YJ 27</text><text x="3.20" y="230.87">YJ 28</text><text x="3.20" y="235.62">YJ 19</text><text x="3.20" y="240.37">YJ 18</text><text x="3.20" y="245.11">YJ 16</text><text x="3.20" y="249.86">YJ 10</text><text x="3.20" y="254.61">YJ 15</text><text x="3.20" y="259.36">YJ 12</text><text x="3.20" y="264.11">YJ 13</text><text x="3.20" y="268.86">YJ 7</text><text x="3.20" y="273.60">YJ 22</text><text x="3.20" y="278.35">YJ 25</text><text x="3.20" y="283.10">YJ 21</text><text x="3.20" y="287.85">YJ 29</text></g>
<g font-family="Liberation Serif, serif" font-weight="bold" font-size="3.1" fill="#222" text-rendering="geometricPrecision" text-anchor="start"><text transform="translate(16.51,298.70) rotate(-90)">YJ 24</text><text transform="translate(21.55,298.70) rotate(-90)">YJ 1</text><text transform="translate(26.60,298.70) rotate(-90)">YJ 8</text><text transform="translate(31.64,298.70) rotate(-90)">YJ 9</text><text transform="translate(36.69,298.70) rotate(-90)">YJ 20</text><text transform="translate(41.73,298.70) rotate(-90)">YJ 23</text><text transform="translate(46.78,298.70) rotate(-90)">YJ 4</text><text transform="translate(51.82,298.70) rotate(-90)">YJ 5</text><text transform="translate(56.87,298.70) rotate(-90)">YJ 17</text><text transform="translate(61.91,298.70) rotate(-90)">YJ 3</text><text transform="translate(66.96,298.70) rotate(-90)">YJ 2</text><text transform="translate(72.00,298.70) rotate(-90)">YJ 6</text><text transform="translate(77.05,298.70) rotate(-90)">YJ 11</text><text transform="translate(82.09,298.70) rotate(-90)">YJ 14</text><text transform="translate(87.14,298.70) rotate(-90)">YJ 26</text><text transform="translate(92.18,298.70) rotate(-90)">YJ 27</text><text transform="translate(97.22,298.70) rotate(-90)">YJ 28</text><text transform="translate(102.27,298.70) rotate(-90)">YJ 19</text><text transform="translate(107.31,298.70) rotate(-90)">YJ 18</text><text transform="translate(112.36,298.70) rotate(-90)">YJ 16</text><text transform="translate(117.40,298.70) rotate(-90)">YJ 10</text><text transform="translate(122.45,298.70) rotate(-90)">YJ 15</text><text transform="translate(127.49,298.70) rotate(-90)">YJ 12</text><text transform="translate(132.54,298.70) rotate(-90)">YJ 13</text><text transform="translate(137.58,298.70) rotate(-90)">YJ 7</text><text transform="translate(142.63,298.70) rotate(-90)">YJ 22</text><text transform="translate(147.67,298.70) rotate(-90)">YJ 25</text><text transform="translate(152.72,298.70) rotate(-90)">YJ 21</text><text transform="translate(157.76,298.70) rotate(-90)">YJ 29</text></g>
<text x="164.5" y="155.9" font-family="Liberation Serif, serif" font-weight="bold" font-size="6.1" fill="#111" stroke="#111" stroke-width="0.2">YJ</text>
<defs><linearGradient id="jetYJ" x1="0" y1="1" x2="0" y2="0"><stop offset="0" stop-color="#00008f"/><stop offset="0.14" stop-color="#0000ff"/><stop offset="0.26" stop-color="#0080ff"/><stop offset="0.37" stop-color="#00ffff"/><stop offset="0.48" stop-color="#80ff80"/><stop offset="0.6" stop-color="#ffff00"/><stop offset="0.73" stop-color="#ff8000"/><stop offset="0.86" stop-color="#ff0000"/><stop offset="1" stop-color="#800000"/></linearGradient></defs>
<rect x="163.7" y="196.0" width="6.00" height="37.10" fill="url(#jetYJ)"/>
<g stroke="#444" stroke-width="0.35" font-family="Liberation Serif, serif" font-size="2.0" fill="#333" text-rendering="geometricPrecision"><line x1="169.10" y1="197.20" x2="170.20" y2="197.20"/><text x="172.00" y="197.90" stroke="none" textLength="3.8" lengthAdjust="spacingAndGlyphs">100.0</text><line x1="169.10" y1="200.65" x2="170.20" y2="200.65"/><text x="172.00" y="201.35" stroke="none" textLength="3.8" lengthAdjust="spacingAndGlyphs">100.0</text><line x1="169.10" y1="204.10" x2="170.20" y2="204.10"/><text x="172.00" y="204.80" stroke="none" textLength="3.8" lengthAdjust="spacingAndGlyphs">100.0</text><line x1="169.10" y1="207.55" x2="170.20" y2="207.55"/><text x="172.00" y="208.25" stroke="none" textLength="3.8" lengthAdjust="spacingAndGlyphs">99.5</text><line x1="169.10" y1="211.00" x2="170.20" y2="211.00"/><text x="172.00" y="211.70" stroke="none" textLength="3.8" lengthAdjust="spacingAndGlyphs">99.0</text><line x1="169.10" y1="214.45" x2="170.20" y2="214.45"/><text x="172.00" y="215.15" stroke="none" textLength="3.8" lengthAdjust="spacingAndGlyphs">98.5</text><line x1="169.10" y1="217.90" x2="170.20" y2="217.90"/><text x="172.00" y="218.60" stroke="none" textLength="3.8" lengthAdjust="spacingAndGlyphs">98.0</text><line x1="169.10" y1="221.35" x2="170.20" y2="221.35"/><text x="172.00" y="222.05" stroke="none" textLength="3.8" lengthAdjust="spacingAndGlyphs">97.5</text><line x1="169.10" y1="224.80" x2="170.20" y2="224.80"/><text x="172.00" y="225.50" stroke="none" textLength="3.8" lengthAdjust="spacingAndGlyphs">97.0</text><line x1="169.10" y1="228.25" x2="170.20" y2="228.25"/><text x="172.00" y="228.95" stroke="none" textLength="3.8" lengthAdjust="spacingAndGlyphs">96.5</text><line x1="169.10" y1="231.70" x2="170.20" y2="231.70"/><text x="172.00" y="232.40" stroke="none" textLength="3.8" lengthAdjust="spacingAndGlyphs">96.0</text></g>
<text x="128.5" y="188.2" font-family="Liberation Serif, serif" font-weight="bold" font-size="6.6" fill="#111" stroke="#111" stroke-width="0.05" textLength="53.4" lengthAdjust="spacingAndGlyphs">Pairwise identity (%)</text>
<line x1="32.8" y1="152.9" x2="67.5" y2="183.7" stroke="#f6782a" stroke-width="1.2"/>
<line x1="71.6" y1="186.6" x2="143.8" y2="253.4" stroke="#2e86e6" stroke-width="1.2"/>
<line x1="148.2" y1="257.8" x2="166.4" y2="275.5" stroke="#fab418" stroke-width="1.2"/>
<text transform="translate(55.88,164.12) rotate(45)" font-family="Liberation Sans, sans-serif" font-weight="bold" font-size="5.6" fill="#111" stroke="#111" stroke-width="0.3" text-anchor="middle" letter-spacing="0.6">I</text>
<text transform="translate(113.68,213.12) rotate(45)" font-family="Liberation Sans, sans-serif" font-weight="bold" font-size="5.6" fill="#111" stroke="#111" stroke-width="0.3" text-anchor="middle" letter-spacing="0.6">II</text>
<text transform="translate(161.08,262.62) rotate(45)" font-family="Liberation Sans, sans-serif" font-weight="bold" font-size="5.6" fill="#111" stroke="#111" stroke-width="0.3" text-anchor="middle" letter-spacing="0.6">III</text>
<g stroke="#000" stroke-width="0.6" stroke-opacity="0.4"><rect x="196.10" y="152.60" width="4.86" height="4.57" fill="#9a0000"/><rect x="196.10" y="157.17" width="4.86" height="4.57" fill="#ff7400"/><rect x="200.96" y="157.17" width="4.86" height="4.57" fill="#9a0000"/><rect x="196.10" y="161.73" width="4.86" height="4.57" fill="#ff7400"/><rect x="200.96" y="161.73" width="4.86" height="4.57" fill="#f80000"/><rect x="205.82" y="161.73" width="4.86" height="4.57" fill="#9a0000"/><rect x="196.10" y="166.30" width="4.86" height="4.57" fill="#ffe800"/><rect x="200.96" y="166.30" width="4.86" height="4.57" fill="#f80000"/><rect x="205.82" y="166.30" width="4.86" height="4.57" fill="#f80000"/><rect x="210.68" y="166.30" width="4.86" height="4.57" fill="#9a0000"/><rect x="196.10" y="170.87" width="4.86" height="4.57" fill="#ff7400"/><rect x="200.96" y="170.87" width="4.86" height="4.57" fill="#f80000"/><rect x="205.82" y="170.87" width="4.86" height="4.57" fill="#ff5000"/><rect x="210.68" y="170.87" width="4.86" height="4.57" fill="#ff5000"/><rect x="215.54" y="170.87" width="4.86" height="4.57" fill="#9a0000"/><rect x="196.10" y="175.43" width="4.86" height="4.57" fill="#f80000"/><rect x="200.96" y="175.43" width="4.86" height="4.57" fill="#f80000"/><rect x="205.82" y="175.43" width="4.86" height="4.57" fill="#f80000"/><rect x="210.68" y="175.43" width="4.86" height="4.57" fill="#ff5000"/><rect x="215.54" y="175.43" width="4.86" height="4.57" fill="#ff5000"/><rect x="220.40" y="175.43" width="4.86" height="4.57" fill="#9a0000"/><rect x="196.10" y="180.00" width="4.86" height="4.57" fill="#f80000"/><rect x="200.96" y="180.00" width="4.86" height="4.57" fill="#f80000"/><rect x="205.82" y="180.00" width="4.86" height="4.57" fill="#f80000"/><rect x="210.68" y="180.00" width="4.86" height="4.57" fill="#ff5000"/><rect x="215.54" y="180.00" width="4.86" height="4.57" fill="#ff5000"/><rect x="220.40" y="180.00" width="4.86" height="4.57" fill="#c80000"/><rect x="225.26" y="180.00" width="4.86" height="4.57" fill="#9a0000"/><rect x="196.10" y="184.57" width="4.86" height="4.57" fill="#f80000"/><rect x="200.96" y="184.57" width="4.86" height="4.57" fill="#f80000"/><rect x="205.82" y="184.57" width="4.86" height="4.57" fill="#f80000"/><rect x="210.68" y="184.57" width="4.86" height="4.57" fill="#ff7400"/><rect x="215.54" y="184.57" width="4.86" height="4.57" fill="#ffbf00"/><rect x="220.40" y="184.57" width="4.86" height="4.57" fill="#f80000"/><rect x="225.26" y="184.57" width="4.86" height="4.57" fill="#f80000"/><rect x="230.12" y="184.57" width="4.86" height="4.57" fill="#9a0000"/><rect x="196.10" y="189.13" width="4.86" height="4.57" fill="#f80000"/><rect x="200.96" y="189.13" width="4.86" height="4.57" fill="#ff5000"/><rect x="205.82" y="189.13" width="4.86" height="4.57" fill="#ff5000"/><rect x="210.68" y="189.13" width="4.86" height="4.57" fill="#ffbf00"/><rect x="215.54" y="189.13" width="4.86" height="4.57" fill="#ffbf00"/><rect x="220.40" y="189.13" width="4.86" height="4.57" fill="#f80000"/><rect x="225.26" y="189.13" width="4.86" height="4.57" fill="#f80000"/><rect x="230.12" y="189.13" width="4.86" height="4.57" fill="#f80000"/><rect x="234.98" y="189.13" width="4.86" height="4.57" fill="#9a0000"/><rect x="196.10" y="193.70" width="4.86" height="4.57" fill="#f80000"/><rect x="200.96" y="193.70" width="4.86" height="4.57" fill="#ffbf00"/><rect x="205.82" y="193.70" width="4.86" height="4.57" fill="#ffbf00"/><rect x="210.68" y="193.70" width="4.86" height="4.57" fill="#b0f030"/><rect x="215.54" y="193.70" width="4.86" height="4.57" fill="#ff5000"/><rect x="220.40" y="193.70" width="4.86" height="4.57" fill="#ff5000"/><rect x="225.26" y="193.70" width="4.86" height="4.57" fill="#ff5000"/><rect x="230.12" y="193.70" width="4.86" height="4.57" fill="#f80000"/><rect x="234.98" y="193.70" width="4.86" height="4.57" fill="#f80000"/><rect x="239.84" y="193.70" width="4.86" height="4.57" fill="#9a0000"/><rect x="196.10" y="198.27" width="4.86" height="4.57" fill="#f80000"/><rect x="200.96" y="198.27" width="4.86" height="4.57" fill="#ffe800"/><rect x="205.82" y="198.27" width="4.86" height="4.57" fill="#ffbf00"/><rect x="210.68" y="198.27" width="4.86" height="4.57" fill="#b0f030"/><rect x="215.54" y="198.27" width="4.86" height="4.57" fill="#ff5000"/><rect x="220.40" y="198.27" width="4.86" height="4.57" fill="#ff7400"/><rect x="225.26" y="198.27" width="4.86" height="4.57" fill="#ff5000"/><rect x="230.12" y="198.27" width="4.86" height="4.57" fill="#ff7400"/><rect x="234.98" y="198.27" width="4.86" height="4.57" fill="#ff5000"/><rect x="239.84" y="198.27" width="4.86" height="4.57" fill="#f80000"/><rect x="244.70" y="198.27" width="4.86" height="4.57" fill="#9a0000"/><rect x="196.10" y="202.83" width="4.86" height="4.57" fill="#f80000"/><rect x="200.96" y="202.83" width="4.86" height="4.57" fill="#ffbf00"/><rect x="205.82" y="202.83" width="4.86" height="4.57" fill="#ffbf00"/><rect x="210.68" y="202.83" width="4.86" height="4.57" fill="#ffe800"/><rect x="215.54" y="202.83" width="4.86" height="4.57" fill="#ff5000"/><rect x="220.40" y="202.83" width="4.86" height="4.57" fill="#ff7400"/><rect x="225.26" y="202.83" width="4.86" height="4.57" fill="#ff7400"/><rect x="230.12" y="202.83" width="4.86" height="4.57" fill="#ffbf00"/><rect x="234.98" y="202.83" width="4.86" height="4.57" fill="#ff5000"/><rect x="239.84" y="202.83" width="4.86" height="4.57" fill="#f80000"/><rect x="244.70" y="202.83" width="4.86" height="4.57" fill="#f80000"/><rect x="249.56" y="202.83" width="4.86" height="4.57" fill="#9a0000"/><rect x="196.10" y="207.40" width="4.86" height="4.57" fill="#f80000"/><rect x="200.96" y="207.40" width="4.86" height="4.57" fill="#ffe800"/><rect x="205.82" y="207.40" width="4.86" height="4.57" fill="#ffe800"/><rect x="210.68" y="207.40" width="4.86" height="4.57" fill="#26ee8c"/><rect x="215.54" y="207.40" width="4.86" height="4.57" fill="#ffbf00"/><rect x="220.40" y="207.40" width="4.86" height="4.57" fill="#ffbf00"/><rect x="225.26" y="207.40" width="4.86" height="4.57" fill="#ffbf00"/><rect x="230.12" y="207.40" width="4.86" height="4.57" fill="#ff7400"/><rect x="234.98" y="207.40" width="4.86" height="4.57" fill="#ff5000"/><rect x="239.84" y="207.40" width="4.86" height="4.57" fill="#ff5000"/><rect x="244.70" y="207.40" width="4.86" height="4.57" fill="#f80000"/><rect x="249.56" y="207.40" width="4.86" height="4.57" fill="#f80000"/><rect x="254.42" y="207.40" width="4.86" height="4.57" fill="#9a0000"/><rect x="196.10" y="211.97" width="4.86" height="4.57" fill="#f80000"/><rect x="200.96" y="211.97" width="4.86" height="4.57" fill="#ffe800"/><rect x="205.82" y="211.97" width="4.86" height="4.57" fill="#ffe800"/><rect x="210.68" y="211.97" width="4.86" height="4.57" fill="#26ee8c"/><rect x="215.54" y="211.97" width="4.86" height="4.57" fill="#ffbf00"/><rect x="220.40" y="211.97" width="4.86" height="4.57" fill="#ff7400"/><rect x="225.26" y="211.97" width="4.86" height="4.57" fill="#ffbf00"/><rect x="230.12" y="211.97" width="4.86" height="4.57" fill="#ff7400"/><rect x="234.98" y="211.97" width="4.86" height="4.57" fill="#ff5000"/><rect x="239.84" y="211.97" width="4.86" height="4.57" fill="#ff5000"/><rect x="244.70" y="211.97" width="4.86" height="4.57" fill="#f80000"/><rect x="249.56" y="211.97" width="4.86" height="4.57" fill="#f80000"/><rect x="254.42" y="211.97" width="4.86" height="4.57" fill="#c80000"/><rect x="259.28" y="211.97" width="4.86" height="4.57" fill="#9a0000"/><rect x="196.10" y="216.53" width="4.86" height="4.57" fill="#f80000"/><rect x="200.96" y="216.53" width="4.86" height="4.57" fill="#ffbf00"/><rect x="205.82" y="216.53" width="4.86" height="4.57" fill="#ffbf00"/><rect x="210.68" y="216.53" width="4.86" height="4.57" fill="#ffe800"/><rect x="215.54" y="216.53" width="4.86" height="4.57" fill="#ff5000"/><rect x="220.40" y="216.53" width="4.86" height="4.57" fill="#ff5000"/><rect x="225.26" y="216.53" width="4.86" height="4.57" fill="#f80000"/><rect x="230.12" y="216.53" width="4.86" height="4.57" fill="#f80000"/><rect x="234.98" y="216.53" width="4.86" height="4.57" fill="#f80000"/><rect x="239.84" y="216.53" width="4.86" height="4.57" fill="#f80000"/><rect x="244.70" y="216.53" width="4.86" height="4.57" fill="#f80000"/><rect x="249.56" y="216.53" width="4.86" height="4.57" fill="#ff5000"/><rect x="254.42" y="216.53" width="4.86" height="4.57" fill="#f80000"/><rect x="259.28" y="216.53" width="4.86" height="4.57" fill="#f80000"/><rect x="264.14" y="216.53" width="4.86" height="4.57" fill="#9a0000"/><rect x="196.10" y="221.10" width="4.86" height="4.57" fill="#f80000"/><rect x="200.96" y="221.10" width="4.86" height="4.57" fill="#ffbf00"/><rect x="205.82" y="221.10" width="4.86" height="4.57" fill="#ffbf00"/><rect x="210.68" y="221.10" width="4.86" height="4.57" fill="#ffbf00"/><rect x="215.54" y="221.10" width="4.86" height="4.57" fill="#ff5000"/><rect x="220.40" y="221.10" width="4.86" height="4.57" fill="#f80000"/><rect x="225.26" y="221.10" width="4.86" height="4.57" fill="#f80000"/><rect x="230.12" y="221.10" width="4.86" height="4.57" fill="#f80000"/><rect x="234.98" y="221.10" width="4.86" height="4.57" fill="#f80000"/><rect x="239.84" y="221.10" width="4.86" height="4.57" fill="#f80000"/><rect x="244.70" y="221.10" width="4.86" height="4.57" fill="#f80000"/><rect x="249.56" y="221.10" width="4.86" height="4.57" fill="#f80000"/><rect x="254.42" y="221.10" width="4.86" height="4.57" fill="#f80000"/><rect x="259.28" y="221.10" width="4.86" height="4.57" fill="#f80000"/><rect x="264.14" y="221.10" width="4.86" height="4.57" fill="#f80000"/><rect x="269.00" y="221.10" width="4.86" height="4.57" fill="#9a0000"/><rect x="196.10" y="225.67" width="4.86" height="4.57" fill="#ff5000"/><rect x="200.96" y="225.67" width="4.86" height="4.57" fill="#ffbf00"/><rect x="205.82" y="225.67" width="4.86" height="4.57" fill="#ffe800"/><rect x="210.68" y="225.67" width="4.86" height="4.57" fill="#ffbf00"/><rect x="215.54" y="225.67" width="4.86" height="4.57" fill="#ffbf00"/><rect x="220.40" y="225.67" width="4.86" height="4.57" fill="#ffbf00"/><rect x="225.26" y="225.67" width="4.86" height="4.57" fill="#ffbf00"/><rect x="230.12" y="225.67" width="4.86" height="4.57" fill="#ff7400"/><rect x="234.98" y="225.67" width="4.86" height="4.57" fill="#ffbf00"/><rect x="239.84" y="225.67" width="4.86" height="4.57" fill="#ff5000"/><rect x="244.70" y="225.67" width="4.86" height="4.57" fill="#ffbf00"/><rect x="249.56" y="225.67" width="4.86" height="4.57" fill="#ffbf00"/><rect x="254.42" y="225.67" width="4.86" height="4.57" fill="#ffbf00"/><rect x="259.28" y="225.67" width="4.86" height="4.57" fill="#ffbf00"/><rect x="264.14" y="225.67" width="4.86" height="4.57" fill="#ffbf00"/><rect x="269.00" y="225.67" width="4.86" height="4.57" fill="#f80000"/><rect x="273.86" y="225.67" width="4.86" height="4.57" fill="#9a0000"/><rect x="196.10" y="230.23" width="4.86" height="4.57" fill="#006cff"/><rect x="200.96" y="230.23" width="4.86" height="4.57" fill="#00f0f0"/><rect x="205.82" y="230.23" width="4.86" height="4.57" fill="#006cff"/><rect x="210.68" y="230.23" width="4.86" height="4.57" fill="#00f0f0"/><rect x="215.54" y="230.23" width="4.86" height="4.57" fill="#00f0f0"/><rect x="220.40" y="230.23" width="4.86" height="4.57" fill="#006cff"/><rect x="225.26" y="230.23" width="4.86" height="4.57" fill="#006cff"/><rect x="230.12" y="230.23" width="4.86" height="4.57" fill="#006cff"/><rect x="234.98" y="230.23" width="4.86" height="4.57" fill="#0008ff"/><rect x="239.84" y="230.23" width="4.86" height="4.57" fill="#006cff"/><rect x="244.70" y="230.23" width="4.86" height="4.57" fill="#006cff"/><rect x="249.56" y="230.23" width="4.86" height="4.57" fill="#0008ff"/><rect x="254.42" y="230.23" width="4.86" height="4.57" fill="#0008ff"/><rect x="259.28" y="230.23" width="4.86" height="4.57" fill="#0008ff"/><rect x="264.14" y="230.23" width="4.86" height="4.57" fill="#006cff"/><rect x="269.00" y="230.23" width="4.86" height="4.57" fill="#00aaff"/><rect x="273.86" y="230.23" width="4.86" height="4.57" fill="#26ee8c"/><rect x="278.72" y="230.23" width="4.86" height="4.57" fill="#9a0000"/><rect x="196.10" y="234.80" width="4.86" height="4.57" fill="#006cff"/><rect x="200.96" y="234.80" width="4.86" height="4.57" fill="#00f0f0"/><rect x="205.82" y="234.80" width="4.86" height="4.57" fill="#006cff"/><rect x="210.68" y="234.80" width="4.86" height="4.57" fill="#00f0f0"/><rect x="215.54" y="234.80" width="4.86" height="4.57" fill="#00f0f0"/><rect x="220.40" y="234.80" width="4.86" height="4.57" fill="#006cff"/><rect x="225.26" y="234.80" width="4.86" height="4.57" fill="#006cff"/><rect x="230.12" y="234.80" width="4.86" height="4.57" fill="#006cff"/><rect x="234.98" y="234.80" width="4.86" height="4.57" fill="#0008ff"/><rect x="239.84" y="234.80" width="4.86" height="4.57" fill="#006cff"/><rect x="244.70" y="234.80" width="4.86" height="4.57" fill="#006cff"/><rect x="249.56" y="234.80" width="4.86" height="4.57" fill="#0008ff"/><rect x="254.42" y="234.80" width="4.86" height="4.57" fill="#0008ff"/><rect x="259.28" y="234.80" width="4.86" height="4.57" fill="#0008ff"/><rect x="264.14" y="234.80" width="4.86" height="4.57" fill="#006cff"/><rect x="269.00" y="234.80" width="4.86" height="4.57" fill="#00aaff"/><rect x="273.86" y="234.80" width="4.86" height="4.57" fill="#26ee8c"/><rect x="278.72" y="234.80" width="4.86" height="4.57" fill="#9a0000"/><rect x="283.58" y="234.80" width="4.86" height="4.57" fill="#9a0000"/><rect x="196.10" y="239.37" width="4.86" height="4.57" fill="#000090"/><rect x="200.96" y="239.37" width="4.86" height="4.57" fill="#006cff"/><rect x="205.82" y="239.37" width="4.86" height="4.57" fill="#0008ff"/><rect x="210.68" y="239.37" width="4.86" height="4.57" fill="#006cff"/><rect x="215.54" y="239.37" width="4.86" height="4.57" fill="#006cff"/><rect x="220.40" y="239.37" width="4.86" height="4.57" fill="#000090"/><rect x="225.26" y="239.37" width="4.86" height="4.57" fill="#000090"/><rect x="230.12" y="239.37" width="4.86" height="4.57" fill="#000090"/><rect x="234.98" y="239.37" width="4.86" height="4.57" fill="#000090"/><rect x="239.84" y="239.37" width="4.86" height="4.57" fill="#000090"/><rect x="244.70" y="239.37" width="4.86" height="4.57" fill="#000090"/><rect x="249.56" y="239.37" width="4.86" height="4.57" fill="#000090"/><rect x="254.42" y="239.37" width="4.86" height="4.57" fill="#000090"/><rect x="259.28" y="239.37" width="4.86" height="4.57" fill="#000090"/><rect x="264.14" y="239.37" width="4.86" height="4.57" fill="#0008ff"/><rect x="269.00" y="239.37" width="4.86" height="4.57" fill="#0008ff"/><rect x="273.86" y="239.37" width="4.86" height="4.57" fill="#00aaff"/><rect x="278.72" y="239.37" width="4.86" height="4.57" fill="#f80000"/><rect x="283.58" y="239.37" width="4.86" height="4.57" fill="#f80000"/><rect x="288.44" y="239.37" width="4.86" height="4.57" fill="#9a0000"/><rect x="196.10" y="243.93" width="4.86" height="4.57" fill="#00aaff"/><rect x="200.96" y="243.93" width="4.86" height="4.57" fill="#00f0f0"/><rect x="205.82" y="243.93" width="4.86" height="4.57" fill="#00aaff"/><rect x="210.68" y="243.93" width="4.86" height="4.57" fill="#00f0f0"/><rect x="215.54" y="243.93" width="4.86" height="4.57" fill="#00f0f0"/><rect x="220.40" y="243.93" width="4.86" height="4.57" fill="#00aaff"/><rect x="225.26" y="243.93" width="4.86" height="4.57" fill="#00aaff"/><rect x="230.12" y="243.93" width="4.86" height="4.57" fill="#00aaff"/><rect x="234.98" y="243.93" width="4.86" height="4.57" fill="#006cff"/><rect x="239.84" y="243.93" width="4.86" height="4.57" fill="#00aaff"/><rect x="244.70" y="243.93" width="4.86" height="4.57" fill="#006cff"/><rect x="249.56" y="243.93" width="4.86" height="4.57" fill="#006cff"/><rect x="254.42" y="243.93" width="4.86" height="4.57" fill="#006cff"/><rect x="259.28" y="243.93" width="4.86" height="4.57" fill="#006cff"/><rect x="264.14" y="243.93" width="4.86" height="4.57" fill="#00aaff"/><rect x="269.00" y="243.93" width="4.86" height="4.57" fill="#00f0f0"/><rect x="273.86" y="243.93" width="4.86" height="4.57" fill="#26ee8c"/><rect x="278.72" y="243.93" width="4.86" height="4.57" fill="#f80000"/><rect x="283.58" y="243.93" width="4.86" height="4.57" fill="#f80000"/><rect x="288.44" y="243.93" width="4.86" height="4.57" fill="#ff5000"/><rect x="293.30" y="243.93" width="4.86" height="4.57" fill="#9a0000"/><rect x="196.10" y="248.50" width="4.86" height="4.57" fill="#00f0f0"/><rect x="200.96" y="248.50" width="4.86" height="4.57" fill="#b0f030"/><rect x="205.82" y="248.50" width="4.86" height="4.57" fill="#00f0f0"/><rect x="210.68" y="248.50" width="4.86" height="4.57" fill="#26ee8c"/><rect x="215.54" y="248.50" width="4.86" height="4.57" fill="#b0f030"/><rect x="220.40" y="248.50" width="4.86" height="4.57" fill="#00f0f0"/><rect x="225.26" y="248.50" width="4.86" height="4.57" fill="#00f0f0"/><rect x="230.12" y="248.50" width="4.86" height="4.57" fill="#00f0f0"/><rect x="234.98" y="248.50" width="4.86" height="4.57" fill="#00f0f0"/><rect x="239.84" y="248.50" width="4.86" height="4.57" fill="#00f0f0"/><rect x="244.70" y="248.50" width="4.86" height="4.57" fill="#00f0f0"/><rect x="249.56" y="248.50" width="4.86" height="4.57" fill="#00f0f0"/><rect x="254.42" y="248.50" width="4.86" height="4.57" fill="#00f0f0"/><rect x="259.28" y="248.50" width="4.86" height="4.57" fill="#00f0f0"/><rect x="264.14" y="248.50" width="4.86" height="4.57" fill="#00f0f0"/><rect x="269.00" y="248.50" width="4.86" height="4.57" fill="#26ee8c"/><rect x="273.86" y="248.50" width="4.86" height="4.57" fill="#ffe800"/><rect x="278.72" y="248.50" width="4.86" height="4.57" fill="#ff5000"/><rect x="283.58" y="248.50" width="4.86" height="4.57" fill="#ff5000"/><rect x="288.44" y="248.50" width="4.86" height="4.57" fill="#ffbf00"/><rect x="293.30" y="248.50" width="4.86" height="4.57" fill="#f80000"/><rect x="298.16" y="248.50" width="4.86" height="4.57" fill="#9a0000"/><rect x="196.10" y="253.07" width="4.86" height="4.57" fill="#26ee8c"/><rect x="200.96" y="253.07" width="4.86" height="4.57" fill="#ffe800"/><rect x="205.82" y="253.07" width="4.86" height="4.57" fill="#26ee8c"/><rect x="210.68" y="253.07" width="4.86" height="4.57" fill="#ffe800"/><rect x="215.54" y="253.07" width="4.86" height="4.57" fill="#ffe800"/><rect x="220.40" y="253.07" width="4.86" height="4.57" fill="#26ee8c"/><rect x="225.26" y="253.07" width="4.86" height="4.57" fill="#b0f030"/><rect x="230.12" y="253.07" width="4.86" height="4.57" fill="#26ee8c"/><rect x="234.98" y="253.07" width="4.86" height="4.57" fill="#00f0f0"/><rect x="239.84" y="253.07" width="4.86" height="4.57" fill="#26ee8c"/><rect x="244.70" y="253.07" width="4.86" height="4.57" fill="#26ee8c"/><rect x="249.56" y="253.07" width="4.86" height="4.57" fill="#00f0f0"/><rect x="254.42" y="253.07" width="4.86" height="4.57" fill="#00f0f0"/><rect x="259.28" y="253.07" width="4.86" height="4.57" fill="#00f0f0"/><rect x="264.14" y="253.07" width="4.86" height="4.57" fill="#26ee8c"/><rect x="269.00" y="253.07" width="4.86" height="4.57" fill="#b0f030"/><rect x="273.86" y="253.07" width="4.86" height="4.57" fill="#ffbf00"/><rect x="278.72" y="253.07" width="4.86" height="4.57" fill="#ff7400"/><rect x="283.58" y="253.07" width="4.86" height="4.57" fill="#ff7400"/><rect x="288.44" y="253.07" width="4.86" height="4.57" fill="#ffbf00"/><rect x="293.30" y="253.07" width="4.86" height="4.57" fill="#ff7400"/><rect x="298.16" y="253.07" width="4.86" height="4.57" fill="#f80000"/><rect x="303.02" y="253.07" width="4.86" height="4.57" fill="#9a0000"/><rect x="196.10" y="257.63" width="4.86" height="4.57" fill="#26ee8c"/><rect x="200.96" y="257.63" width="4.86" height="4.57" fill="#ffbf00"/><rect x="205.82" y="257.63" width="4.86" height="4.57" fill="#b0f030"/><rect x="210.68" y="257.63" width="4.86" height="4.57" fill="#ffe800"/><rect x="215.54" y="257.63" width="4.86" height="4.57" fill="#ffbf00"/><rect x="220.40" y="257.63" width="4.86" height="4.57" fill="#b0f030"/><rect x="225.26" y="257.63" width="4.86" height="4.57" fill="#b0f030"/><rect x="230.12" y="257.63" width="4.86" height="4.57" fill="#26ee8c"/><rect x="234.98" y="257.63" width="4.86" height="4.57" fill="#00f0f0"/><rect x="239.84" y="257.63" width="4.86" height="4.57" fill="#b0f030"/><rect x="244.70" y="257.63" width="4.86" height="4.57" fill="#26ee8c"/><rect x="249.56" y="257.63" width="4.86" height="4.57" fill="#26ee8c"/><rect x="254.42" y="257.63" width="4.86" height="4.57" fill="#00f0f0"/><rect x="259.28" y="257.63" width="4.86" height="4.57" fill="#26ee8c"/><rect x="264.14" y="257.63" width="4.86" height="4.57" fill="#b0f030"/><rect x="269.00" y="257.63" width="4.86" height="4.57" fill="#ffe800"/><rect x="273.86" y="257.63" width="4.86" height="4.57" fill="#ff7400"/><rect x="278.72" y="257.63" width="4.86" height="4.57" fill="#ffbf00"/><rect x="283.58" y="257.63" width="4.86" height="4.57" fill="#ffbf00"/><rect x="288.44" y="257.63" width="4.86" height="4.57" fill="#b0f030"/><rect x="293.30" y="257.63" width="4.86" height="4.57" fill="#ffbf00"/><rect x="298.16" y="257.63" width="4.86" height="4.57" fill="#ff5000"/><rect x="303.02" y="257.63" width="4.86" height="4.57" fill="#f80000"/><rect x="307.88" y="257.63" width="4.86" height="4.57" fill="#9a0000"/><rect x="196.10" y="262.20" width="4.86" height="4.57" fill="#26ee8c"/><rect x="200.96" y="262.20" width="4.86" height="4.57" fill="#ffe800"/><rect x="205.82" y="262.20" width="4.86" height="4.57" fill="#26ee8c"/><rect x="210.68" y="262.20" width="4.86" height="4.57" fill="#ffe800"/><rect x="215.54" y="262.20" width="4.86" height="4.57" fill="#ffe800"/><rect x="220.40" y="262.20" width="4.86" height="4.57" fill="#b0f030"/><rect x="225.26" y="262.20" width="4.86" height="4.57" fill="#b0f030"/><rect x="230.12" y="262.20" width="4.86" height="4.57" fill="#26ee8c"/><rect x="234.98" y="262.20" width="4.86" height="4.57" fill="#26ee8c"/><rect x="239.84" y="262.20" width="4.86" height="4.57" fill="#26ee8c"/><rect x="244.70" y="262.20" width="4.86" height="4.57" fill="#26ee8c"/><rect x="249.56" y="262.20" width="4.86" height="4.57" fill="#26ee8c"/><rect x="254.42" y="262.20" width="4.86" height="4.57" fill="#00f0f0"/><rect x="259.28" y="262.20" width="4.86" height="4.57" fill="#26ee8c"/><rect x="264.14" y="262.20" width="4.86" height="4.57" fill="#b0f030"/><rect x="269.00" y="262.20" width="4.86" height="4.57" fill="#ffe800"/><rect x="273.86" y="262.20" width="4.86" height="4.57" fill="#ff7400"/><rect x="278.72" y="262.20" width="4.86" height="4.57" fill="#ffbf00"/><rect x="283.58" y="262.20" width="4.86" height="4.57" fill="#ffbf00"/><rect x="288.44" y="262.20" width="4.86" height="4.57" fill="#ffe800"/><rect x="293.30" y="262.20" width="4.86" height="4.57" fill="#ffbf00"/><rect x="298.16" y="262.20" width="4.86" height="4.57" fill="#ff5000"/><rect x="303.02" y="262.20" width="4.86" height="4.57" fill="#f80000"/><rect x="307.88" y="262.20" width="4.86" height="4.57" fill="#f80000"/><rect x="312.74" y="262.20" width="4.86" height="4.57" fill="#9a0000"/><rect x="196.10" y="266.77" width="4.86" height="4.57" fill="#ffe800"/><rect x="200.96" y="266.77" width="4.86" height="4.57" fill="#ff5000"/><rect x="205.82" y="266.77" width="4.86" height="4.57" fill="#ffe800"/><rect x="210.68" y="266.77" width="4.86" height="4.57" fill="#ff5000"/><rect x="215.54" y="266.77" width="4.86" height="4.57" fill="#ff5000"/><rect x="220.40" y="266.77" width="4.86" height="4.57" fill="#ffe800"/><rect x="225.26" y="266.77" width="4.86" height="4.57" fill="#ffe800"/><rect x="230.12" y="266.77" width="4.86" height="4.57" fill="#ffe800"/><rect x="234.98" y="266.77" width="4.86" height="4.57" fill="#b0f030"/><rect x="239.84" y="266.77" width="4.86" height="4.57" fill="#ffe800"/><rect x="244.70" y="266.77" width="4.86" height="4.57" fill="#ffe800"/><rect x="249.56" y="266.77" width="4.86" height="4.57" fill="#b0f030"/><rect x="254.42" y="266.77" width="4.86" height="4.57" fill="#b0f030"/><rect x="259.28" y="266.77" width="4.86" height="4.57" fill="#b0f030"/><rect x="264.14" y="266.77" width="4.86" height="4.57" fill="#ffe800"/><rect x="269.00" y="266.77" width="4.86" height="4.57" fill="#ffe800"/><rect x="273.86" y="266.77" width="4.86" height="4.57" fill="#f80000"/><rect x="278.72" y="266.77" width="4.86" height="4.57" fill="#ffe800"/><rect x="283.58" y="266.77" width="4.86" height="4.57" fill="#ffe800"/><rect x="288.44" y="266.77" width="4.86" height="4.57" fill="#26ee8c"/><rect x="293.30" y="266.77" width="4.86" height="4.57" fill="#ffe800"/><rect x="298.16" y="266.77" width="4.86" height="4.57" fill="#ffbf00"/><rect x="303.02" y="266.77" width="4.86" height="4.57" fill="#ff5000"/><rect x="307.88" y="266.77" width="4.86" height="4.57" fill="#f80000"/><rect x="312.74" y="266.77" width="4.86" height="4.57" fill="#f80000"/><rect x="317.60" y="266.77" width="4.86" height="4.57" fill="#9a0000"/><rect x="196.10" y="271.33" width="4.86" height="4.57" fill="#ffbf00"/><rect x="200.96" y="271.33" width="4.86" height="4.57" fill="#ff5000"/><rect x="205.82" y="271.33" width="4.86" height="4.57" fill="#ffbf00"/><rect x="210.68" y="271.33" width="4.86" height="4.57" fill="#ff5000"/><rect x="215.54" y="271.33" width="4.86" height="4.57" fill="#ff5000"/><rect x="220.40" y="271.33" width="4.86" height="4.57" fill="#ffbf00"/><rect x="225.26" y="271.33" width="4.86" height="4.57" fill="#ffbf00"/><rect x="230.12" y="271.33" width="4.86" height="4.57" fill="#ffbf00"/><rect x="234.98" y="271.33" width="4.86" height="4.57" fill="#ff5000"/><rect x="239.84" y="271.33" width="4.86" height="4.57" fill="#ffbf00"/><rect x="244.70" y="271.33" width="4.86" height="4.57" fill="#ffbf00"/><rect x="249.56" y="271.33" width="4.86" height="4.57" fill="#ffe800"/><rect x="254.42" y="271.33" width="4.86" height="4.57" fill="#ffe800"/><rect x="259.28" y="271.33" width="4.86" height="4.57" fill="#ffe800"/><rect x="264.14" y="271.33" width="4.86" height="4.57" fill="#ffbf00"/><rect x="269.00" y="271.33" width="4.86" height="4.57" fill="#ff5000"/><rect x="273.86" y="271.33" width="4.86" height="4.57" fill="#f80000"/><rect x="278.72" y="271.33" width="4.86" height="4.57" fill="#26ee8c"/><rect x="283.58" y="271.33" width="4.86" height="4.57" fill="#26ee8c"/><rect x="288.44" y="271.33" width="4.86" height="4.57" fill="#00f0f0"/><rect x="293.30" y="271.33" width="4.86" height="4.57" fill="#26ee8c"/><rect x="298.16" y="271.33" width="4.86" height="4.57" fill="#ffbf00"/><rect x="303.02" y="271.33" width="4.86" height="4.57" fill="#ffbf00"/><rect x="307.88" y="271.33" width="4.86" height="4.57" fill="#ff5000"/><rect x="312.74" y="271.33" width="4.86" height="4.57" fill="#ff5000"/><rect x="317.60" y="271.33" width="4.86" height="4.57" fill="#f80000"/><rect x="322.46" y="271.33" width="4.86" height="4.57" fill="#9a0000"/><rect x="196.10" y="275.90" width="4.86" height="4.57" fill="#f80000"/><rect x="200.96" y="275.90" width="4.86" height="4.57" fill="#ffe800"/><rect x="205.82" y="275.90" width="4.86" height="4.57" fill="#ffe800"/><rect x="210.68" y="275.90" width="4.86" height="4.57" fill="#ffe800"/><rect x="215.54" y="275.90" width="4.86" height="4.57" fill="#ffe800"/><rect x="220.40" y="275.90" width="4.86" height="4.57" fill="#ffbf00"/><rect x="225.26" y="275.90" width="4.86" height="4.57" fill="#ffbf00"/><rect x="230.12" y="275.90" width="4.86" height="4.57" fill="#ff5000"/><rect x="234.98" y="275.90" width="4.86" height="4.57" fill="#ff5000"/><rect x="239.84" y="275.90" width="4.86" height="4.57" fill="#f80000"/><rect x="244.70" y="275.90" width="4.86" height="4.57" fill="#f80000"/><rect x="249.56" y="275.90" width="4.86" height="4.57" fill="#ff5000"/><rect x="254.42" y="275.90" width="4.86" height="4.57" fill="#ff5000"/><rect x="259.28" y="275.90" width="4.86" height="4.57" fill="#ff5000"/><rect x="264.14" y="275.90" width="4.86" height="4.57" fill="#ff5000"/><rect x="269.00" y="275.90" width="4.86" height="4.57" fill="#ff5000"/><rect x="273.86" y="275.90" width="4.86" height="4.57" fill="#f80000"/><rect x="278.72" y="275.90" width="4.86" height="4.57" fill="#00f0f0"/><rect x="283.58" y="275.90" width="4.86" height="4.57" fill="#00f0f0"/><rect x="288.44" y="275.90" width="4.86" height="4.57" fill="#006cff"/><rect x="293.30" y="275.90" width="4.86" height="4.57" fill="#00f0f0"/><rect x="298.16" y="275.90" width="4.86" height="4.57" fill="#b0f030"/><rect x="303.02" y="275.90" width="4.86" height="4.57" fill="#ffe800"/><rect x="307.88" y="275.90" width="4.86" height="4.57" fill="#ffe800"/><rect x="312.74" y="275.90" width="4.86" height="4.57" fill="#ffbf00"/><rect x="317.60" y="275.90" width="4.86" height="4.57" fill="#ff7400"/><rect x="322.46" y="275.90" width="4.86" height="4.57" fill="#f80000"/><rect x="327.32" y="275.90" width="4.86" height="4.57" fill="#9a0000"/><rect x="196.10" y="280.47" width="4.86" height="4.57" fill="#ff5000"/><rect x="200.96" y="280.47" width="4.86" height="4.57" fill="#b0f030"/><rect x="205.82" y="280.47" width="4.86" height="4.57" fill="#b0f030"/><rect x="210.68" y="280.47" width="4.86" height="4.57" fill="#b0f030"/><rect x="215.54" y="280.47" width="4.86" height="4.57" fill="#b0f030"/><rect x="220.40" y="280.47" width="4.86" height="4.57" fill="#ffe800"/><rect x="225.26" y="280.47" width="4.86" height="4.57" fill="#ffe800"/><rect x="230.12" y="280.47" width="4.86" height="4.57" fill="#ffbf00"/><rect x="234.98" y="280.47" width="4.86" height="4.57" fill="#ff5000"/><rect x="239.84" y="280.47" width="4.86" height="4.57" fill="#f80000"/><rect x="244.70" y="280.47" width="4.86" height="4.57" fill="#f80000"/><rect x="249.56" y="280.47" width="4.86" height="4.57" fill="#ff5000"/><rect x="254.42" y="280.47" width="4.86" height="4.57" fill="#ff7400"/><rect x="259.28" y="280.47" width="4.86" height="4.57" fill="#ff7400"/><rect x="264.14" y="280.47" width="4.86" height="4.57" fill="#ff5000"/><rect x="269.00" y="280.47" width="4.86" height="4.57" fill="#ff5000"/><rect x="273.86" y="280.47" width="4.86" height="4.57" fill="#f80000"/><rect x="278.72" y="280.47" width="4.86" height="4.57" fill="#00f0f0"/><rect x="283.58" y="280.47" width="4.86" height="4.57" fill="#00f0f0"/><rect x="288.44" y="280.47" width="4.86" height="4.57" fill="#006cff"/><rect x="293.30" y="280.47" width="4.86" height="4.57" fill="#00f0f0"/><rect x="298.16" y="280.47" width="4.86" height="4.57" fill="#b0f030"/><rect x="303.02" y="280.47" width="4.86" height="4.57" fill="#ffe800"/><rect x="307.88" y="280.47" width="4.86" height="4.57" fill="#ffe800"/><rect x="312.74" y="280.47" width="4.86" height="4.57" fill="#ffe800"/><rect x="317.60" y="280.47" width="4.86" height="4.57" fill="#ffbf00"/><rect x="322.46" y="280.47" width="4.86" height="4.57" fill="#f80000"/><rect x="327.32" y="280.47" width="4.86" height="4.57" fill="#9a0000"/><rect x="332.18" y="280.47" width="4.86" height="4.57" fill="#9a0000"/><rect x="196.10" y="285.03" width="4.86" height="4.57" fill="#f80000"/><rect x="200.96" y="285.03" width="4.86" height="4.57" fill="#ffbf00"/><rect x="205.82" y="285.03" width="4.86" height="4.57" fill="#ffbf00"/><rect x="210.68" y="285.03" width="4.86" height="4.57" fill="#b0f030"/><rect x="215.54" y="285.03" width="4.86" height="4.57" fill="#ffbf00"/><rect x="220.40" y="285.03" width="4.86" height="4.57" fill="#ff5000"/><rect x="225.26" y="285.03" width="4.86" height="4.57" fill="#ff5000"/><rect x="230.12" y="285.03" width="4.86" height="4.57" fill="#ff5000"/><rect x="234.98" y="285.03" width="4.86" height="4.57" fill="#f80000"/><rect x="239.84" y="285.03" width="4.86" height="4.57" fill="#f80000"/><rect x="244.70" y="285.03" width="4.86" height="4.57" fill="#f80000"/><rect x="249.56" y="285.03" width="4.86" height="4.57" fill="#ff5000"/><rect x="254.42" y="285.03" width="4.86" height="4.57" fill="#ff5000"/><rect x="259.28" y="285.03" width="4.86" height="4.57" fill="#ff5000"/><rect x="264.14" y="285.03" width="4.86" height="4.57" fill="#ff5000"/><rect x="269.00" y="285.03" width="4.86" height="4.57" fill="#ff5000"/><rect x="273.86" y="285.03" width="4.86" height="4.57" fill="#f80000"/><rect x="278.72" y="285.03" width="4.86" height="4.57" fill="#00f0f0"/><rect x="283.58" y="285.03" width="4.86" height="4.57" fill="#00f0f0"/><rect x="288.44" y="285.03" width="4.86" height="4.57" fill="#006cff"/><rect x="293.30" y="285.03" width="4.86" height="4.57" fill="#00f0f0"/><rect x="298.16" y="285.03" width="4.86" height="4.57" fill="#b0f030"/><rect x="303.02" y="285.03" width="4.86" height="4.57" fill="#ffe800"/><rect x="307.88" y="285.03" width="4.86" height="4.57" fill="#ffe800"/><rect x="312.74" y="285.03" width="4.86" height="4.57" fill="#ffe800"/><rect x="317.60" y="285.03" width="4.86" height="4.57" fill="#ffbf00"/><rect x="322.46" y="285.03" width="4.86" height="4.57" fill="#f80000"/><rect x="327.32" y="285.03" width="4.86" height="4.57" fill="#f80000"/><rect x="332.18" y="285.03" width="4.86" height="4.57" fill="#f80000"/><rect x="337.04" y="285.03" width="4.86" height="4.57" fill="#9a0000"/></g>
<g font-family="Liberation Serif, serif" font-weight="bold" font-size="3.1" fill="#222" text-rendering="geometricPrecision" text-anchor="start"><text x="187.10" y="156.41">YE 13</text><text x="187.10" y="160.97">YE 12</text><text x="187.10" y="165.54">YE 10</text><text x="187.10" y="170.11">YE 8</text><text x="187.10" y="174.67">YE 11</text><text x="187.10" y="179.24">YE 4</text><text x="187.10" y="183.81">YE 2</text><text x="187.10" y="188.37">YE 5</text><text x="187.10" y="192.94">YE 6</text><text x="187.10" y="197.51">YE 20</text><text x="187.10" y="202.07">YE 19</text><text x="187.10" y="206.64">YE 15</text><text x="187.10" y="211.21">YE 14</text><text x="187.10" y="215.77">YE 7</text><text x="187.10" y="220.34">YE 3</text><text x="187.10" y="224.91">YE 1</text><text x="187.10" y="229.47">YE 9</text><text x="187.10" y="234.04">YE 28</text><text x="187.10" y="238.61">YE 29</text><text x="187.10" y="243.17">YE 26</text><text x="187.10" y="247.74">YE 24</text><text x="187.10" y="252.31">YE 27</text><text x="187.10" y="256.87">YE 21</text><text x="187.10" y="261.44">YE 22</text><text x="187.10" y="266.01">YE 23</text><text x="187.10" y="270.57">YE 25</text><text x="187.10" y="275.14">YE 30</text><text x="187.10" y="279.71">YE 16</text><text x="187.10" y="284.27">YE 17</text><text x="187.10" y="288.84">YE 18</text></g>
<g font-family="Liberation Serif, serif" font-weight="bold" font-size="3.1" fill="#222" text-rendering="geometricPrecision" text-anchor="start"><text transform="translate(200.02,299.90) rotate(-90)">YE 13</text><text transform="translate(204.88,299.90) rotate(-90)">YE 12</text><text transform="translate(209.74,299.90) rotate(-90)">YE 10</text><text transform="translate(214.60,299.90) rotate(-90)">YE 8</text><text transform="translate(219.46,299.90) rotate(-90)">YE 11</text><text transform="translate(224.31,299.90) rotate(-90)">YE 4</text><text transform="translate(229.18,299.90) rotate(-90)">YE 2</text><text transform="translate(234.04,299.90) rotate(-90)">YE 5</text><text transform="translate(238.90,299.90) rotate(-90)">YE 6</text><text transform="translate(243.75,299.90) rotate(-90)">YE 20</text><text transform="translate(248.62,299.90) rotate(-90)">YE 19</text><text transform="translate(253.48,299.90) rotate(-90)">YE 15</text><text transform="translate(258.33,299.90) rotate(-90)">YE 14</text><text transform="translate(263.19,299.90) rotate(-90)">YE 7</text><text transform="translate(268.05,299.90) rotate(-90)">YE 3</text><text transform="translate(272.91,299.90) rotate(-90)">YE 1</text><text transform="translate(277.77,299.90) rotate(-90)">YE 9</text><text transform="translate(282.63,299.90) rotate(-90)">YE 28</text><text transform="translate(287.49,299.90) rotate(-90)">YE 29</text><text transform="translate(292.35,299.90) rotate(-90)">YE 26</text><text transform="translate(297.21,299.90) rotate(-90)">YE 24</text><text transform="translate(302.07,299.90) rotate(-90)">YE 27</text><text transform="translate(306.93,299.90) rotate(-90)">YE 21</text><text transform="translate(311.79,299.90) rotate(-90)">YE 22</text><text transform="translate(316.65,299.90) rotate(-90)">YE 23</text><text transform="translate(321.51,299.90) rotate(-90)">YE 25</text><text transform="translate(326.37,299.90) rotate(-90)">YE 30</text><text transform="translate(331.23,299.90) rotate(-90)">YE 16</text><text transform="translate(336.09,299.90) rotate(-90)">YE 17</text><text transform="translate(340.95,299.90) rotate(-90)">YE 18</text></g>
<text x="344.9" y="156.7" font-family="Liberation Serif, serif" font-weight="bold" font-size="6.1" fill="#111" stroke="#111" stroke-width="0.2">YE</text>
<defs><linearGradient id="jetYE" x1="0" y1="1" x2="0" y2="0"><stop offset="0" stop-color="#00008f"/><stop offset="0.14" stop-color="#0000ff"/><stop offset="0.26" stop-color="#0080ff"/><stop offset="0.37" stop-color="#00ffff"/><stop offset="0.48" stop-color="#80ff80"/><stop offset="0.6" stop-color="#ffff00"/><stop offset="0.73" stop-color="#ff8000"/><stop offset="0.86" stop-color="#ff0000"/><stop offset="1" stop-color="#800000"/></linearGradient></defs>
<rect x="346.2" y="197.2" width="6.00" height="36.40" fill="url(#jetYE)"/>
<g stroke="#444" stroke-width="0.35" font-family="Liberation Serif, serif" font-size="2.0" fill="#333" text-rendering="geometricPrecision"><line x1="351.60" y1="198.40" x2="352.70" y2="198.40"/><text x="354.50" y="199.10" stroke="none" textLength="3.8" lengthAdjust="spacingAndGlyphs">100.0</text><line x1="351.60" y1="201.78" x2="352.70" y2="201.78"/><text x="354.50" y="202.48" stroke="none" textLength="3.8" lengthAdjust="spacingAndGlyphs">100.0</text><line x1="351.60" y1="205.16" x2="352.70" y2="205.16"/><text x="354.50" y="205.86" stroke="none" textLength="3.8" lengthAdjust="spacingAndGlyphs">100.0</text><line x1="351.60" y1="208.54" x2="352.70" y2="208.54"/><text x="354.50" y="209.24" stroke="none" textLength="3.8" lengthAdjust="spacingAndGlyphs">99.5</text><line x1="351.60" y1="211.92" x2="352.70" y2="211.92"/><text x="354.50" y="212.62" stroke="none" textLength="3.8" lengthAdjust="spacingAndGlyphs">99.0</text><line x1="351.60" y1="215.30" x2="352.70" y2="215.30"/><text x="354.50" y="216.00" stroke="none" textLength="3.8" lengthAdjust="spacingAndGlyphs">98.5</text><line x1="351.60" y1="218.68" x2="352.70" y2="218.68"/><text x="354.50" y="219.38" stroke="none" textLength="3.8" lengthAdjust="spacingAndGlyphs">98.0</text><line x1="351.60" y1="222.06" x2="352.70" y2="222.06"/><text x="354.50" y="222.76" stroke="none" textLength="3.8" lengthAdjust="spacingAndGlyphs">97.5</text><line x1="351.60" y1="225.44" x2="352.70" y2="225.44"/><text x="354.50" y="226.14" stroke="none" textLength="3.8" lengthAdjust="spacingAndGlyphs">97.0</text><line x1="351.60" y1="228.82" x2="352.70" y2="228.82"/><text x="354.50" y="229.52" stroke="none" textLength="3.8" lengthAdjust="spacingAndGlyphs">96.5</text><line x1="351.60" y1="232.20" x2="352.70" y2="232.20"/><text x="354.50" y="232.90" stroke="none" textLength="3.8" lengthAdjust="spacingAndGlyphs">96.0</text></g>
<text x="310.7" y="189.3" font-family="Liberation Serif, serif" font-weight="bold" font-size="6.6" fill="#111" stroke="#111" stroke-width="0.05" textLength="54.0" lengthAdjust="spacingAndGlyphs">Pairwise identity (%)</text>
<line x1="216.3" y1="152.7" x2="269.1" y2="200.9" stroke="#f6782a" stroke-width="1.2"/>
<line x1="272.8" y1="203.9" x2="305.5" y2="234.3" stroke="#2e86e6" stroke-width="1.2"/>
<line x1="309.3" y1="237.9" x2="349.0" y2="275.3" stroke="#fab418" stroke-width="1.2"/>
<text transform="translate(249.08,172.32) rotate(45)" font-family="Liberation Sans, sans-serif" font-weight="bold" font-size="5.6" fill="#111" stroke="#111" stroke-width="0.3" text-anchor="middle" letter-spacing="0.6">I</text>
<text transform="translate(293.48,215.22) rotate(45)" font-family="Liberation Sans, sans-serif" font-weight="bold" font-size="5.6" fill="#111" stroke="#111" stroke-width="0.3" text-anchor="middle" letter-spacing="0.6">II</text>
<text transform="translate(332.88,253.22) rotate(45)" font-family="Liberation Sans, sans-serif" font-weight="bold" font-size="5.6" fill="#111" stroke="#111" stroke-width="0.3" text-anchor="middle" letter-spacing="0.6">III</text>
<g stroke="#000" stroke-width="0.6" stroke-opacity="0.4"><rect x="377.80" y="154.00" width="5.01" height="4.71" fill="#9a0000"/><rect x="377.80" y="158.71" width="5.01" height="4.71" fill="#ffbf00"/><rect x="382.81" y="158.71" width="5.01" height="4.71" fill="#9a0000"/><rect x="377.80" y="163.41" width="5.01" height="4.71" fill="#ff5000"/><rect x="382.81" y="163.41" width="5.01" height="4.71" fill="#ff7400"/><rect x="387.83" y="163.41" width="5.01" height="4.71" fill="#9a0000"/><rect x="377.80" y="168.12" width="5.01" height="4.71" fill="#ff7400"/><rect x="382.81" y="168.12" width="5.01" height="4.71" fill="#ffbf00"/><rect x="387.83" y="168.12" width="5.01" height="4.71" fill="#f80000"/><rect x="392.84" y="168.12" width="5.01" height="4.71" fill="#9a0000"/><rect x="377.80" y="172.83" width="5.01" height="4.71" fill="#ff5000"/><rect x="382.81" y="172.83" width="5.01" height="4.71" fill="#f80000"/><rect x="387.83" y="172.83" width="5.01" height="4.71" fill="#f80000"/><rect x="392.84" y="172.83" width="5.01" height="4.71" fill="#f80000"/><rect x="397.86" y="172.83" width="5.01" height="4.71" fill="#9a0000"/><rect x="377.80" y="177.53" width="5.01" height="4.71" fill="#ffe800"/><rect x="382.81" y="177.53" width="5.01" height="4.71" fill="#ffbf00"/><rect x="387.83" y="177.53" width="5.01" height="4.71" fill="#f80000"/><rect x="392.84" y="177.53" width="5.01" height="4.71" fill="#f80000"/><rect x="397.86" y="177.53" width="5.01" height="4.71" fill="#f80000"/><rect x="402.87" y="177.53" width="5.01" height="4.71" fill="#9a0000"/><rect x="377.80" y="182.24" width="5.01" height="4.71" fill="#ffbf00"/><rect x="382.81" y="182.24" width="5.01" height="4.71" fill="#ff7400"/><rect x="387.83" y="182.24" width="5.01" height="4.71" fill="#ff7400"/><rect x="392.84" y="182.24" width="5.01" height="4.71" fill="#ffbf00"/><rect x="397.86" y="182.24" width="5.01" height="4.71" fill="#ff5000"/><rect x="402.87" y="182.24" width="5.01" height="4.71" fill="#ffbf00"/><rect x="407.88" y="182.24" width="5.01" height="4.71" fill="#9a0000"/><rect x="377.80" y="186.95" width="5.01" height="4.71" fill="#ffbf00"/><rect x="382.81" y="186.95" width="5.01" height="4.71" fill="#ff7400"/><rect x="387.83" y="186.95" width="5.01" height="4.71" fill="#ff7400"/><rect x="392.84" y="186.95" width="5.01" height="4.71" fill="#ffbf00"/><rect x="397.86" y="186.95" width="5.01" height="4.71" fill="#ff5000"/><rect x="402.87" y="186.95" width="5.01" height="4.71" fill="#ff5000"/><rect x="407.88" y="186.95" width="5.01" height="4.71" fill="#f80000"/><rect x="412.90" y="186.95" width="5.01" height="4.71" fill="#9a0000"/><rect x="377.80" y="191.66" width="5.01" height="4.71" fill="#ffbf00"/><rect x="382.81" y="191.66" width="5.01" height="4.71" fill="#ff7400"/><rect x="387.83" y="191.66" width="5.01" height="4.71" fill="#ff7400"/><rect x="392.84" y="191.66" width="5.01" height="4.71" fill="#ffbf00"/><rect x="397.86" y="191.66" width="5.01" height="4.71" fill="#ff5000"/><rect x="402.87" y="191.66" width="5.01" height="4.71" fill="#ff5000"/><rect x="407.88" y="191.66" width="5.01" height="4.71" fill="#f80000"/><rect x="412.90" y="191.66" width="5.01" height="4.71" fill="#9a0000"/><rect x="417.91" y="191.66" width="5.01" height="4.71" fill="#9a0000"/><rect x="377.80" y="196.36" width="5.01" height="4.71" fill="#ffbf00"/><rect x="382.81" y="196.36" width="5.01" height="4.71" fill="#ff7400"/><rect x="387.83" y="196.36" width="5.01" height="4.71" fill="#ff7400"/><rect x="392.84" y="196.36" width="5.01" height="4.71" fill="#ffbf00"/><rect x="397.86" y="196.36" width="5.01" height="4.71" fill="#ff5000"/><rect x="402.87" y="196.36" width="5.01" height="4.71" fill="#ff5000"/><rect x="407.88" y="196.36" width="5.01" height="4.71" fill="#f80000"/><rect x="412.90" y="196.36" width="5.01" height="4.71" fill="#9a0000"/><rect x="417.91" y="196.36" width="5.01" height="4.71" fill="#9a0000"/><rect x="422.92" y="196.36" width="5.01" height="4.71" fill="#9a0000"/><rect x="377.80" y="201.07" width="5.01" height="4.71" fill="#ffbf00"/><rect x="382.81" y="201.07" width="5.01" height="4.71" fill="#ff7400"/><rect x="387.83" y="201.07" width="5.01" height="4.71" fill="#ff7400"/><rect x="392.84" y="201.07" width="5.01" height="4.71" fill="#ffbf00"/><rect x="397.86" y="201.07" width="5.01" height="4.71" fill="#ff5000"/><rect x="402.87" y="201.07" width="5.01" height="4.71" fill="#ff5000"/><rect x="407.88" y="201.07" width="5.01" height="4.71" fill="#f80000"/><rect x="412.90" y="201.07" width="5.01" height="4.71" fill="#9a0000"/><rect x="417.91" y="201.07" width="5.01" height="4.71" fill="#9a0000"/><rect x="422.92" y="201.07" width="5.01" height="4.71" fill="#9a0000"/><rect x="427.94" y="201.07" width="5.01" height="4.71" fill="#9a0000"/><rect x="377.80" y="205.78" width="5.01" height="4.71" fill="#ffe800"/><rect x="382.81" y="205.78" width="5.01" height="4.71" fill="#ffbf00"/><rect x="387.83" y="205.78" width="5.01" height="4.71" fill="#ffbf00"/><rect x="392.84" y="205.78" width="5.01" height="4.71" fill="#ffe800"/><rect x="397.86" y="205.78" width="5.01" height="4.71" fill="#ff7400"/><rect x="402.87" y="205.78" width="5.01" height="4.71" fill="#ff7400"/><rect x="407.88" y="205.78" width="5.01" height="4.71" fill="#f80000"/><rect x="412.90" y="205.78" width="5.01" height="4.71" fill="#f80000"/><rect x="417.91" y="205.78" width="5.01" height="4.71" fill="#f80000"/><rect x="422.92" y="205.78" width="5.01" height="4.71" fill="#f80000"/><rect x="427.94" y="205.78" width="5.01" height="4.71" fill="#f80000"/><rect x="432.95" y="205.78" width="5.01" height="4.71" fill="#9a0000"/><rect x="377.80" y="210.48" width="5.01" height="4.71" fill="#ffe800"/><rect x="382.81" y="210.48" width="5.01" height="4.71" fill="#ffbf00"/><rect x="387.83" y="210.48" width="5.01" height="4.71" fill="#ffbf00"/><rect x="392.84" y="210.48" width="5.01" height="4.71" fill="#ffe800"/><rect x="397.86" y="210.48" width="5.01" height="4.71" fill="#ff7400"/><rect x="402.87" y="210.48" width="5.01" height="4.71" fill="#ff7400"/><rect x="407.88" y="210.48" width="5.01" height="4.71" fill="#f80000"/><rect x="412.90" y="210.48" width="5.01" height="4.71" fill="#f80000"/><rect x="417.91" y="210.48" width="5.01" height="4.71" fill="#f80000"/><rect x="422.92" y="210.48" width="5.01" height="4.71" fill="#f80000"/><rect x="427.94" y="210.48" width="5.01" height="4.71" fill="#f80000"/><rect x="432.95" y="210.48" width="5.01" height="4.71" fill="#f80000"/><rect x="437.97" y="210.48" width="5.01" height="4.71" fill="#9a0000"/><rect x="377.80" y="215.19" width="5.01" height="4.71" fill="#ffe800"/><rect x="382.81" y="215.19" width="5.01" height="4.71" fill="#ffbf00"/><rect x="387.83" y="215.19" width="5.01" height="4.71" fill="#ffbf00"/><rect x="392.84" y="215.19" width="5.01" height="4.71" fill="#ffe800"/><rect x="397.86" y="215.19" width="5.01" height="4.71" fill="#ff7400"/><rect x="402.87" y="215.19" width="5.01" height="4.71" fill="#ff7400"/><rect x="407.88" y="215.19" width="5.01" height="4.71" fill="#f80000"/><rect x="412.90" y="215.19" width="5.01" height="4.71" fill="#f80000"/><rect x="417.91" y="215.19" width="5.01" height="4.71" fill="#f80000"/><rect x="422.92" y="215.19" width="5.01" height="4.71" fill="#f80000"/><rect x="427.94" y="215.19" width="5.01" height="4.71" fill="#f80000"/><rect x="432.95" y="215.19" width="5.01" height="4.71" fill="#f80000"/><rect x="437.97" y="215.19" width="5.01" height="4.71" fill="#f80000"/><rect x="442.98" y="215.19" width="5.01" height="4.71" fill="#9a0000"/><rect x="377.80" y="219.90" width="5.01" height="4.71" fill="#ffe800"/><rect x="382.81" y="219.90" width="5.01" height="4.71" fill="#ffbf00"/><rect x="387.83" y="219.90" width="5.01" height="4.71" fill="#ffbf00"/><rect x="392.84" y="219.90" width="5.01" height="4.71" fill="#ffe800"/><rect x="397.86" y="219.90" width="5.01" height="4.71" fill="#ff7400"/><rect x="402.87" y="219.90" width="5.01" height="4.71" fill="#ff7400"/><rect x="407.88" y="219.90" width="5.01" height="4.71" fill="#f80000"/><rect x="412.90" y="219.90" width="5.01" height="4.71" fill="#f80000"/><rect x="417.91" y="219.90" width="5.01" height="4.71" fill="#f80000"/><rect x="422.92" y="219.90" width="5.01" height="4.71" fill="#f80000"/><rect x="427.94" y="219.90" width="5.01" height="4.71" fill="#f80000"/><rect x="432.95" y="219.90" width="5.01" height="4.71" fill="#f80000"/><rect x="437.97" y="219.90" width="5.01" height="4.71" fill="#f80000"/><rect x="442.98" y="219.90" width="5.01" height="4.71" fill="#f80000"/><rect x="447.99" y="219.90" width="5.01" height="4.71" fill="#9a0000"/><rect x="377.80" y="224.60" width="5.01" height="4.71" fill="#ffe800"/><rect x="382.81" y="224.60" width="5.01" height="4.71" fill="#ffbf00"/><rect x="387.83" y="224.60" width="5.01" height="4.71" fill="#ffbf00"/><rect x="392.84" y="224.60" width="5.01" height="4.71" fill="#ffe800"/><rect x="397.86" y="224.60" width="5.01" height="4.71" fill="#ff5000"/><rect x="402.87" y="224.60" width="5.01" height="4.71" fill="#ff7400"/><rect x="407.88" y="224.60" width="5.01" height="4.71" fill="#f80000"/><rect x="412.90" y="224.60" width="5.01" height="4.71" fill="#f80000"/><rect x="417.91" y="224.60" width="5.01" height="4.71" fill="#f80000"/><rect x="422.92" y="224.60" width="5.01" height="4.71" fill="#f80000"/><rect x="427.94" y="224.60" width="5.01" height="4.71" fill="#f80000"/><rect x="432.95" y="224.60" width="5.01" height="4.71" fill="#f80000"/><rect x="437.97" y="224.60" width="5.01" height="4.71" fill="#f80000"/><rect x="442.98" y="224.60" width="5.01" height="4.71" fill="#f80000"/><rect x="447.99" y="224.60" width="5.01" height="4.71" fill="#f80000"/><rect x="453.01" y="224.60" width="5.01" height="4.71" fill="#9a0000"/><rect x="377.80" y="229.31" width="5.01" height="4.71" fill="#00aaff"/><rect x="382.81" y="229.31" width="5.01" height="4.71" fill="#0008ff"/><rect x="387.83" y="229.31" width="5.01" height="4.71" fill="#006cff"/><rect x="392.84" y="229.31" width="5.01" height="4.71" fill="#006cff"/><rect x="397.86" y="229.31" width="5.01" height="4.71" fill="#006cff"/><rect x="402.87" y="229.31" width="5.01" height="4.71" fill="#0008ff"/><rect x="407.88" y="229.31" width="5.01" height="4.71" fill="#0008ff"/><rect x="412.90" y="229.31" width="5.01" height="4.71" fill="#000090"/><rect x="417.91" y="229.31" width="5.01" height="4.71" fill="#000090"/><rect x="422.92" y="229.31" width="5.01" height="4.71" fill="#000090"/><rect x="427.94" y="229.31" width="5.01" height="4.71" fill="#000090"/><rect x="432.95" y="229.31" width="5.01" height="4.71" fill="#000090"/><rect x="437.97" y="229.31" width="5.01" height="4.71" fill="#000090"/><rect x="442.98" y="229.31" width="5.01" height="4.71" fill="#000090"/><rect x="447.99" y="229.31" width="5.01" height="4.71" fill="#000090"/><rect x="453.01" y="229.31" width="5.01" height="4.71" fill="#000090"/><rect x="458.02" y="229.31" width="5.01" height="4.71" fill="#9a0000"/><rect x="377.80" y="234.02" width="5.01" height="4.71" fill="#00f0f0"/><rect x="382.81" y="234.02" width="5.01" height="4.71" fill="#0008ff"/><rect x="387.83" y="234.02" width="5.01" height="4.71" fill="#00aaff"/><rect x="392.84" y="234.02" width="5.01" height="4.71" fill="#006cff"/><rect x="397.86" y="234.02" width="5.01" height="4.71" fill="#006cff"/><rect x="402.87" y="234.02" width="5.01" height="4.71" fill="#0008ff"/><rect x="407.88" y="234.02" width="5.01" height="4.71" fill="#006cff"/><rect x="412.90" y="234.02" width="5.01" height="4.71" fill="#0008ff"/><rect x="417.91" y="234.02" width="5.01" height="4.71" fill="#0008ff"/><rect x="422.92" y="234.02" width="5.01" height="4.71" fill="#0008ff"/><rect x="427.94" y="234.02" width="5.01" height="4.71" fill="#000090"/><rect x="432.95" y="234.02" width="5.01" height="4.71" fill="#000090"/><rect x="437.97" y="234.02" width="5.01" height="4.71" fill="#000090"/><rect x="442.98" y="234.02" width="5.01" height="4.71" fill="#000090"/><rect x="447.99" y="234.02" width="5.01" height="4.71" fill="#000090"/><rect x="453.01" y="234.02" width="5.01" height="4.71" fill="#000090"/><rect x="458.02" y="234.02" width="5.01" height="4.71" fill="#f80000"/><rect x="463.03" y="234.02" width="5.01" height="4.71" fill="#9a0000"/><rect x="377.80" y="238.72" width="5.01" height="4.71" fill="#00f0f0"/><rect x="382.81" y="238.72" width="5.01" height="4.71" fill="#0008ff"/><rect x="387.83" y="238.72" width="5.01" height="4.71" fill="#00aaff"/><rect x="392.84" y="238.72" width="5.01" height="4.71" fill="#006cff"/><rect x="397.86" y="238.72" width="5.01" height="4.71" fill="#006cff"/><rect x="402.87" y="238.72" width="5.01" height="4.71" fill="#0008ff"/><rect x="407.88" y="238.72" width="5.01" height="4.71" fill="#006cff"/><rect x="412.90" y="238.72" width="5.01" height="4.71" fill="#0008ff"/><rect x="417.91" y="238.72" width="5.01" height="4.71" fill="#0008ff"/><rect x="422.92" y="238.72" width="5.01" height="4.71" fill="#0008ff"/><rect x="427.94" y="238.72" width="5.01" height="4.71" fill="#0008ff"/><rect x="432.95" y="238.72" width="5.01" height="4.71" fill="#0008ff"/><rect x="437.97" y="238.72" width="5.01" height="4.71" fill="#0008ff"/><rect x="442.98" y="238.72" width="5.01" height="4.71" fill="#0008ff"/><rect x="447.99" y="238.72" width="5.01" height="4.71" fill="#0008ff"/><rect x="453.01" y="238.72" width="5.01" height="4.71" fill="#0008ff"/><rect x="458.02" y="238.72" width="5.01" height="4.71" fill="#f80000"/><rect x="463.03" y="238.72" width="5.01" height="4.71" fill="#f80000"/><rect x="468.05" y="238.72" width="5.01" height="4.71" fill="#9a0000"/><rect x="377.80" y="243.43" width="5.01" height="4.71" fill="#26ee8c"/><rect x="382.81" y="243.43" width="5.01" height="4.71" fill="#006cff"/><rect x="387.83" y="243.43" width="5.01" height="4.71" fill="#00aaff"/><rect x="392.84" y="243.43" width="5.01" height="4.71" fill="#00aaff"/><rect x="397.86" y="243.43" width="5.01" height="4.71" fill="#00aaff"/><rect x="402.87" y="243.43" width="5.01" height="4.71" fill="#0008ff"/><rect x="407.88" y="243.43" width="5.01" height="4.71" fill="#0008ff"/><rect x="412.90" y="243.43" width="5.01" height="4.71" fill="#0008ff"/><rect x="417.91" y="243.43" width="5.01" height="4.71" fill="#0008ff"/><rect x="422.92" y="243.43" width="5.01" height="4.71" fill="#0008ff"/><rect x="427.94" y="243.43" width="5.01" height="4.71" fill="#0008ff"/><rect x="432.95" y="243.43" width="5.01" height="4.71" fill="#0008ff"/><rect x="437.97" y="243.43" width="5.01" height="4.71" fill="#0008ff"/><rect x="442.98" y="243.43" width="5.01" height="4.71" fill="#0008ff"/><rect x="447.99" y="243.43" width="5.01" height="4.71" fill="#0008ff"/><rect x="453.01" y="243.43" width="5.01" height="4.71" fill="#0008ff"/><rect x="458.02" y="243.43" width="5.01" height="4.71" fill="#f80000"/><rect x="463.03" y="243.43" width="5.01" height="4.71" fill="#f80000"/><rect x="468.05" y="243.43" width="5.01" height="4.71" fill="#f80000"/><rect x="473.06" y="243.43" width="5.01" height="4.71" fill="#9a0000"/><rect x="377.80" y="248.14" width="5.01" height="4.71" fill="#00f0f0"/><rect x="382.81" y="248.14" width="5.01" height="4.71" fill="#006cff"/><rect x="387.83" y="248.14" width="5.01" height="4.71" fill="#00aaff"/><rect x="392.84" y="248.14" width="5.01" height="4.71" fill="#00aaff"/><rect x="397.86" y="248.14" width="5.01" height="4.71" fill="#00aaff"/><rect x="402.87" y="248.14" width="5.01" height="4.71" fill="#006cff"/><rect x="407.88" y="248.14" width="5.01" height="4.71" fill="#0008ff"/><rect x="412.90" y="248.14" width="5.01" height="4.71" fill="#0008ff"/><rect x="417.91" y="248.14" width="5.01" height="4.71" fill="#0008ff"/><rect x="422.92" y="248.14" width="5.01" height="4.71" fill="#0008ff"/><rect x="427.94" y="248.14" width="5.01" height="4.71" fill="#0008ff"/><rect x="432.95" y="248.14" width="5.01" height="4.71" fill="#0008ff"/><rect x="437.97" y="248.14" width="5.01" height="4.71" fill="#0008ff"/><rect x="442.98" y="248.14" width="5.01" height="4.71" fill="#0008ff"/><rect x="447.99" y="248.14" width="5.01" height="4.71" fill="#0008ff"/><rect x="453.01" y="248.14" width="5.01" height="4.71" fill="#0008ff"/><rect x="458.02" y="248.14" width="5.01" height="4.71" fill="#f80000"/><rect x="463.03" y="248.14" width="5.01" height="4.71" fill="#f80000"/><rect x="468.05" y="248.14" width="5.01" height="4.71" fill="#f80000"/><rect x="473.06" y="248.14" width="5.01" height="4.71" fill="#f80000"/><rect x="478.08" y="248.14" width="5.01" height="4.71" fill="#9a0000"/><rect x="377.80" y="252.84" width="5.01" height="4.71" fill="#00f0f0"/><rect x="382.81" y="252.84" width="5.01" height="4.71" fill="#006cff"/><rect x="387.83" y="252.84" width="5.01" height="4.71" fill="#006cff"/><rect x="392.84" y="252.84" width="5.01" height="4.71" fill="#0008ff"/><rect x="397.86" y="252.84" width="5.01" height="4.71" fill="#006cff"/><rect x="402.87" y="252.84" width="5.01" height="4.71" fill="#0008ff"/><rect x="407.88" y="252.84" width="5.01" height="4.71" fill="#00aaff"/><rect x="412.90" y="252.84" width="5.01" height="4.71" fill="#0008ff"/><rect x="417.91" y="252.84" width="5.01" height="4.71" fill="#0008ff"/><rect x="422.92" y="252.84" width="5.01" height="4.71" fill="#0008ff"/><rect x="427.94" y="252.84" width="5.01" height="4.71" fill="#0008ff"/><rect x="432.95" y="252.84" width="5.01" height="4.71" fill="#006cff"/><rect x="437.97" y="252.84" width="5.01" height="4.71" fill="#006cff"/><rect x="442.98" y="252.84" width="5.01" height="4.71" fill="#006cff"/><rect x="447.99" y="252.84" width="5.01" height="4.71" fill="#006cff"/><rect x="453.01" y="252.84" width="5.01" height="4.71" fill="#006cff"/><rect x="458.02" y="252.84" width="5.01" height="4.71" fill="#f80000"/><rect x="463.03" y="252.84" width="5.01" height="4.71" fill="#f80000"/><rect x="468.05" y="252.84" width="5.01" height="4.71" fill="#f80000"/><rect x="473.06" y="252.84" width="5.01" height="4.71" fill="#f80000"/><rect x="478.08" y="252.84" width="5.01" height="4.71" fill="#f80000"/><rect x="483.09" y="252.84" width="5.01" height="4.71" fill="#9a0000"/><rect x="377.80" y="257.55" width="5.01" height="4.71" fill="#00f0f0"/><rect x="382.81" y="257.55" width="5.01" height="4.71" fill="#00aaff"/><rect x="387.83" y="257.55" width="5.01" height="4.71" fill="#0008ff"/><rect x="392.84" y="257.55" width="5.01" height="4.71" fill="#0008ff"/><rect x="397.86" y="257.55" width="5.01" height="4.71" fill="#006cff"/><rect x="402.87" y="257.55" width="5.01" height="4.71" fill="#0008ff"/><rect x="407.88" y="257.55" width="5.01" height="4.71" fill="#00aaff"/><rect x="412.90" y="257.55" width="5.01" height="4.71" fill="#006cff"/><rect x="417.91" y="257.55" width="5.01" height="4.71" fill="#006cff"/><rect x="422.92" y="257.55" width="5.01" height="4.71" fill="#006cff"/><rect x="427.94" y="257.55" width="5.01" height="4.71" fill="#006cff"/><rect x="432.95" y="257.55" width="5.01" height="4.71" fill="#006cff"/><rect x="437.97" y="257.55" width="5.01" height="4.71" fill="#006cff"/><rect x="442.98" y="257.55" width="5.01" height="4.71" fill="#006cff"/><rect x="447.99" y="257.55" width="5.01" height="4.71" fill="#006cff"/><rect x="453.01" y="257.55" width="5.01" height="4.71" fill="#00aaff"/><rect x="458.02" y="257.55" width="5.01" height="4.71" fill="#ff5000"/><rect x="463.03" y="257.55" width="5.01" height="4.71" fill="#f80000"/><rect x="468.05" y="257.55" width="5.01" height="4.71" fill="#f80000"/><rect x="473.06" y="257.55" width="5.01" height="4.71" fill="#ff5000"/><rect x="478.08" y="257.55" width="5.01" height="4.71" fill="#ff5000"/><rect x="483.09" y="257.55" width="5.01" height="4.71" fill="#f80000"/><rect x="488.10" y="257.55" width="5.01" height="4.71" fill="#9a0000"/><rect x="377.80" y="262.26" width="5.01" height="4.71" fill="#26ee8c"/><rect x="382.81" y="262.26" width="5.01" height="4.71" fill="#00f0f0"/><rect x="387.83" y="262.26" width="5.01" height="4.71" fill="#00aaff"/><rect x="392.84" y="262.26" width="5.01" height="4.71" fill="#00aaff"/><rect x="397.86" y="262.26" width="5.01" height="4.71" fill="#00aaff"/><rect x="402.87" y="262.26" width="5.01" height="4.71" fill="#0008ff"/><rect x="407.88" y="262.26" width="5.01" height="4.71" fill="#00aaff"/><rect x="412.90" y="262.26" width="5.01" height="4.71" fill="#006cff"/><rect x="417.91" y="262.26" width="5.01" height="4.71" fill="#006cff"/><rect x="422.92" y="262.26" width="5.01" height="4.71" fill="#006cff"/><rect x="427.94" y="262.26" width="5.01" height="4.71" fill="#006cff"/><rect x="432.95" y="262.26" width="5.01" height="4.71" fill="#006cff"/><rect x="437.97" y="262.26" width="5.01" height="4.71" fill="#006cff"/><rect x="442.98" y="262.26" width="5.01" height="4.71" fill="#006cff"/><rect x="447.99" y="262.26" width="5.01" height="4.71" fill="#006cff"/><rect x="453.01" y="262.26" width="5.01" height="4.71" fill="#006cff"/><rect x="458.02" y="262.26" width="5.01" height="4.71" fill="#ff5000"/><rect x="463.03" y="262.26" width="5.01" height="4.71" fill="#ff5000"/><rect x="468.05" y="262.26" width="5.01" height="4.71" fill="#ff5000"/><rect x="473.06" y="262.26" width="5.01" height="4.71" fill="#ff5000"/><rect x="478.08" y="262.26" width="5.01" height="4.71" fill="#ff5000"/><rect x="483.09" y="262.26" width="5.01" height="4.71" fill="#f80000"/><rect x="488.10" y="262.26" width="5.01" height="4.71" fill="#f80000"/><rect x="493.12" y="262.26" width="5.01" height="4.71" fill="#9a0000"/><rect x="377.80" y="266.97" width="5.01" height="4.71" fill="#00f0f0"/><rect x="382.81" y="266.97" width="5.01" height="4.71" fill="#00f0f0"/><rect x="387.83" y="266.97" width="5.01" height="4.71" fill="#00f0f0"/><rect x="392.84" y="266.97" width="5.01" height="4.71" fill="#00f0f0"/><rect x="397.86" y="266.97" width="5.01" height="4.71" fill="#00f0f0"/><rect x="402.87" y="266.97" width="5.01" height="4.71" fill="#006cff"/><rect x="407.88" y="266.97" width="5.01" height="4.71" fill="#00f0f0"/><rect x="412.90" y="266.97" width="5.01" height="4.71" fill="#006cff"/><rect x="417.91" y="266.97" width="5.01" height="4.71" fill="#006cff"/><rect x="422.92" y="266.97" width="5.01" height="4.71" fill="#00aaff"/><rect x="427.94" y="266.97" width="5.01" height="4.71" fill="#00aaff"/><rect x="432.95" y="266.97" width="5.01" height="4.71" fill="#00aaff"/><rect x="437.97" y="266.97" width="5.01" height="4.71" fill="#00aaff"/><rect x="442.98" y="266.97" width="5.01" height="4.71" fill="#00aaff"/><rect x="447.99" y="266.97" width="5.01" height="4.71" fill="#00aaff"/><rect x="453.01" y="266.97" width="5.01" height="4.71" fill="#00aaff"/><rect x="458.02" y="266.97" width="5.01" height="4.71" fill="#ff7400"/><rect x="463.03" y="266.97" width="5.01" height="4.71" fill="#ff5000"/><rect x="468.05" y="266.97" width="5.01" height="4.71" fill="#ff5000"/><rect x="473.06" y="266.97" width="5.01" height="4.71" fill="#ff7400"/><rect x="478.08" y="266.97" width="5.01" height="4.71" fill="#ff7400"/><rect x="483.09" y="266.97" width="5.01" height="4.71" fill="#ff5000"/><rect x="488.10" y="266.97" width="5.01" height="4.71" fill="#ff5000"/><rect x="493.12" y="266.97" width="5.01" height="4.71" fill="#ffbf00"/><rect x="498.13" y="266.97" width="5.01" height="4.71" fill="#9a0000"/><rect x="377.80" y="271.67" width="5.01" height="4.71" fill="#ffbf00"/><rect x="382.81" y="271.67" width="5.01" height="4.71" fill="#26ee8c"/><rect x="387.83" y="271.67" width="5.01" height="4.71" fill="#26ee8c"/><rect x="392.84" y="271.67" width="5.01" height="4.71" fill="#00f0f0"/><rect x="397.86" y="271.67" width="5.01" height="4.71" fill="#00f0f0"/><rect x="402.87" y="271.67" width="5.01" height="4.71" fill="#00f0f0"/><rect x="407.88" y="271.67" width="5.01" height="4.71" fill="#26ee8c"/><rect x="412.90" y="271.67" width="5.01" height="4.71" fill="#00f0f0"/><rect x="417.91" y="271.67" width="5.01" height="4.71" fill="#00f0f0"/><rect x="422.92" y="271.67" width="5.01" height="4.71" fill="#00f0f0"/><rect x="427.94" y="271.67" width="5.01" height="4.71" fill="#00f0f0"/><rect x="432.95" y="271.67" width="5.01" height="4.71" fill="#00f0f0"/><rect x="437.97" y="271.67" width="5.01" height="4.71" fill="#00f0f0"/><rect x="442.98" y="271.67" width="5.01" height="4.71" fill="#00f0f0"/><rect x="447.99" y="271.67" width="5.01" height="4.71" fill="#00f0f0"/><rect x="453.01" y="271.67" width="5.01" height="4.71" fill="#00f0f0"/><rect x="458.02" y="271.67" width="5.01" height="4.71" fill="#ffbf00"/><rect x="463.03" y="271.67" width="5.01" height="4.71" fill="#ffe800"/><rect x="468.05" y="271.67" width="5.01" height="4.71" fill="#ffe800"/><rect x="473.06" y="271.67" width="5.01" height="4.71" fill="#ffbf00"/><rect x="478.08" y="271.67" width="5.01" height="4.71" fill="#ffbf00"/><rect x="483.09" y="271.67" width="5.01" height="4.71" fill="#ff5000"/><rect x="488.10" y="271.67" width="5.01" height="4.71" fill="#ffbf00"/><rect x="493.12" y="271.67" width="5.01" height="4.71" fill="#ffe800"/><rect x="498.13" y="271.67" width="5.01" height="4.71" fill="#ff5000"/><rect x="503.14" y="271.67" width="5.01" height="4.71" fill="#9a0000"/><rect x="377.80" y="276.38" width="5.01" height="4.71" fill="#ffe800"/><rect x="382.81" y="276.38" width="5.01" height="4.71" fill="#b0f030"/><rect x="387.83" y="276.38" width="5.01" height="4.71" fill="#26ee8c"/><rect x="392.84" y="276.38" width="5.01" height="4.71" fill="#26ee8c"/><rect x="397.86" y="276.38" width="5.01" height="4.71" fill="#26ee8c"/><rect x="402.87" y="276.38" width="5.01" height="4.71" fill="#00f0f0"/><rect x="407.88" y="276.38" width="5.01" height="4.71" fill="#b0f030"/><rect x="412.90" y="276.38" width="5.01" height="4.71" fill="#26ee8c"/><rect x="417.91" y="276.38" width="5.01" height="4.71" fill="#26ee8c"/><rect x="422.92" y="276.38" width="5.01" height="4.71" fill="#26ee8c"/><rect x="427.94" y="276.38" width="5.01" height="4.71" fill="#26ee8c"/><rect x="432.95" y="276.38" width="5.01" height="4.71" fill="#26ee8c"/><rect x="437.97" y="276.38" width="5.01" height="4.71" fill="#26ee8c"/><rect x="442.98" y="276.38" width="5.01" height="4.71" fill="#26ee8c"/><rect x="447.99" y="276.38" width="5.01" height="4.71" fill="#26ee8c"/><rect x="453.01" y="276.38" width="5.01" height="4.71" fill="#26ee8c"/><rect x="458.02" y="276.38" width="5.01" height="4.71" fill="#b0f030"/><rect x="463.03" y="276.38" width="5.01" height="4.71" fill="#b0f030"/><rect x="468.05" y="276.38" width="5.01" height="4.71" fill="#b0f030"/><rect x="473.06" y="276.38" width="5.01" height="4.71" fill="#ffe800"/><rect x="478.08" y="276.38" width="5.01" height="4.71" fill="#b0f030"/><rect x="483.09" y="276.38" width="5.01" height="4.71" fill="#ffbf00"/><rect x="488.10" y="276.38" width="5.01" height="4.71" fill="#ffe800"/><rect x="493.12" y="276.38" width="5.01" height="4.71" fill="#ffe800"/><rect x="498.13" y="276.38" width="5.01" height="4.71" fill="#ffbf00"/><rect x="503.14" y="276.38" width="5.01" height="4.71" fill="#f80000"/><rect x="508.16" y="276.38" width="5.01" height="4.71" fill="#9a0000"/><rect x="377.80" y="281.09" width="5.01" height="4.71" fill="#f80000"/><rect x="382.81" y="281.09" width="5.01" height="4.71" fill="#ff5000"/><rect x="387.83" y="281.09" width="5.01" height="4.71" fill="#ffbf00"/><rect x="392.84" y="281.09" width="5.01" height="4.71" fill="#ffe800"/><rect x="397.86" y="281.09" width="5.01" height="4.71" fill="#ffbf00"/><rect x="402.87" y="281.09" width="5.01" height="4.71" fill="#ffe800"/><rect x="407.88" y="281.09" width="5.01" height="4.71" fill="#ff5000"/><rect x="412.90" y="281.09" width="5.01" height="4.71" fill="#ffbf00"/><rect x="417.91" y="281.09" width="5.01" height="4.71" fill="#ffbf00"/><rect x="422.92" y="281.09" width="5.01" height="4.71" fill="#ffbf00"/><rect x="427.94" y="281.09" width="5.01" height="4.71" fill="#ffbf00"/><rect x="432.95" y="281.09" width="5.01" height="4.71" fill="#ffbf00"/><rect x="437.97" y="281.09" width="5.01" height="4.71" fill="#ffbf00"/><rect x="442.98" y="281.09" width="5.01" height="4.71" fill="#ffbf00"/><rect x="447.99" y="281.09" width="5.01" height="4.71" fill="#ffbf00"/><rect x="453.01" y="281.09" width="5.01" height="4.71" fill="#ffbf00"/><rect x="458.02" y="281.09" width="5.01" height="4.71" fill="#00f0f0"/><rect x="463.03" y="281.09" width="5.01" height="4.71" fill="#00f0f0"/><rect x="468.05" y="281.09" width="5.01" height="4.71" fill="#00f0f0"/><rect x="473.06" y="281.09" width="5.01" height="4.71" fill="#00f0f0"/><rect x="478.08" y="281.09" width="5.01" height="4.71" fill="#00f0f0"/><rect x="483.09" y="281.09" width="5.01" height="4.71" fill="#26ee8c"/><rect x="488.10" y="281.09" width="5.01" height="4.71" fill="#26ee8c"/><rect x="493.12" y="281.09" width="5.01" height="4.71" fill="#b0f030"/><rect x="498.13" y="281.09" width="5.01" height="4.71" fill="#26ee8c"/><rect x="503.14" y="281.09" width="5.01" height="4.71" fill="#ffbf00"/><rect x="508.16" y="281.09" width="5.01" height="4.71" fill="#ff5000"/><rect x="513.17" y="281.09" width="5.01" height="4.71" fill="#9a0000"/><rect x="377.80" y="285.79" width="5.01" height="4.71" fill="#00f0f0"/><rect x="382.81" y="285.79" width="5.01" height="4.71" fill="#00aaff"/><rect x="387.83" y="285.79" width="5.01" height="4.71" fill="#00f0f0"/><rect x="392.84" y="285.79" width="5.01" height="4.71" fill="#00aaff"/><rect x="397.86" y="285.79" width="5.01" height="4.71" fill="#00aaff"/><rect x="402.87" y="285.79" width="5.01" height="4.71" fill="#006cff"/><rect x="407.88" y="285.79" width="5.01" height="4.71" fill="#00aaff"/><rect x="412.90" y="285.79" width="5.01" height="4.71" fill="#006cff"/><rect x="417.91" y="285.79" width="5.01" height="4.71" fill="#006cff"/><rect x="422.92" y="285.79" width="5.01" height="4.71" fill="#006cff"/><rect x="427.94" y="285.79" width="5.01" height="4.71" fill="#00aaff"/><rect x="432.95" y="285.79" width="5.01" height="4.71" fill="#00aaff"/><rect x="437.97" y="285.79" width="5.01" height="4.71" fill="#00aaff"/><rect x="442.98" y="285.79" width="5.01" height="4.71" fill="#00aaff"/><rect x="447.99" y="285.79" width="5.01" height="4.71" fill="#00aaff"/><rect x="453.01" y="285.79" width="5.01" height="4.71" fill="#00aaff"/><rect x="458.02" y="285.79" width="5.01" height="4.71" fill="#0008ff"/><rect x="463.03" y="285.79" width="5.01" height="4.71" fill="#0008ff"/><rect x="468.05" y="285.79" width="5.01" height="4.71" fill="#0008ff"/><rect x="473.06" y="285.79" width="5.01" height="4.71" fill="#0008ff"/><rect x="478.08" y="285.79" width="5.01" height="4.71" fill="#0008ff"/><rect x="483.09" y="285.79" width="5.01" height="4.71" fill="#0008ff"/><rect x="488.10" y="285.79" width="5.01" height="4.71" fill="#006cff"/><rect x="493.12" y="285.79" width="5.01" height="4.71" fill="#006cff"/><rect x="498.13" y="285.79" width="5.01" height="4.71" fill="#006cff"/><rect x="503.14" y="285.79" width="5.01" height="4.71" fill="#006cff"/><rect x="508.16" y="285.79" width="5.01" height="4.71" fill="#006cff"/><rect x="513.17" y="285.79" width="5.01" height="4.71" fill="#00f0f0"/><rect x="518.19" y="285.79" width="5.01" height="4.71" fill="#9a0000"/></g>
<g font-family="Liberation Serif, serif" font-weight="bold" font-size="3.1" fill="#222" text-rendering="geometricPrecision" text-anchor="start"><text x="367.90" y="157.38">WZ 25</text><text x="367.90" y="162.08">WZ 16</text><text x="367.90" y="166.79">WZ 13</text><text x="367.90" y="171.50">WZ 8</text><text x="367.90" y="176.20">WZ 18</text><text x="367.90" y="180.91">WZ 7</text><text x="367.90" y="185.62">WZ 20</text><text x="367.90" y="190.32">WZ 11</text><text x="367.90" y="195.03">WZ 4</text><text x="367.90" y="199.74">WZ 5</text><text x="367.90" y="204.45">WZ 6</text><text x="367.90" y="209.15">WZ 9</text><text x="367.90" y="213.86">WZ 10</text><text x="367.90" y="218.57">WZ 12</text><text x="367.90" y="223.27">WZ 14</text><text x="367.90" y="227.98">WZ 15</text><text x="367.90" y="232.69">WZ 26</text><text x="367.90" y="237.39">WZ 27</text><text x="367.90" y="242.10">WZ 28</text><text x="367.90" y="246.81">WZ 19</text><text x="367.90" y="251.51">WZ 17</text><text x="367.90" y="256.22">WZ 21</text><text x="367.90" y="260.93">WZ 22</text><text x="367.90" y="265.64">WZ 23</text><text x="367.90" y="270.34">WZ 24</text><text x="367.90" y="275.05">WZ 29</text><text x="367.90" y="279.76">WZ 1</text><text x="367.90" y="284.46">WZ 2</text><text x="367.90" y="289.17">WZ 3</text></g>
<g font-family="Liberation Serif, serif" font-weight="bold" font-size="3.1" fill="#222" text-rendering="geometricPrecision" text-anchor="start"><text transform="translate(381.79,301.70) rotate(-90)">WZ 25</text><text transform="translate(386.81,301.70) rotate(-90)">WZ 16</text><text transform="translate(391.82,301.70) rotate(-90)">WZ 13</text><text transform="translate(396.83,301.70) rotate(-90)">WZ 8</text><text transform="translate(401.85,301.70) rotate(-90)">WZ 18</text><text transform="translate(406.86,301.70) rotate(-90)">WZ 7</text><text transform="translate(411.87,301.70) rotate(-90)">WZ 20</text><text transform="translate(416.89,301.70) rotate(-90)">WZ 11</text><text transform="translate(421.90,301.70) rotate(-90)">WZ 4</text><text transform="translate(426.92,301.70) rotate(-90)">WZ 5</text><text transform="translate(431.93,301.70) rotate(-90)">WZ 6</text><text transform="translate(436.94,301.70) rotate(-90)">WZ 9</text><text transform="translate(441.96,301.70) rotate(-90)">WZ 10</text><text transform="translate(446.97,301.70) rotate(-90)">WZ 12</text><text transform="translate(451.98,301.70) rotate(-90)">WZ 14</text><text transform="translate(457.00,301.70) rotate(-90)">WZ 15</text><text transform="translate(462.01,301.70) rotate(-90)">WZ 26</text><text transform="translate(467.03,301.70) rotate(-90)">WZ 27</text><text transform="translate(472.04,301.70) rotate(-90)">WZ 28</text><text transform="translate(477.05,301.70) rotate(-90)">WZ 19</text><text transform="translate(482.07,301.70) rotate(-90)">WZ 17</text><text transform="translate(487.08,301.70) rotate(-90)">WZ 21</text><text transform="translate(492.10,301.70) rotate(-90)">WZ 22</text><text transform="translate(497.11,301.70) rotate(-90)">WZ 23</text><text transform="translate(502.12,301.70) rotate(-90)">WZ 24</text><text transform="translate(507.14,301.70) rotate(-90)">WZ 29</text><text transform="translate(512.15,301.70) rotate(-90)">WZ 1</text><text transform="translate(517.16,301.70) rotate(-90)">WZ 2</text><text transform="translate(522.18,301.70) rotate(-90)">WZ 3</text></g>
<text x="524.0" y="159.1" font-family="Liberation Serif, serif" font-weight="bold" font-size="6.1" fill="#111" stroke="#111" stroke-width="0.2">WZ</text>
<defs><linearGradient id="jetWZ" x1="0" y1="1" x2="0" y2="0"><stop offset="0" stop-color="#00008f"/><stop offset="0.14" stop-color="#0000ff"/><stop offset="0.26" stop-color="#0080ff"/><stop offset="0.37" stop-color="#00ffff"/><stop offset="0.48" stop-color="#80ff80"/><stop offset="0.6" stop-color="#ffff00"/><stop offset="0.73" stop-color="#ff8000"/><stop offset="0.86" stop-color="#ff0000"/><stop offset="1" stop-color="#800000"/></linearGradient></defs>
<rect x="528.1" y="198.0" width="5.90" height="36.20" fill="url(#jetWZ)"/>
<g stroke="#444" stroke-width="0.35" font-family="Liberation Serif, serif" font-size="2.0" fill="#333" text-rendering="geometricPrecision"><line x1="533.40" y1="199.20" x2="534.50" y2="199.20"/><text x="536.30" y="199.90" stroke="none" textLength="3.8" lengthAdjust="spacingAndGlyphs">100.0</text><line x1="533.40" y1="202.56" x2="534.50" y2="202.56"/><text x="536.30" y="203.26" stroke="none" textLength="3.8" lengthAdjust="spacingAndGlyphs">100.0</text><line x1="533.40" y1="205.92" x2="534.50" y2="205.92"/><text x="536.30" y="206.62" stroke="none" textLength="3.8" lengthAdjust="spacingAndGlyphs">100.0</text><line x1="533.40" y1="209.28" x2="534.50" y2="209.28"/><text x="536.30" y="209.98" stroke="none" textLength="3.8" lengthAdjust="spacingAndGlyphs">99.5</text><line x1="533.40" y1="212.64" x2="534.50" y2="212.64"/><text x="536.30" y="213.34" stroke="none" textLength="3.8" lengthAdjust="spacingAndGlyphs">99.0</text><line x1="533.40" y1="216.00" x2="534.50" y2="216.00"/><text x="536.30" y="216.70" stroke="none" textLength="3.8" lengthAdjust="spacingAndGlyphs">98.5</text><line x1="533.40" y1="219.36" x2="534.50" y2="219.36"/><text x="536.30" y="220.06" stroke="none" textLength="3.8" lengthAdjust="spacingAndGlyphs">98.0</text><line x1="533.40" y1="222.72" x2="534.50" y2="222.72"/><text x="536.30" y="223.42" stroke="none" textLength="3.8" lengthAdjust="spacingAndGlyphs">97.5</text><line x1="533.40" y1="226.08" x2="534.50" y2="226.08"/><text x="536.30" y="226.78" stroke="none" textLength="3.8" lengthAdjust="spacingAndGlyphs">97.0</text><line x1="533.40" y1="229.44" x2="534.50" y2="229.44"/><text x="536.30" y="230.14" stroke="none" textLength="3.8" lengthAdjust="spacingAndGlyphs">96.5</text><line x1="533.40" y1="232.80" x2="534.50" y2="232.80"/><text x="536.30" y="233.50" stroke="none" textLength="3.8" lengthAdjust="spacingAndGlyphs">96.0</text></g>
<text x="493.3" y="190.9" font-family="Liberation Serif, serif" font-weight="bold" font-size="6.6" fill="#111" stroke="#111" stroke-width="0.05" textLength="53.6" lengthAdjust="spacingAndGlyphs">Pairwise identity (%)</text>
<line x1="393.9" y1="153.6" x2="450.6" y2="205.4" stroke="#f6782a" stroke-width="1.2"/>
<line x1="452.9" y1="207.7" x2="497.6" y2="250.4" stroke="#2e86e6" stroke-width="1.2"/>
<line x1="501.2" y1="254.0" x2="529.0" y2="279.0" stroke="#fab418" stroke-width="1.2"/>
<text transform="translate(428.48,175.12) rotate(45)" font-family="Liberation Sans, sans-serif" font-weight="bold" font-size="5.6" fill="#111" stroke="#111" stroke-width="0.3" text-anchor="middle" letter-spacing="0.6">I</text>
<text transform="translate(481.28,224.92) rotate(45)" font-family="Liberation Sans, sans-serif" font-weight="bold" font-size="5.6" fill="#111" stroke="#111" stroke-width="0.3" text-anchor="middle" letter-spacing="0.6">II</text>
<text transform="translate(518.38,262.42) rotate(45)" font-family="Liberation Sans, sans-serif" font-weight="bold" font-size="5.6" fill="#111" stroke="#111" stroke-width="0.3" text-anchor="middle" letter-spacing="0.6">III</text>
</svg></body></html>
